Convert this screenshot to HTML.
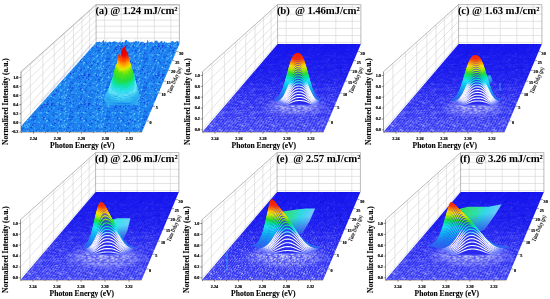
<!DOCTYPE html>
<html><head><meta charset="utf-8"><style>html,body{margin:0;padding:0;background:#fff;width:550px;height:299px;overflow:hidden}svg{display:block}</style></head>
<body><svg width="550" height="299" viewBox="0 0 550 299"><defs><pattern id="pa" patternUnits="userSpaceOnUse" width="37" height="29"><rect width="37" height="29" fill="#1c84f0"/><rect x="23.1" y="26" width="0.8" height="0.8" fill="#50b8ff"/><rect x="32.3" y="0.2" width="1.4" height="1.2" fill="#1038d8"/><rect x="17.3" y="8.8" width="0.9" height="1" fill="#1460e8"/><rect x="18.7" y="16.1" width="1.6" height="1.2" fill="#2a98f6"/><rect x="23" y="28.7" width="0.8" height="1.1" fill="#1460e8"/><rect x="1.6" y="1" width="1.1" height="1" fill="#2a98f6"/><rect x="33.9" y="18.2" width="1.1" height="0.8" fill="#1460e8"/><rect x="0.4" y="5.6" width="1.3" height="0.8" fill="#50b8ff"/><rect x="13.7" y="0.1" width="0.8" height="0.8" fill="#50b8ff"/><rect x="32.6" y="14.8" width="1.4" height="1.1" fill="#1038d8"/><rect x="27.4" y="2.7" width="1.1" height="1.3" fill="#2a98f6"/><rect x="13.4" y="17.3" width="0.7" height="0.9" fill="#50b8ff"/><rect x="12" y="4.4" width="1" height="1.4" fill="#1460e8"/><rect x="21.8" y="17.5" width="1.2" height="1.1" fill="#1038d8"/><rect x="5.6" y="12.8" width="1" height="0.7" fill="#1460e8"/><rect x="35.8" y="6.2" width="1.3" height="0.8" fill="#2a98f6"/><rect x="32.3" y="19.2" width="1.4" height="1.4" fill="#50b8ff"/><rect x="33.4" y="16.5" width="0.7" height="0.8" fill="#1248e0"/><rect x="34.3" y="16" width="1.5" height="1.1" fill="#1248e0"/><rect x="21.1" y="10.9" width="1" height="0.8" fill="#2a98f6"/><rect x="1.4" y="25.4" width="1.1" height="0.9" fill="#50b8ff"/><rect x="27.8" y="0.7" width="1" height="0.6" fill="#1460e8"/><rect x="4.5" y="28" width="1" height="1" fill="#1248e0"/><rect x="32.3" y="10" width="1.2" height="1.1" fill="#50b8ff"/><rect x="13.2" y="15.1" width="1.5" height="0.7" fill="#50b8ff"/><rect x="34.5" y="0.2" width="1.4" height="1.2" fill="#1038d8"/><rect x="5.1" y="12.1" width="0.6" height="1.1" fill="#70d0ff"/><rect x="29.3" y="14.9" width="1.3" height="0.8" fill="#1038d8"/><rect x="7.3" y="10.5" width="0.9" height="1.4" fill="#1248e0"/><rect x="21.2" y="9.9" width="0.9" height="1.4" fill="#2a98f6"/><rect x="16.4" y="28.4" width="1.1" height="1.3" fill="#1248e0"/><rect x="27.5" y="16.8" width="1" height="1.3" fill="#50b8ff"/><rect x="15.2" y="26.8" width="1" height="1" fill="#1248e0"/><rect x="35.2" y="7.3" width="1.4" height="1.1" fill="#1248e0"/><rect x="26.5" y="18.3" width="0.9" height="0.9" fill="#70d0ff"/><rect x="7.5" y="1.5" width="0.8" height="1.3" fill="#70d0ff"/><rect x="31.1" y="3.3" width="1.1" height="1.1" fill="#1038d8"/><rect x="24.4" y="8.9" width="1.6" height="1" fill="#50b8ff"/><rect x="23.2" y="18.4" width="0.7" height="0.9" fill="#1248e0"/><rect x="28.3" y="23.6" width="1.3" height="0.7" fill="#2a98f6"/><rect x="33.8" y="23.3" width="1.1" height="1.3" fill="#1038d8"/><rect x="1.7" y="0.9" width="0.6" height="0.8" fill="#70d0ff"/><rect x="9.2" y="5.4" width="0.6" height="1.1" fill="#70d0ff"/><rect x="6.1" y="19.7" width="0.6" height="0.8" fill="#50b8ff"/><rect x="34.7" y="15.6" width="1.3" height="1.1" fill="#50b8ff"/><rect x="7.1" y="16.7" width="0.6" height="1.2" fill="#1038d8"/><rect x="35.5" y="24.8" width="0.9" height="0.9" fill="#1248e0"/><rect x="4.2" y="18.2" width="1.4" height="0.9" fill="#1248e0"/><rect x="31.9" y="23.1" width="1.4" height="1.3" fill="#2a98f6"/><rect x="7.3" y="16.6" width="1.2" height="1.1" fill="#1248e0"/><rect x="3.6" y="19.2" width="1.4" height="1.2" fill="#1248e0"/><rect x="12.1" y="20.9" width="1.5" height="1.3" fill="#50b8ff"/><rect x="6" y="0.8" width="0.8" height="1.1" fill="#1460e8"/><rect x="35" y="11" width="0.9" height="1" fill="#50b8ff"/><rect x="24.3" y="2.9" width="0.7" height="1.1" fill="#50b8ff"/><rect x="30.7" y="10.9" width="1" height="1" fill="#1460e8"/><rect x="8" y="7.2" width="1.1" height="0.7" fill="#2a98f6"/><rect x="27.9" y="16.8" width="0.9" height="0.7" fill="#2a98f6"/><rect x="28.2" y="3.8" width="0.7" height="0.7" fill="#50b8ff"/><rect x="33.5" y="7.8" width="0.9" height="1.3" fill="#1248e0"/><rect x="22.9" y="5.4" width="1.5" height="0.9" fill="#1248e0"/><rect x="26.3" y="2.8" width="1.3" height="1.2" fill="#1460e8"/><rect x="30.6" y="19.6" width="0.7" height="1" fill="#1460e8"/><rect x="28" y="5.5" width="0.9" height="1" fill="#1460e8"/><rect x="27.7" y="26" width="0.8" height="1.2" fill="#50b8ff"/><rect x="23.8" y="20.9" width="1.6" height="1.4" fill="#1248e0"/><rect x="31.2" y="22.5" width="1.2" height="0.7" fill="#50b8ff"/><rect x="28.1" y="22" width="1.3" height="1" fill="#1460e8"/><rect x="14" y="12.2" width="1.4" height="1" fill="#1460e8"/><rect x="14.3" y="15.9" width="1.3" height="0.9" fill="#1248e0"/><rect x="30.7" y="26.7" width="0.7" height="1.2" fill="#1460e8"/><rect x="36.7" y="4.3" width="1.3" height="1.3" fill="#1460e8"/><rect x="34.1" y="3.6" width="1.6" height="0.7" fill="#1460e8"/><rect x="6.5" y="16.7" width="1" height="1.2" fill="#1248e0"/><rect x="7.1" y="26.5" width="1.4" height="0.7" fill="#1038d8"/><rect x="17.5" y="0.9" width="0.9" height="0.8" fill="#2a98f6"/><rect x="26.6" y="13.2" width="1.6" height="1.3" fill="#1038d8"/><rect x="33.9" y="7.2" width="1" height="0.8" fill="#1248e0"/><rect x="4.6" y="1" width="0.7" height="0.7" fill="#70d0ff"/><rect x="31.8" y="14" width="0.8" height="1.1" fill="#50b8ff"/><rect x="9.8" y="15.3" width="1.1" height="1.1" fill="#1038d8"/><rect x="19.8" y="11.5" width="1.4" height="1.3" fill="#2a98f6"/><rect x="6.6" y="4" width="1.6" height="1.4" fill="#1460e8"/><rect x="8.5" y="28.1" width="0.8" height="1" fill="#1248e0"/><rect x="18.4" y="26.5" width="0.9" height="1.1" fill="#1038d8"/><rect x="2.5" y="6.9" width="1.1" height="1.3" fill="#1248e0"/><rect x="28.2" y="24" width="1.3" height="1.3" fill="#70d0ff"/><rect x="25.2" y="21.3" width="0.9" height="0.7" fill="#1038d8"/><rect x="28" y="4.8" width="1.2" height="0.9" fill="#1460e8"/><rect x="34.7" y="4.5" width="1.1" height="0.7" fill="#70d0ff"/><rect x="35.7" y="16.7" width="0.9" height="1.2" fill="#1460e8"/><rect x="26" y="18.7" width="1.6" height="0.9" fill="#1038d8"/><rect x="15.4" y="20.1" width="0.9" height="1.1" fill="#2a98f6"/><rect x="7.7" y="16" width="1.4" height="0.7" fill="#70d0ff"/><rect x="26.9" y="0.4" width="1.1" height="0.9" fill="#50b8ff"/><rect x="26.7" y="15.2" width="1.3" height="0.7" fill="#70d0ff"/><rect x="20.8" y="16.2" width="0.6" height="1" fill="#1248e0"/><rect x="23.3" y="16" width="0.7" height="1.1" fill="#70d0ff"/><rect x="8.2" y="5.7" width="0.8" height="1" fill="#2a98f6"/><rect x="27.8" y="20.5" width="1.2" height="1.2" fill="#70d0ff"/><rect x="17.2" y="18" width="1.3" height="1.1" fill="#1248e0"/><rect x="15" y="16.2" width="1" height="1.2" fill="#1038d8"/><rect x="14.1" y="13.5" width="1.1" height="0.9" fill="#1248e0"/><rect x="30.6" y="11" width="1.4" height="1.2" fill="#1038d8"/><rect x="16.5" y="20.7" width="1" height="1.3" fill="#70d0ff"/><rect x="21.4" y="16.2" width="1.3" height="1.1" fill="#1248e0"/><rect x="21.6" y="12.2" width="0.9" height="0.8" fill="#1248e0"/><rect x="15.9" y="29" width="1" height="1" fill="#2a98f6"/><rect x="13.8" y="16.9" width="1.5" height="0.9" fill="#1038d8"/><rect x="9.9" y="25.6" width="1.1" height="1.1" fill="#70d0ff"/><rect x="2.7" y="25.1" width="1.1" height="0.8" fill="#2a98f6"/><rect x="15.5" y="24" width="1.4" height="1" fill="#2a98f6"/><rect x="28.4" y="13.3" width="1.1" height="0.8" fill="#1038d8"/><rect x="11.7" y="20.5" width="1.4" height="0.6" fill="#1460e8"/><rect x="27.1" y="23.7" width="0.7" height="1.1" fill="#1460e8"/><rect x="9.1" y="18.7" width="1" height="1.1" fill="#1460e8"/><rect x="9.6" y="13.8" width="1.2" height="0.8" fill="#2a98f6"/><rect x="35.6" y="8.4" width="0.9" height="0.8" fill="#50b8ff"/><rect x="2.5" y="12.3" width="1.3" height="0.8" fill="#70d0ff"/><rect x="5.1" y="9.3" width="1.4" height="1" fill="#1038d8"/><rect x="34.2" y="19" width="1.4" height="1.2" fill="#50b8ff"/><rect x="12.7" y="7.5" width="1" height="1" fill="#50b8ff"/><rect x="5.2" y="12.8" width="0.7" height="0.7" fill="#2a98f6"/><rect x="6.4" y="8.2" width="1.6" height="0.6" fill="#50b8ff"/><rect x="6.8" y="4.8" width="0.6" height="1" fill="#70d0ff"/><rect x="6" y="7.8" width="1.4" height="0.7" fill="#1460e8"/><rect x="22.8" y="11.8" width="1.4" height="0.7" fill="#1038d8"/><rect x="34.2" y="25.9" width="1.3" height="0.6" fill="#1460e8"/><rect x="24.5" y="17.4" width="0.8" height="1.4" fill="#1460e8"/><rect x="32.8" y="3.3" width="0.9" height="0.6" fill="#1038d8"/><rect x="30.7" y="26.5" width="1.2" height="1.1" fill="#70d0ff"/><rect x="25.1" y="16.5" width="1.6" height="1.1" fill="#70d0ff"/><rect x="12.4" y="14.9" width="1.3" height="1.2" fill="#2a98f6"/><rect x="15.6" y="24.7" width="1.4" height="0.9" fill="#1248e0"/><rect x="2.9" y="3.8" width="0.9" height="1" fill="#50b8ff"/><rect x="34.3" y="8.1" width="1.5" height="1.1" fill="#2a98f6"/><rect x="31.6" y="11.7" width="1.4" height="0.8" fill="#1460e8"/><rect x="5.3" y="23.2" width="1.3" height="0.8" fill="#1248e0"/><rect x="9.9" y="27.2" width="1.3" height="0.7" fill="#1038d8"/><rect x="30.2" y="3.4" width="1.1" height="0.6" fill="#2a98f6"/><rect x="20.4" y="24.6" width="0.9" height="1.2" fill="#50b8ff"/><rect x="22.5" y="9.1" width="1.2" height="1" fill="#1248e0"/><rect x="31.9" y="8.5" width="1.2" height="1.2" fill="#1038d8"/><rect x="14" y="21" width="1.3" height="0.9" fill="#1038d8"/><rect x="1" y="27.9" width="0.8" height="1.2" fill="#50b8ff"/><rect x="10.3" y="13.6" width="1.5" height="1" fill="#1038d8"/><rect x="10.7" y="8.9" width="0.8" height="0.8" fill="#50b8ff"/><rect x="6.4" y="1.8" width="1.1" height="0.8" fill="#1248e0"/><rect x="27.3" y="26.8" width="1.2" height="1" fill="#50b8ff"/><rect x="2.8" y="3.6" width="1.5" height="1" fill="#2a98f6"/><rect x="29.8" y="1.9" width="1.5" height="1.3" fill="#70d0ff"/><rect x="0.2" y="15.1" width="1" height="1.2" fill="#50b8ff"/><rect x="2.7" y="7.7" width="1.1" height="1" fill="#2a98f6"/><rect x="35.8" y="9.3" width="0.6" height="0.9" fill="#1038d8"/><rect x="5.7" y="2.4" width="1.6" height="1.1" fill="#1248e0"/><rect x="23.9" y="9.4" width="1.2" height="1.2" fill="#50b8ff"/><rect x="21.8" y="23.3" width="0.8" height="1.1" fill="#70d0ff"/><rect x="18.2" y="4.8" width="1.2" height="1.3" fill="#50b8ff"/><rect x="5" y="15.8" width="1" height="0.8" fill="#70d0ff"/><rect x="13.8" y="15.7" width="1.3" height="1" fill="#1038d8"/><rect x="4" y="23.7" width="0.7" height="0.8" fill="#1038d8"/><rect x="6.4" y="24.6" width="1.5" height="0.6" fill="#70d0ff"/><rect x="12.3" y="5.6" width="1.5" height="0.7" fill="#1460e8"/><rect x="6.3" y="14.1" width="1.1" height="1.2" fill="#1460e8"/><rect x="16.2" y="4.1" width="1.6" height="1.2" fill="#70d0ff"/><rect x="4.3" y="23.4" width="0.9" height="1.2" fill="#1460e8"/><rect x="0.5" y="25.3" width="1.1" height="1.1" fill="#50b8ff"/><rect x="18.8" y="4.8" width="0.7" height="0.8" fill="#1248e0"/><rect x="1.9" y="6.3" width="1.1" height="0.9" fill="#70d0ff"/><rect x="21.7" y="8.1" width="0.6" height="0.9" fill="#1248e0"/><rect x="27.9" y="7.4" width="1.4" height="0.9" fill="#2a98f6"/><rect x="32.8" y="26.6" width="0.9" height="1.2" fill="#1460e8"/><rect x="9.4" y="4" width="1.2" height="1.3" fill="#70d0ff"/><rect x="5.4" y="20.7" width="1.1" height="0.7" fill="#1460e8"/><rect x="36" y="20.2" width="1.5" height="0.7" fill="#2a98f6"/><rect x="3.4" y="9.6" width="1.5" height="0.6" fill="#1248e0"/><rect x="34" y="17.7" width="1.2" height="1" fill="#70d0ff"/><rect x="20.9" y="21.4" width="1.3" height="1.4" fill="#1248e0"/><rect x="5.8" y="23.6" width="1.4" height="1.3" fill="#1460e8"/><rect x="36.7" y="7.7" width="1.1" height="1.4" fill="#1460e8"/><rect x="35" y="10.8" width="1" height="0.9" fill="#1460e8"/><rect x="28" y="13.7" width="1" height="0.9" fill="#70d0ff"/><rect x="16" y="4.1" width="1.4" height="1.1" fill="#1248e0"/><rect x="24.9" y="23.3" width="0.8" height="0.8" fill="#1248e0"/><rect x="10.3" y="8.8" width="1" height="0.9" fill="#50b8ff"/><rect x="23.5" y="5.4" width="0.7" height="1.2" fill="#1038d8"/><rect x="28" y="8.6" width="0.6" height="0.9" fill="#1460e8"/><rect x="21.4" y="7.3" width="0.9" height="1.1" fill="#50b8ff"/><rect x="21.8" y="4.5" width="0.7" height="1.4" fill="#2a98f6"/><rect x="7.5" y="7.4" width="0.8" height="1.4" fill="#1038d8"/><rect x="10.6" y="17.6" width="1.6" height="0.6" fill="#1248e0"/><rect x="19.3" y="17.4" width="1.3" height="0.9" fill="#70d0ff"/><rect x="12.1" y="0.1" width="1.2" height="0.7" fill="#1460e8"/><rect x="7.5" y="9.7" width="0.7" height="0.6" fill="#1248e0"/><rect x="34.3" y="12.6" width="1.3" height="0.6" fill="#70d0ff"/><rect x="9.1" y="27.9" width="1.5" height="1.1" fill="#2a98f6"/><rect x="3.4" y="9.2" width="0.8" height="0.6" fill="#1460e8"/><rect x="4.7" y="18.4" width="0.7" height="0.7" fill="#1248e0"/><rect x="33.4" y="9.7" width="0.7" height="1.2" fill="#50b8ff"/><rect x="25" y="15.9" width="1.2" height="0.7" fill="#2a98f6"/><rect x="9.6" y="16.9" width="1.4" height="1.1" fill="#1038d8"/><rect x="19.2" y="0.4" width="1.5" height="0.7" fill="#70d0ff"/><rect x="4.8" y="20.1" width="1.4" height="1" fill="#1038d8"/><rect x="6.6" y="1" width="1.5" height="1.4" fill="#1038d8"/><rect x="9" y="25.1" width="0.9" height="1" fill="#70d0ff"/><rect x="0.3" y="12.8" width="0.8" height="1.2" fill="#1460e8"/><rect x="18.6" y="25.2" width="0.9" height="0.8" fill="#70d0ff"/><rect x="34.7" y="14.6" width="0.7" height="0.6" fill="#70d0ff"/><rect x="36.6" y="16.8" width="1.1" height="1" fill="#1038d8"/><rect x="16.1" y="27.6" width="1.5" height="0.7" fill="#1248e0"/><rect x="5.6" y="11.8" width="1.2" height="1.2" fill="#1038d8"/><rect x="21.3" y="6.1" width="1.4" height="0.6" fill="#70d0ff"/><rect x="25.8" y="5.6" width="1.6" height="1" fill="#2a98f6"/><rect x="2.1" y="12.4" width="1.3" height="0.6" fill="#1460e8"/><rect x="9.3" y="0.5" width="1" height="1" fill="#1038d8"/><rect x="10.9" y="19" width="0.8" height="1.3" fill="#50b8ff"/><rect x="35.5" y="14.3" width="1.5" height="0.8" fill="#1038d8"/><rect x="29.7" y="8.3" width="1.3" height="0.9" fill="#1460e8"/><rect x="22.3" y="26.9" width="1.4" height="1" fill="#50b8ff"/><rect x="14" y="10.2" width="0.7" height="0.8" fill="#1248e0"/><rect x="23.1" y="2.8" width="1.6" height="1.4" fill="#50b8ff"/><rect x="32.9" y="23.4" width="0.8" height="1.4" fill="#1038d8"/><rect x="7.5" y="25.2" width="1.2" height="1" fill="#2a98f6"/><rect x="7.4" y="15.1" width="0.9" height="0.7" fill="#70d0ff"/><rect x="4.7" y="23.2" width="0.7" height="0.6" fill="#70d0ff"/><rect x="9.8" y="3.9" width="0.8" height="1.1" fill="#70d0ff"/><rect x="15.6" y="12.4" width="1.3" height="0.8" fill="#1038d8"/><rect x="14.8" y="13.4" width="1.5" height="0.8" fill="#2a98f6"/><rect x="26.6" y="9" width="1" height="1" fill="#50b8ff"/><rect x="32.5" y="19.5" width="0.7" height="0.7" fill="#70d0ff"/><rect x="36.7" y="0.8" width="1.6" height="0.6" fill="#1038d8"/><rect x="6" y="6.2" width="0.7" height="1" fill="#2a98f6"/><rect x="21.9" y="9.2" width="1.4" height="1.2" fill="#50b8ff"/><rect x="20.8" y="4" width="1.1" height="1.1" fill="#1248e0"/><rect x="15.8" y="25.1" width="1.1" height="0.7" fill="#1460e8"/><rect x="20.9" y="22.2" width="1.3" height="0.8" fill="#1460e8"/><rect x="36.7" y="20.9" width="1" height="1.2" fill="#1038d8"/><rect x="6.5" y="18.5" width="1.3" height="1" fill="#1460e8"/><rect x="32.3" y="13.6" width="0.9" height="1.3" fill="#2a98f6"/><rect x="11.7" y="20.2" width="1" height="1.3" fill="#1460e8"/><rect x="35.1" y="0.9" width="1.2" height="0.7" fill="#1248e0"/><rect x="18.4" y="1.4" width="1.1" height="0.7" fill="#70d0ff"/><rect x="13.6" y="8.8" width="1.4" height="1.3" fill="#70d0ff"/><rect x="12.2" y="16.5" width="0.6" height="0.9" fill="#50b8ff"/><rect x="35.5" y="3.4" width="1.3" height="0.8" fill="#1460e8"/><rect x="28.8" y="8.4" width="1.5" height="0.7" fill="#70d0ff"/><rect x="4.4" y="21.8" width="0.7" height="1" fill="#50b8ff"/><rect x="11" y="15.9" width="1.3" height="1.3" fill="#1460e8"/><rect x="2.2" y="17.2" width="1.1" height="1.2" fill="#2a98f6"/><rect x="3.6" y="25.3" width="1.2" height="1.3" fill="#70d0ff"/><rect x="29.1" y="25.2" width="1.3" height="0.8" fill="#1460e8"/><rect x="9.8" y="9.4" width="1.2" height="1.1" fill="#1248e0"/><rect x="34.5" y="0.4" width="1" height="1.3" fill="#1460e8"/><rect x="20.3" y="14.8" width="1.4" height="1.1" fill="#2a98f6"/><rect x="10.7" y="2.5" width="1.5" height="1.1" fill="#1248e0"/><rect x="2" y="12.8" width="1" height="1.1" fill="#1460e8"/><rect x="21.7" y="27.6" width="1" height="1.1" fill="#50b8ff"/><rect x="32.8" y="20.5" width="1.1" height="1.3" fill="#1460e8"/><rect x="18" y="27.9" width="0.7" height="1.3" fill="#50b8ff"/><rect x="11" y="24.6" width="1.2" height="1" fill="#2a98f6"/><rect x="3.2" y="22.8" width="1.6" height="1.3" fill="#2a98f6"/><rect x="11.2" y="3.7" width="1.5" height="1" fill="#1248e0"/><rect x="4.6" y="14.5" width="1" height="1.1" fill="#1038d8"/><rect x="33.9" y="23.2" width="0.8" height="1" fill="#2a98f6"/><rect x="18.2" y="28.7" width="1.1" height="1.3" fill="#70d0ff"/><rect x="14.8" y="7.6" width="1.2" height="0.9" fill="#1248e0"/><rect x="34.3" y="2.5" width="0.7" height="1.2" fill="#1248e0"/><rect x="10.8" y="26.1" width="1.5" height="1.3" fill="#2a98f6"/><rect x="9.5" y="0" width="1.6" height="1.2" fill="#2a98f6"/><rect x="2.2" y="20.4" width="1.5" height="1.4" fill="#1460e8"/><rect x="26.5" y="25" width="1" height="0.7" fill="#70d0ff"/><rect x="26.9" y="4" width="1" height="1.4" fill="#70d0ff"/><rect x="20.7" y="15.1" width="0.9" height="1.4" fill="#70d0ff"/><rect x="33.7" y="10.6" width="0.9" height="0.7" fill="#70d0ff"/><rect x="33.9" y="5.4" width="1.5" height="1.1" fill="#2a98f6"/><rect x="24.9" y="21.3" width="0.6" height="0.7" fill="#1248e0"/><rect x="18.5" y="1.5" width="1.3" height="1.1" fill="#2a98f6"/><rect x="22.8" y="1.3" width="0.8" height="1.3" fill="#50b8ff"/><rect x="4.6" y="15.5" width="1.5" height="0.7" fill="#50b8ff"/><rect x="15.2" y="15.9" width="1.3" height="1.3" fill="#1248e0"/><rect x="27.2" y="10.1" width="1.3" height="1.4" fill="#70d0ff"/><rect x="0.6" y="22.5" width="0.8" height="1" fill="#1248e0"/><rect x="19.3" y="17.8" width="1.3" height="0.9" fill="#1460e8"/><rect x="26.5" y="13.5" width="1" height="0.9" fill="#70d0ff"/><rect x="18.3" y="8.2" width="0.7" height="1" fill="#2a98f6"/><rect x="10.9" y="24.3" width="1.4" height="0.9" fill="#2a98f6"/><rect x="22.9" y="26.2" width="1.2" height="1" fill="#70d0ff"/><rect x="24.1" y="27.8" width="0.7" height="1.4" fill="#1460e8"/><rect x="24.6" y="23.1" width="1.5" height="0.9" fill="#1248e0"/><rect x="26.2" y="7.7" width="1.1" height="1.1" fill="#50b8ff"/><rect x="7.4" y="1.8" width="1.4" height="1.1" fill="#70d0ff"/><rect x="11.9" y="19.1" width="0.7" height="1.1" fill="#1038d8"/><rect x="21.3" y="17.9" width="0.8" height="1.2" fill="#2a98f6"/><rect x="17.2" y="21.6" width="1" height="0.7" fill="#1460e8"/><rect x="20.1" y="18.1" width="1.5" height="0.6" fill="#2a98f6"/><rect x="28.6" y="7.6" width="1.3" height="0.9" fill="#70d0ff"/><rect x="11.9" y="14.2" width="1.3" height="1.1" fill="#2a98f6"/><rect x="25.1" y="11.1" width="1.3" height="0.9" fill="#50b8ff"/><rect x="22.5" y="13.3" width="0.6" height="1" fill="#1460e8"/><rect x="8.1" y="11.2" width="0.7" height="1.1" fill="#50b8ff"/><rect x="33.1" y="10.3" width="1.2" height="0.7" fill="#1248e0"/><rect x="33" y="3.6" width="1" height="1" fill="#1248e0"/><rect x="4.4" y="9.2" width="1.3" height="1.4" fill="#70d0ff"/><rect x="13.4" y="22.9" width="0.7" height="1.1" fill="#2a98f6"/><rect x="16" y="8.4" width="1.3" height="0.7" fill="#1460e8"/><rect x="10.8" y="23.8" width="1.6" height="1.1" fill="#1038d8"/><rect x="32.3" y="28.5" width="1.2" height="0.8" fill="#1038d8"/><rect x="13.7" y="18.1" width="1.5" height="0.8" fill="#1038d8"/><rect x="14.6" y="0.6" width="1" height="1.2" fill="#2a98f6"/><rect x="8.6" y="19.1" width="1.3" height="1" fill="#1038d8"/><rect x="7" y="11.7" width="0.8" height="0.7" fill="#1038d8"/><rect x="17.1" y="6.8" width="1.4" height="1.3" fill="#1038d8"/><rect x="35" y="24.4" width="0.8" height="1.3" fill="#1248e0"/><rect x="26.9" y="21.7" width="1.3" height="1.3" fill="#50b8ff"/><rect x="11" y="19.5" width="0.9" height="0.9" fill="#2a98f6"/><rect x="5.8" y="14.3" width="1" height="0.9" fill="#50b8ff"/><rect x="31.5" y="19.8" width="1.6" height="0.8" fill="#1460e8"/><rect x="18.8" y="2.7" width="1" height="1.4" fill="#1038d8"/><rect x="3.2" y="22" width="1.1" height="1.2" fill="#1038d8"/><rect x="16.3" y="10.2" width="1.1" height="0.8" fill="#70d0ff"/></pattern><pattern id="pb" patternUnits="userSpaceOnUse" width="37" height="29"><rect width="37" height="29" fill="#1414ee"/><rect x="11.4" y="8.9" width="0.9" height="0.8" fill="#0a0ae0"/><rect x="34.8" y="4" width="1.6" height="1.3" fill="#0808d8"/><rect x="23.9" y="12.4" width="0.7" height="0.7" fill="#0808d8"/><rect x="12.9" y="11.8" width="1.5" height="1" fill="#2424f4"/><rect x="36.7" y="20.9" width="1.2" height="0.7" fill="#0a0ae0"/><rect x="1.5" y="27.4" width="0.9" height="0.8" fill="#2424f4"/><rect x="3.8" y="18.9" width="0.6" height="1.2" fill="#0a0ae0"/><rect x="9.5" y="22.6" width="1.1" height="1" fill="#0a0ae0"/><rect x="16.9" y="19.6" width="1.4" height="0.7" fill="#2424f4"/><rect x="18.3" y="6.8" width="0.7" height="0.8" fill="#0808d8"/><rect x="9.2" y="27.8" width="1.5" height="1.2" fill="#2c2cf4"/><rect x="11.7" y="11.3" width="1" height="0.8" fill="#2c2cf4"/><rect x="15.6" y="22.4" width="0.9" height="1" fill="#2c2cf4"/><rect x="25" y="18.7" width="1.3" height="0.7" fill="#2424f4"/><rect x="6.7" y="9" width="1.4" height="1.4" fill="#0808d8"/><rect x="25.3" y="1" width="0.9" height="1.2" fill="#0a0ae0"/><rect x="34.2" y="17.3" width="1" height="1.1" fill="#0a0ae0"/><rect x="32" y="9.9" width="0.8" height="0.6" fill="#0a0ae0"/><rect x="5.1" y="24.7" width="1.6" height="0.7" fill="#0808d8"/><rect x="13.5" y="23.1" width="1.3" height="0.7" fill="#2c2cf4"/><rect x="14.9" y="18.5" width="1.1" height="0.8" fill="#0a0ae0"/><rect x="35.7" y="13.5" width="1.3" height="1" fill="#2c2cf4"/><rect x="3" y="6.9" width="0.8" height="0.8" fill="#2c2cf4"/><rect x="15.3" y="9.3" width="1" height="1.3" fill="#2424f4"/><rect x="0.8" y="3" width="1.1" height="1" fill="#2c2cf4"/><rect x="9.9" y="15.7" width="0.8" height="1.3" fill="#0808d8"/><rect x="30.5" y="9.3" width="1.5" height="0.8" fill="#0808d8"/><rect x="24.3" y="24.9" width="1.4" height="1.3" fill="#2424f4"/><rect x="18.1" y="24.4" width="0.9" height="1" fill="#2424f4"/><rect x="12.4" y="22.2" width="1.4" height="0.7" fill="#0a0ae0"/><rect x="6.1" y="11.1" width="1.6" height="1.4" fill="#2c2cf4"/><rect x="35.8" y="21.2" width="1.3" height="0.8" fill="#0a0ae0"/><rect x="13.8" y="0.1" width="0.9" height="0.7" fill="#0a0ae0"/><rect x="11.7" y="9.4" width="1.3" height="0.6" fill="#0808d8"/><rect x="8.5" y="26" width="1.2" height="1" fill="#2424f4"/><rect x="8.2" y="25.4" width="1.4" height="1" fill="#0808d8"/><rect x="6" y="6.3" width="0.9" height="0.6" fill="#2c2cf4"/><rect x="15" y="13" width="0.9" height="0.9" fill="#0a0ae0"/><rect x="12.3" y="10.9" width="1.1" height="0.8" fill="#2424f4"/><rect x="29.4" y="14.9" width="1.1" height="1.2" fill="#2c2cf4"/><rect x="27.8" y="24.6" width="1.3" height="1.2" fill="#0808d8"/><rect x="5.8" y="20.3" width="0.9" height="0.8" fill="#0808d8"/><rect x="4.4" y="11.5" width="1.3" height="1.2" fill="#2c2cf4"/><rect x="28.7" y="3.7" width="1.2" height="1.3" fill="#2424f4"/><rect x="1.3" y="5.6" width="1.1" height="0.7" fill="#0808d8"/><rect x="19.9" y="10" width="1.3" height="1" fill="#0a0ae0"/><rect x="25.4" y="7.1" width="1.3" height="1.2" fill="#2c2cf4"/><rect x="2.5" y="27.4" width="1.2" height="0.8" fill="#2c2cf4"/><rect x="16.1" y="15" width="0.8" height="0.8" fill="#0a0ae0"/><rect x="13.5" y="22.6" width="1" height="0.6" fill="#2c2cf4"/><rect x="16.7" y="5.8" width="1.6" height="0.8" fill="#2c2cf4"/><rect x="19.9" y="10.4" width="0.7" height="1.3" fill="#2424f4"/><rect x="34.6" y="5.4" width="1" height="0.7" fill="#2424f4"/><rect x="24.5" y="22.7" width="1.4" height="1.1" fill="#0a0ae0"/><rect x="0.6" y="6.7" width="1.3" height="0.9" fill="#2424f4"/><rect x="16.6" y="24.4" width="0.6" height="0.8" fill="#2c2cf4"/><rect x="10.7" y="28.8" width="0.6" height="0.9" fill="#0808d8"/><rect x="24" y="4.4" width="1.4" height="0.8" fill="#2424f4"/><rect x="26.1" y="4.7" width="0.8" height="1.2" fill="#0a0ae0"/><rect x="31" y="7.4" width="0.7" height="1.1" fill="#0808d8"/><rect x="18.5" y="13.9" width="1.1" height="1" fill="#2424f4"/><rect x="18" y="13.2" width="1" height="0.7" fill="#0808d8"/><rect x="10.9" y="7.7" width="1.4" height="0.7" fill="#0808d8"/><rect x="7.6" y="15.3" width="0.9" height="0.8" fill="#2424f4"/><rect x="13.8" y="14.6" width="1.6" height="1.3" fill="#0808d8"/><rect x="15.9" y="13.1" width="1" height="0.8" fill="#2c2cf4"/><rect x="35.2" y="2" width="1.3" height="1.1" fill="#2c2cf4"/><rect x="10.3" y="27.2" width="1" height="1.1" fill="#2424f4"/><rect x="3.4" y="25.8" width="1" height="1.3" fill="#2c2cf4"/><rect x="35" y="26.2" width="1.4" height="0.8" fill="#2424f4"/><rect x="1.2" y="13.1" width="1.6" height="0.6" fill="#0a0ae0"/><rect x="12" y="5.9" width="0.6" height="1" fill="#2424f4"/><rect x="2.8" y="26.1" width="1" height="1.3" fill="#0a0ae0"/><rect x="29.5" y="9.5" width="1.4" height="1.3" fill="#2c2cf4"/><rect x="22.9" y="10.2" width="1.5" height="0.9" fill="#0a0ae0"/><rect x="3.2" y="25.2" width="1.3" height="0.8" fill="#0808d8"/><rect x="21" y="8.9" width="0.9" height="0.8" fill="#2424f4"/><rect x="1.6" y="9.9" width="1.6" height="0.8" fill="#0808d8"/><rect x="16.9" y="28.2" width="0.9" height="1.3" fill="#2424f4"/><rect x="3.5" y="26.9" width="1.4" height="0.7" fill="#2424f4"/><rect x="21.9" y="16.1" width="0.9" height="0.9" fill="#2424f4"/><rect x="8.9" y="8.5" width="0.8" height="1.3" fill="#2c2cf4"/><rect x="32.8" y="10.4" width="1.1" height="0.8" fill="#0a0ae0"/><rect x="12.9" y="28" width="0.9" height="1.1" fill="#2c2cf4"/><rect x="35" y="8.6" width="0.7" height="1.2" fill="#2424f4"/><rect x="29.8" y="24.3" width="1.6" height="1.2" fill="#0808d8"/><rect x="36.2" y="8.1" width="0.8" height="0.7" fill="#0808d8"/><rect x="16.2" y="20.9" width="1.4" height="0.6" fill="#2c2cf4"/><rect x="34.9" y="7.2" width="1.4" height="1.3" fill="#2c2cf4"/><rect x="27.2" y="9.7" width="1.1" height="1.3" fill="#0a0ae0"/><rect x="13.2" y="23.4" width="1.1" height="1.3" fill="#0a0ae0"/><rect x="14.2" y="21.7" width="1.2" height="0.9" fill="#0808d8"/><rect x="19.7" y="17.6" width="0.7" height="1.4" fill="#2c2cf4"/><rect x="35.8" y="1.1" width="1.5" height="1" fill="#2c2cf4"/><rect x="4.7" y="23.8" width="1.3" height="1.3" fill="#2424f4"/><rect x="19.9" y="1.4" width="1.4" height="1.2" fill="#0a0ae0"/><rect x="33.7" y="7.8" width="1.5" height="0.9" fill="#0a0ae0"/><rect x="15.2" y="9.7" width="0.6" height="0.8" fill="#0808d8"/><rect x="12.3" y="3.1" width="1" height="1.1" fill="#0a0ae0"/><rect x="10.5" y="10.5" width="1.4" height="1" fill="#0808d8"/><rect x="22.1" y="12.3" width="1.5" height="0.8" fill="#0808d8"/><rect x="19.2" y="19.9" width="0.7" height="1.4" fill="#2c2cf4"/><rect x="18.5" y="7.1" width="1.4" height="1.1" fill="#0a0ae0"/><rect x="33.9" y="2.6" width="1.1" height="1.2" fill="#0808d8"/><rect x="33.9" y="18.6" width="1" height="1.1" fill="#2424f4"/><rect x="20.5" y="26.2" width="1.4" height="1.2" fill="#2c2cf4"/><rect x="34.2" y="1.9" width="1.1" height="1.2" fill="#2424f4"/><rect x="11" y="13.6" width="1.4" height="0.6" fill="#0808d8"/><rect x="10.8" y="14.2" width="0.9" height="1.3" fill="#0808d8"/><rect x="9" y="8.8" width="1.2" height="1.1" fill="#0808d8"/><rect x="32.6" y="25.5" width="1.3" height="1.1" fill="#2c2cf4"/><rect x="14.3" y="22.5" width="1.5" height="1" fill="#0a0ae0"/><rect x="33.9" y="3.7" width="1.4" height="0.8" fill="#2c2cf4"/><rect x="21.7" y="14.4" width="0.7" height="1.2" fill="#2424f4"/><rect x="27.4" y="4.2" width="1.4" height="1.3" fill="#0a0ae0"/><rect x="32.2" y="14.6" width="1" height="1" fill="#0a0ae0"/><rect x="6.5" y="14.4" width="0.8" height="0.9" fill="#0a0ae0"/><rect x="2.4" y="13.6" width="1.3" height="1.1" fill="#2424f4"/><rect x="36.1" y="25.7" width="1.5" height="1" fill="#2c2cf4"/><rect x="29.6" y="8.2" width="1.1" height="1.4" fill="#2c2cf4"/><rect x="22.2" y="14.7" width="0.9" height="1.3" fill="#0a0ae0"/><rect x="0.7" y="6.9" width="0.8" height="0.8" fill="#0808d8"/><rect x="35" y="0.7" width="1.2" height="1.2" fill="#2c2cf4"/><rect x="28.6" y="11.1" width="0.8" height="1.3" fill="#0a0ae0"/><rect x="4.5" y="1.9" width="1.1" height="1.4" fill="#2c2cf4"/><rect x="27" y="16.4" width="1.1" height="1.2" fill="#2424f4"/><rect x="23.2" y="9.8" width="0.8" height="1.2" fill="#2424f4"/><rect x="23.5" y="23.1" width="0.6" height="1.3" fill="#2424f4"/><rect x="14.1" y="26.9" width="1.1" height="1.3" fill="#2424f4"/><rect x="23.1" y="19.6" width="0.8" height="1.1" fill="#2c2cf4"/><rect x="13.2" y="2.2" width="1.1" height="0.8" fill="#2c2cf4"/><rect x="28.3" y="3.5" width="0.6" height="1.4" fill="#2424f4"/><rect x="11.6" y="14.8" width="0.8" height="0.9" fill="#0808d8"/><rect x="29.2" y="1.1" width="1.4" height="1.4" fill="#2424f4"/><rect x="20.7" y="10.4" width="0.8" height="0.9" fill="#0a0ae0"/><rect x="31.5" y="0.1" width="1.4" height="1.1" fill="#2424f4"/><rect x="0.7" y="2" width="1.3" height="0.9" fill="#0808d8"/><rect x="31.9" y="6.1" width="1" height="0.7" fill="#2c2cf4"/><rect x="23.9" y="2.5" width="1.4" height="1" fill="#2424f4"/><rect x="24.5" y="21.3" width="1.2" height="0.8" fill="#2424f4"/><rect x="25.8" y="3.4" width="1" height="0.7" fill="#0a0ae0"/><rect x="3.9" y="18.9" width="1.3" height="0.9" fill="#0a0ae0"/><rect x="14.4" y="6" width="1.2" height="1.3" fill="#2c2cf4"/><rect x="1.5" y="26.4" width="1.6" height="0.9" fill="#2c2cf4"/><rect x="26.9" y="23.9" width="0.9" height="1.1" fill="#2424f4"/><rect x="32.4" y="3.1" width="1.1" height="0.6" fill="#2c2cf4"/><rect x="31.3" y="22.6" width="1.3" height="1.2" fill="#0808d8"/><rect x="4.7" y="15.2" width="1.3" height="0.9" fill="#2424f4"/><rect x="18.6" y="28.3" width="1.1" height="0.7" fill="#2424f4"/><rect x="4.5" y="24.7" width="1.3" height="1.3" fill="#2c2cf4"/><rect x="21.4" y="16.7" width="1.3" height="0.9" fill="#0a0ae0"/><rect x="18.4" y="13.6" width="1.3" height="0.8" fill="#2c2cf4"/><rect x="0.9" y="2.6" width="1.5" height="1.2" fill="#0a0ae0"/><rect x="27.7" y="12.9" width="0.7" height="1" fill="#2424f4"/><rect x="31.9" y="14.8" width="1" height="0.7" fill="#0a0ae0"/><rect x="23.2" y="14.1" width="0.9" height="0.8" fill="#2c2cf4"/><rect x="25.8" y="9.2" width="0.9" height="1.2" fill="#0a0ae0"/><rect x="13.9" y="13.9" width="1.5" height="1.2" fill="#2c2cf4"/><rect x="27.2" y="9.8" width="1" height="1.4" fill="#2424f4"/><rect x="33.1" y="19.1" width="1.4" height="1" fill="#0808d8"/></pattern><pattern id="ps" patternUnits="userSpaceOnUse" width="31" height="23"><rect x="22.7" y="2.9" width="0.9" height="0.5" fill="#ffffff"/><rect x="7.5" y="13.2" width="0.9" height="0.5" fill="#7880ff"/><rect x="29.8" y="8" width="0.9" height="0.6" fill="#b0b8ff"/><rect x="11.2" y="2.2" width="0.5" height="0.7" fill="#7880ff"/><rect x="24" y="20.9" width="1" height="0.5" fill="#c8ccff"/><rect x="29.1" y="21.1" width="0.6" height="0.7" fill="#c8ccff"/><rect x="21.8" y="16.2" width="0.8" height="0.6" fill="#7880ff"/><rect x="11.4" y="19.9" width="1" height="0.5" fill="#7880ff"/><rect x="23.9" y="6.3" width="0.6" height="0.6" fill="#c8ccff"/><rect x="8.7" y="5.6" width="0.5" height="0.5" fill="#ffffff"/><rect x="24" y="0.5" width="0.8" height="0.4" fill="#7880ff"/><rect x="9.1" y="20.8" width="1" height="0.7" fill="#9aa0ff"/><rect x="5.3" y="17.6" width="0.6" height="0.6" fill="#9aa0ff"/><rect x="28.6" y="20.2" width="0.7" height="0.4" fill="#9aa0ff"/><rect x="27.9" y="22.7" width="0.6" height="0.6" fill="#b0b8ff"/><rect x="21.6" y="11.1" width="0.7" height="0.5" fill="#9aa0ff"/><rect x="9.2" y="1.1" width="1" height="0.4" fill="#9aa0ff"/><rect x="22.6" y="18.1" width="0.7" height="0.6" fill="#c8ccff"/><rect x="6.8" y="15.4" width="0.9" height="0.6" fill="#9aa0ff"/><rect x="30.1" y="19.9" width="0.8" height="0.7" fill="#b0b8ff"/><rect x="8.5" y="21.7" width="0.9" height="0.5" fill="#c8ccff"/><rect x="30.5" y="2.4" width="0.8" height="0.4" fill="#b0b8ff"/><rect x="5.9" y="17.6" width="0.7" height="0.5" fill="#9aa0ff"/><rect x="26.4" y="1.9" width="0.7" height="0.7" fill="#ffffff"/><rect x="21.3" y="16.2" width="0.5" height="0.7" fill="#7880ff"/><rect x="23.1" y="17.2" width="0.9" height="0.4" fill="#7880ff"/><rect x="2.6" y="17.8" width="0.6" height="0.4" fill="#7880ff"/><rect x="16.5" y="2.1" width="0.9" height="0.5" fill="#b0b8ff"/><rect x="25" y="2.2" width="0.5" height="0.7" fill="#ffffff"/><rect x="17.4" y="5.4" width="1" height="0.7" fill="#9aa0ff"/><rect x="10.4" y="19.7" width="1" height="0.5" fill="#9aa0ff"/><rect x="30.5" y="1.4" width="0.9" height="0.5" fill="#c8ccff"/><rect x="13.1" y="14.6" width="0.6" height="0.4" fill="#c8ccff"/><rect x="22.9" y="5.1" width="0.7" height="0.5" fill="#ffffff"/><rect x="7.3" y="21.5" width="0.8" height="0.7" fill="#9aa0ff"/><rect x="25.5" y="6.1" width="0.5" height="0.6" fill="#9aa0ff"/><rect x="5.3" y="0.5" width="0.8" height="0.6" fill="#b0b8ff"/><rect x="4.2" y="17.5" width="0.8" height="0.5" fill="#7880ff"/><rect x="30.5" y="21.9" width="0.9" height="0.6" fill="#9aa0ff"/><rect x="9.3" y="15" width="0.6" height="0.6" fill="#7880ff"/><rect x="2" y="0.3" width="0.7" height="0.7" fill="#b0b8ff"/><rect x="24.2" y="19.2" width="0.8" height="0.7" fill="#b0b8ff"/><rect x="20.4" y="21.3" width="0.5" height="0.5" fill="#9aa0ff"/><rect x="12.1" y="5.8" width="0.6" height="0.7" fill="#7880ff"/><rect x="0.8" y="4.2" width="0.6" height="0.5" fill="#7880ff"/><rect x="30" y="17.5" width="0.7" height="0.5" fill="#b0b8ff"/><rect x="8.3" y="22.6" width="0.5" height="0.7" fill="#9aa0ff"/><rect x="11.7" y="16.6" width="0.6" height="0.5" fill="#b0b8ff"/><rect x="0.6" y="6.8" width="0.9" height="0.7" fill="#c8ccff"/><rect x="23.2" y="4.5" width="0.7" height="0.8" fill="#7880ff"/><rect x="30.6" y="10.2" width="1" height="0.8" fill="#ffffff"/><rect x="9.2" y="15" width="0.7" height="0.6" fill="#b0b8ff"/><rect x="14.3" y="6.4" width="0.9" height="0.7" fill="#c8ccff"/><rect x="26.1" y="3.5" width="0.6" height="0.6" fill="#ffffff"/><rect x="29" y="10.9" width="0.8" height="0.8" fill="#b0b8ff"/><rect x="26.9" y="20.7" width="0.7" height="0.5" fill="#c8ccff"/><rect x="27" y="18.1" width="0.7" height="0.5" fill="#c8ccff"/><rect x="7.4" y="20" width="1" height="0.5" fill="#7880ff"/><rect x="27.1" y="8.8" width="0.8" height="0.5" fill="#ffffff"/><rect x="8.3" y="6.1" width="0.6" height="0.6" fill="#9aa0ff"/><rect x="3.1" y="17.9" width="0.7" height="0.7" fill="#c8ccff"/><rect x="4.3" y="9.4" width="0.8" height="0.6" fill="#ffffff"/><rect x="27.7" y="18.1" width="0.9" height="0.6" fill="#b0b8ff"/><rect x="21" y="3.7" width="0.7" height="0.7" fill="#ffffff"/><rect x="24.7" y="18.5" width="0.9" height="0.6" fill="#c8ccff"/><rect x="20.7" y="19.6" width="0.7" height="0.8" fill="#c8ccff"/><rect x="27.3" y="18.6" width="0.8" height="0.5" fill="#c8ccff"/><rect x="23.5" y="20.5" width="0.6" height="0.7" fill="#c8ccff"/><rect x="21.5" y="0.8" width="0.7" height="0.5" fill="#b0b8ff"/><rect x="0.9" y="18" width="0.7" height="0.6" fill="#7880ff"/><rect x="6" y="14" width="0.9" height="0.7" fill="#b0b8ff"/><rect x="22.4" y="5.8" width="0.5" height="0.8" fill="#c8ccff"/><rect x="29" y="14.8" width="0.9" height="0.6" fill="#ffffff"/><rect x="13" y="8.2" width="0.7" height="0.5" fill="#7880ff"/><rect x="13.3" y="11.7" width="0.7" height="0.5" fill="#ffffff"/><rect x="19.7" y="18.7" width="0.8" height="0.7" fill="#ffffff"/><rect x="19" y="5.9" width="0.9" height="0.8" fill="#b0b8ff"/><rect x="5.6" y="0.2" width="1" height="0.7" fill="#c8ccff"/><rect x="18.8" y="18.8" width="1" height="0.5" fill="#9aa0ff"/><rect x="13.8" y="15.4" width="0.6" height="0.7" fill="#9aa0ff"/><rect x="8.1" y="16.3" width="0.7" height="0.8" fill="#c8ccff"/><rect x="19.6" y="17.4" width="0.5" height="0.4" fill="#7880ff"/><rect x="22.1" y="21.7" width="1" height="0.4" fill="#c8ccff"/><rect x="27.6" y="20.2" width="0.8" height="0.6" fill="#b0b8ff"/><rect x="21.9" y="5.6" width="0.8" height="0.6" fill="#b0b8ff"/><rect x="8.1" y="0" width="0.6" height="0.7" fill="#b0b8ff"/><rect x="6.6" y="1.7" width="0.8" height="0.6" fill="#c8ccff"/><rect x="27.2" y="19.7" width="1" height="0.8" fill="#c8ccff"/><rect x="14" y="3.3" width="0.6" height="0.6" fill="#ffffff"/><rect x="8.2" y="18.8" width="0.6" height="0.6" fill="#7880ff"/><rect x="6.8" y="19.8" width="0.8" height="0.5" fill="#ffffff"/><rect x="5.5" y="19.7" width="0.9" height="0.7" fill="#b0b8ff"/><rect x="30.9" y="12.9" width="0.8" height="0.5" fill="#7880ff"/><rect x="15.9" y="10.6" width="0.8" height="0.8" fill="#ffffff"/><rect x="25.1" y="9.5" width="0.9" height="0.7" fill="#ffffff"/><rect x="17.1" y="20.7" width="0.7" height="0.4" fill="#7880ff"/><rect x="8.4" y="15.1" width="0.7" height="0.6" fill="#ffffff"/><rect x="6" y="2.2" width="0.5" height="0.7" fill="#c8ccff"/><rect x="10" y="10.5" width="0.8" height="0.7" fill="#b0b8ff"/><rect x="23.6" y="21.9" width="0.5" height="0.6" fill="#7880ff"/><rect x="29.4" y="10.7" width="0.6" height="0.4" fill="#b0b8ff"/><rect x="27.8" y="9.5" width="0.8" height="0.8" fill="#7880ff"/><rect x="6.8" y="22.3" width="0.6" height="0.5" fill="#c8ccff"/><rect x="16.1" y="10.7" width="0.9" height="0.4" fill="#c8ccff"/><rect x="1.4" y="3.5" width="0.9" height="0.6" fill="#7880ff"/><rect x="19" y="14.8" width="0.5" height="0.5" fill="#b0b8ff"/><rect x="30.9" y="7.6" width="0.7" height="0.5" fill="#7880ff"/><rect x="0.1" y="5" width="0.7" height="0.6" fill="#7880ff"/><rect x="13.9" y="12.6" width="0.5" height="0.5" fill="#b0b8ff"/><rect x="29.8" y="0.6" width="0.9" height="0.6" fill="#9aa0ff"/><rect x="21.9" y="7.6" width="0.8" height="0.8" fill="#b0b8ff"/><rect x="10.2" y="2" width="0.5" height="0.8" fill="#c8ccff"/><rect x="9.7" y="2.7" width="0.9" height="0.6" fill="#b0b8ff"/><rect x="4.7" y="9.3" width="0.6" height="0.4" fill="#9aa0ff"/><rect x="29.9" y="10.6" width="0.9" height="0.8" fill="#9aa0ff"/><rect x="25.3" y="5.8" width="0.6" height="0.6" fill="#ffffff"/><rect x="18.1" y="20.2" width="1" height="0.5" fill="#ffffff"/><rect x="18.2" y="2.8" width="0.8" height="0.4" fill="#7880ff"/><rect x="3.5" y="2.8" width="0.7" height="0.7" fill="#7880ff"/><rect x="2.4" y="2.6" width="0.8" height="0.7" fill="#c8ccff"/><rect x="22" y="16.6" width="0.8" height="0.7" fill="#9aa0ff"/><rect x="2.5" y="4.9" width="0.9" height="0.5" fill="#b0b8ff"/><rect x="16.5" y="6" width="0.9" height="0.7" fill="#b0b8ff"/><rect x="13.8" y="6.3" width="0.9" height="0.7" fill="#9aa0ff"/><rect x="13.6" y="20" width="1" height="0.7" fill="#c8ccff"/><rect x="27.9" y="12.7" width="0.9" height="0.7" fill="#b0b8ff"/><rect x="2.8" y="10.9" width="0.5" height="0.7" fill="#7880ff"/><rect x="22.2" y="21.5" width="0.7" height="0.6" fill="#b0b8ff"/><rect x="28.3" y="9.5" width="0.7" height="0.5" fill="#ffffff"/><rect x="8.6" y="4.9" width="0.7" height="0.5" fill="#7880ff"/><rect x="25.7" y="22.4" width="0.5" height="0.4" fill="#b0b8ff"/><rect x="28.9" y="1.7" width="0.8" height="0.5" fill="#ffffff"/><rect x="6.1" y="5.7" width="0.5" height="0.7" fill="#ffffff"/><rect x="17.6" y="5.4" width="0.6" height="0.7" fill="#b0b8ff"/><rect x="19.5" y="7.3" width="0.7" height="0.8" fill="#ffffff"/><rect x="16.7" y="19.3" width="0.8" height="0.6" fill="#c8ccff"/><rect x="15.2" y="15.7" width="0.9" height="0.5" fill="#b0b8ff"/><rect x="10" y="20.1" width="0.7" height="0.7" fill="#9aa0ff"/><rect x="29.1" y="13.3" width="0.9" height="0.7" fill="#b0b8ff"/><rect x="9" y="19.8" width="0.7" height="0.4" fill="#ffffff"/><rect x="2.1" y="5.3" width="0.9" height="0.4" fill="#c8ccff"/><rect x="0.7" y="14.3" width="0.7" height="0.6" fill="#b0b8ff"/><rect x="25.4" y="21.1" width="0.9" height="0.4" fill="#c8ccff"/><rect x="4.7" y="13.5" width="1" height="0.4" fill="#7880ff"/><rect x="16" y="9.1" width="0.6" height="0.5" fill="#b0b8ff"/><rect x="7.4" y="2.4" width="0.8" height="0.6" fill="#9aa0ff"/><rect x="22.1" y="14.7" width="0.7" height="0.8" fill="#9aa0ff"/><rect x="11.9" y="15.2" width="0.9" height="0.6" fill="#7880ff"/><rect x="13.8" y="14.5" width="0.8" height="0.4" fill="#c8ccff"/><rect x="7" y="14.3" width="1" height="0.8" fill="#ffffff"/><rect x="8.1" y="3.4" width="0.7" height="0.6" fill="#b0b8ff"/><rect x="23.8" y="16.3" width="0.8" height="0.6" fill="#9aa0ff"/><rect x="18" y="15.6" width="1" height="0.8" fill="#9aa0ff"/><rect x="26.7" y="2.4" width="0.7" height="0.7" fill="#7880ff"/><rect x="9.1" y="14" width="0.6" height="0.6" fill="#7880ff"/><rect x="2.2" y="9.8" width="0.6" height="0.7" fill="#ffffff"/><rect x="9.9" y="8.8" width="0.8" height="0.4" fill="#7880ff"/><rect x="6.7" y="14.1" width="0.6" height="0.5" fill="#7880ff"/><rect x="19.3" y="11.4" width="0.8" height="0.7" fill="#ffffff"/><rect x="1.2" y="6.3" width="0.7" height="0.8" fill="#c8ccff"/><rect x="1.6" y="8" width="0.8" height="0.7" fill="#ffffff"/><rect x="1.8" y="19.9" width="0.8" height="0.5" fill="#ffffff"/><rect x="28.4" y="6.7" width="0.5" height="0.6" fill="#ffffff"/><rect x="15.7" y="20.6" width="0.9" height="0.6" fill="#b0b8ff"/><rect x="1.6" y="9.9" width="1" height="0.7" fill="#9aa0ff"/><rect x="12.6" y="8.4" width="0.9" height="0.4" fill="#c8ccff"/><rect x="25.3" y="15.4" width="0.9" height="0.6" fill="#ffffff"/><rect x="4.4" y="9.6" width="0.5" height="0.4" fill="#9aa0ff"/><rect x="13.6" y="19" width="0.8" height="0.8" fill="#ffffff"/><rect x="25.7" y="20.7" width="0.8" height="0.6" fill="#c8ccff"/><rect x="18" y="13.8" width="0.7" height="0.5" fill="#b0b8ff"/><rect x="2" y="8.5" width="0.9" height="0.6" fill="#9aa0ff"/><rect x="5.1" y="18.7" width="1" height="0.7" fill="#7880ff"/><rect x="17.2" y="9.5" width="0.9" height="0.4" fill="#ffffff"/><rect x="0.5" y="12" width="0.7" height="0.6" fill="#b0b8ff"/><rect x="1.4" y="22.6" width="0.8" height="0.4" fill="#c8ccff"/><rect x="22.9" y="12.3" width="0.9" height="0.8" fill="#c8ccff"/><rect x="3.7" y="22.9" width="0.7" height="0.5" fill="#b0b8ff"/><rect x="11.6" y="8.4" width="0.8" height="0.4" fill="#ffffff"/><rect x="22.2" y="11.4" width="0.9" height="0.4" fill="#7880ff"/><rect x="26.8" y="20.5" width="0.7" height="0.4" fill="#9aa0ff"/><rect x="16.4" y="2.1" width="0.9" height="0.5" fill="#ffffff"/><rect x="20.7" y="15" width="0.6" height="0.8" fill="#9aa0ff"/><rect x="1.2" y="5.8" width="0.7" height="0.6" fill="#c8ccff"/><rect x="11.4" y="2.6" width="0.9" height="0.7" fill="#c8ccff"/><rect x="15.2" y="7.1" width="0.5" height="0.6" fill="#9aa0ff"/><rect x="19.5" y="10.1" width="0.6" height="0.7" fill="#9aa0ff"/><rect x="22.3" y="20.7" width="1" height="0.5" fill="#7880ff"/><rect x="28.6" y="9.3" width="1" height="0.6" fill="#7880ff"/><rect x="18.1" y="1.6" width="0.8" height="0.5" fill="#b0b8ff"/><rect x="12" y="8.7" width="0.8" height="0.7" fill="#ffffff"/><rect x="5.4" y="7" width="0.9" height="0.4" fill="#7880ff"/><rect x="29.5" y="9.8" width="0.8" height="0.6" fill="#ffffff"/><rect x="14.6" y="9.8" width="0.9" height="0.5" fill="#c8ccff"/><rect x="5.2" y="10" width="0.7" height="0.6" fill="#7880ff"/><rect x="24.3" y="2.5" width="0.7" height="0.7" fill="#ffffff"/><rect x="10.5" y="19.2" width="0.5" height="0.6" fill="#ffffff"/><rect x="23.8" y="12.1" width="0.8" height="0.8" fill="#b0b8ff"/><rect x="20.9" y="12.6" width="0.7" height="0.4" fill="#7880ff"/><rect x="8.4" y="13.7" width="1" height="0.6" fill="#7880ff"/><rect x="8.8" y="22.8" width="0.6" height="0.6" fill="#b0b8ff"/><rect x="10.7" y="2.6" width="0.9" height="0.7" fill="#9aa0ff"/><rect x="30.1" y="3.1" width="0.9" height="0.5" fill="#9aa0ff"/><rect x="14.9" y="14.5" width="0.7" height="0.4" fill="#7880ff"/><rect x="25.9" y="3.8" width="0.7" height="0.8" fill="#b0b8ff"/><rect x="17.3" y="9.8" width="1" height="0.5" fill="#9aa0ff"/><rect x="22.5" y="5.4" width="0.9" height="0.7" fill="#7880ff"/><rect x="15" y="5.1" width="0.8" height="0.8" fill="#b0b8ff"/><rect x="9.6" y="0.5" width="1" height="0.4" fill="#c8ccff"/><rect x="1.7" y="2.3" width="0.9" height="0.6" fill="#ffffff"/><rect x="21.4" y="16.2" width="0.9" height="0.6" fill="#7880ff"/><rect x="16.8" y="7.1" width="0.5" height="0.6" fill="#9aa0ff"/><rect x="8.2" y="6.3" width="0.7" height="0.4" fill="#c8ccff"/><rect x="19.5" y="12.4" width="0.5" height="0.5" fill="#7880ff"/><rect x="18.9" y="6.4" width="0.9" height="0.6" fill="#9aa0ff"/><rect x="28.4" y="0.8" width="0.6" height="0.8" fill="#7880ff"/><rect x="15.8" y="3.9" width="0.9" height="0.6" fill="#b0b8ff"/><rect x="1.4" y="0.8" width="0.7" height="0.4" fill="#9aa0ff"/><rect x="2.6" y="14.8" width="0.5" height="0.8" fill="#c8ccff"/><rect x="11.4" y="20.3" width="0.8" height="0.6" fill="#9aa0ff"/><rect x="13.1" y="15.5" width="0.6" height="0.7" fill="#c8ccff"/><rect x="6.3" y="8.9" width="0.9" height="0.5" fill="#c8ccff"/><rect x="11.3" y="20.9" width="0.6" height="0.8" fill="#ffffff"/><rect x="8.5" y="7.6" width="0.9" height="0.5" fill="#c8ccff"/><rect x="30.9" y="18.9" width="0.6" height="0.5" fill="#9aa0ff"/><rect x="23.3" y="19" width="0.6" height="0.5" fill="#7880ff"/><rect x="7.6" y="3.2" width="0.8" height="0.7" fill="#c8ccff"/><rect x="1.7" y="4.4" width="0.6" height="0.5" fill="#9aa0ff"/><rect x="5.8" y="21.5" width="0.6" height="0.7" fill="#9aa0ff"/><rect x="30.2" y="18.3" width="0.8" height="0.6" fill="#c8ccff"/><rect x="12.5" y="6.9" width="0.9" height="0.6" fill="#c8ccff"/><rect x="26.7" y="15" width="0.8" height="0.5" fill="#7880ff"/><rect x="7.5" y="5.2" width="0.9" height="0.8" fill="#7880ff"/><rect x="25.5" y="18.5" width="0.7" height="0.7" fill="#7880ff"/><rect x="5.2" y="15.1" width="1" height="0.8" fill="#9aa0ff"/><rect x="5.1" y="17.7" width="0.9" height="0.4" fill="#ffffff"/><rect x="17.5" y="9.7" width="0.9" height="0.7" fill="#c8ccff"/><rect x="6.5" y="12.8" width="0.8" height="0.4" fill="#b0b8ff"/><rect x="4.1" y="8.3" width="0.6" height="0.7" fill="#c8ccff"/><rect x="29.8" y="10.5" width="0.8" height="0.7" fill="#ffffff"/><rect x="20.9" y="15.1" width="0.9" height="0.5" fill="#9aa0ff"/><rect x="5.6" y="11.7" width="0.8" height="0.7" fill="#ffffff"/><rect x="9.1" y="21.7" width="0.9" height="0.6" fill="#ffffff"/><rect x="2.2" y="0.3" width="0.8" height="0.6" fill="#b0b8ff"/><rect x="13.7" y="7.5" width="0.7" height="0.5" fill="#9aa0ff"/><rect x="27.7" y="4.1" width="1" height="0.7" fill="#ffffff"/><rect x="11.9" y="17.8" width="0.7" height="0.7" fill="#9aa0ff"/><rect x="25.8" y="4.6" width="1" height="0.4" fill="#9aa0ff"/><rect x="0.2" y="11.1" width="0.7" height="0.6" fill="#c8ccff"/><rect x="14.5" y="20.9" width="1" height="0.5" fill="#c8ccff"/><rect x="8.9" y="15" width="0.7" height="0.7" fill="#c8ccff"/><rect x="0.2" y="17.8" width="0.9" height="0.6" fill="#ffffff"/><rect x="7.7" y="12.4" width="0.9" height="0.6" fill="#c8ccff"/><rect x="9.5" y="18.6" width="0.8" height="0.5" fill="#c8ccff"/><rect x="12.8" y="11.3" width="0.7" height="0.6" fill="#c8ccff"/><rect x="30.3" y="9.8" width="0.9" height="0.4" fill="#7880ff"/><rect x="12.2" y="4.2" width="0.8" height="0.5" fill="#c8ccff"/><rect x="2.9" y="9.7" width="0.5" height="0.6" fill="#7880ff"/><rect x="22.6" y="7.1" width="0.7" height="0.5" fill="#c8ccff"/><rect x="26.2" y="2.2" width="0.9" height="0.5" fill="#ffffff"/><rect x="22.6" y="17.7" width="0.9" height="0.8" fill="#c8ccff"/><rect x="17.6" y="14.8" width="0.7" height="0.5" fill="#ffffff"/><rect x="23.1" y="18.9" width="0.6" height="0.5" fill="#c8ccff"/><rect x="19.4" y="8.4" width="1" height="0.7" fill="#c8ccff"/><rect x="28.4" y="13.8" width="1" height="0.4" fill="#7880ff"/><rect x="17.8" y="4.3" width="0.9" height="0.5" fill="#b0b8ff"/><rect x="23" y="7.7" width="0.8" height="0.8" fill="#b0b8ff"/><rect x="27" y="10.1" width="0.8" height="0.5" fill="#b0b8ff"/><rect x="3" y="16.4" width="0.9" height="0.6" fill="#c8ccff"/><rect x="19.5" y="16.8" width="0.8" height="0.5" fill="#7880ff"/><rect x="26.4" y="8.5" width="0.9" height="0.7" fill="#9aa0ff"/><rect x="25.8" y="22.7" width="1" height="0.6" fill="#7880ff"/><rect x="11.7" y="16.9" width="0.8" height="0.4" fill="#9aa0ff"/><rect x="1.2" y="10.7" width="0.9" height="0.8" fill="#7880ff"/><rect x="11.6" y="11.9" width="0.5" height="0.4" fill="#7880ff"/><rect x="16.2" y="11.6" width="0.9" height="0.5" fill="#9aa0ff"/><rect x="26.4" y="6.2" width="0.9" height="0.5" fill="#b0b8ff"/><rect x="29.3" y="22" width="1" height="0.4" fill="#9aa0ff"/><rect x="19.9" y="15.4" width="0.6" height="0.4" fill="#b0b8ff"/><rect x="25.1" y="6" width="0.5" height="0.4" fill="#7880ff"/></pattern><linearGradient id="fmg" gradientUnits="userSpaceOnUse" x1="0" y1="132" x2="0" y2="44"><stop offset="0" stop-color="#ffffff"/><stop offset="0.3" stop-color="#ffffff" stop-opacity="0.75"/><stop offset="0.65" stop-color="#ffffff" stop-opacity="0.2"/><stop offset="1" stop-color="#ffffff" stop-opacity="0"/></linearGradient><mask id="fmk" maskUnits="userSpaceOnUse" x="0" y="0" width="200" height="150"><rect width="200" height="150" fill="url(#fmg)"/></mask><pattern id="pw" patternUnits="userSpaceOnUse" width="23" height="19"><rect width="23" height="19" fill="#5a5cf0"/><rect x="14.8" y="10.2" width="1.4" height="0.6" fill="#e8ecff"/><rect x="21.5" y="16.7" width="1.5" height="1.2" fill="#c8d0ff"/><rect x="8.8" y="4.7" width="1" height="1" fill="#a0a8ff"/><rect x="16.1" y="13.1" width="1.3" height="1.1" fill="#a0a8ff"/><rect x="11.7" y="14.6" width="0.9" height="1.3" fill="#ffffff"/><rect x="19.5" y="13.6" width="0.8" height="0.6" fill="#e8ecff"/><rect x="21.2" y="17.9" width="1.2" height="0.6" fill="#c8d0ff"/><rect x="9.1" y="13.4" width="1" height="1.2" fill="#e8ecff"/><rect x="21" y="2.6" width="1" height="0.7" fill="#e8ecff"/><rect x="8" y="9.2" width="1.5" height="1.2" fill="#c8d0ff"/><rect x="0.1" y="1.1" width="1.2" height="1.1" fill="#ffffff"/><rect x="8.1" y="15.8" width="1.2" height="1.1" fill="#a0a8ff"/><rect x="5.7" y="14.8" width="0.7" height="1.1" fill="#ffffff"/><rect x="19.1" y="5.6" width="0.9" height="0.7" fill="#ffffff"/><rect x="13.9" y="14.6" width="1.1" height="1" fill="#c8d0ff"/><rect x="2.5" y="10.1" width="0.9" height="0.8" fill="#ffffff"/><rect x="22.7" y="1.7" width="1.2" height="0.9" fill="#c8d0ff"/><rect x="0.4" y="16.5" width="0.8" height="0.9" fill="#e8ecff"/><rect x="20.9" y="18.4" width="1" height="1.2" fill="#c8d0ff"/><rect x="19.5" y="3.7" width="1.6" height="0.7" fill="#a0a8ff"/><rect x="15.1" y="4.5" width="0.7" height="1.4" fill="#e8ecff"/><rect x="3" y="17.3" width="0.8" height="0.9" fill="#ffffff"/><rect x="4.9" y="18.8" width="1.5" height="0.8" fill="#a0a8ff"/><rect x="21.9" y="14.3" width="0.9" height="1" fill="#ffffff"/><rect x="3.7" y="7.7" width="1.3" height="1.1" fill="#c8d0ff"/><rect x="6.3" y="0.3" width="1.5" height="0.7" fill="#ffffff"/><rect x="7.5" y="0.5" width="1" height="1" fill="#e8ecff"/><rect x="7.4" y="4.7" width="1.4" height="0.8" fill="#e8ecff"/><rect x="7.6" y="9.3" width="1.3" height="0.7" fill="#ffffff"/><rect x="7.4" y="8" width="0.9" height="1.3" fill="#e8ecff"/><rect x="8.1" y="8" width="1.4" height="0.8" fill="#e8ecff"/><rect x="19.1" y="18" width="0.9" height="0.7" fill="#e8ecff"/><rect x="18.1" y="5.9" width="0.7" height="1.1" fill="#e8ecff"/><rect x="21.5" y="16.7" width="1.2" height="1" fill="#ffffff"/><rect x="22.5" y="12.5" width="1.3" height="1.2" fill="#a0a8ff"/><rect x="16.1" y="2.4" width="0.9" height="0.7" fill="#a0a8ff"/><rect x="21.4" y="18.9" width="0.8" height="0.7" fill="#ffffff"/><rect x="10.3" y="7.4" width="0.8" height="0.7" fill="#c8d0ff"/><rect x="14.9" y="15.1" width="0.9" height="0.8" fill="#c8d0ff"/><rect x="12.5" y="11.5" width="1" height="1.3" fill="#ffffff"/><rect x="9" y="5.8" width="1.4" height="1.3" fill="#e8ecff"/><rect x="3.9" y="3.7" width="1.1" height="1.4" fill="#a0a8ff"/><rect x="14.3" y="11.8" width="1.6" height="0.7" fill="#a0a8ff"/><rect x="12.9" y="12.8" width="1.4" height="1.3" fill="#e8ecff"/><rect x="8.9" y="5.1" width="1.2" height="0.8" fill="#c8d0ff"/><rect x="3.2" y="15.3" width="1.4" height="1.1" fill="#a0a8ff"/><rect x="8.8" y="12.5" width="1.2" height="1.2" fill="#c8d0ff"/><rect x="20.3" y="14.4" width="1.1" height="0.7" fill="#a0a8ff"/><rect x="16" y="15.8" width="0.8" height="0.7" fill="#c8d0ff"/><rect x="14.6" y="15.7" width="0.7" height="1.1" fill="#a0a8ff"/><rect x="6.1" y="19" width="0.7" height="1.2" fill="#e8ecff"/><rect x="6.9" y="8" width="0.7" height="0.9" fill="#e8ecff"/><rect x="3.1" y="4.9" width="0.9" height="1.1" fill="#c8d0ff"/><rect x="20.7" y="11" width="0.6" height="1.4" fill="#c8d0ff"/><rect x="4.5" y="6.6" width="1.2" height="0.9" fill="#e8ecff"/><rect x="10.1" y="11.9" width="1.1" height="0.8" fill="#c8d0ff"/><rect x="9.4" y="7.3" width="1.2" height="1" fill="#c8d0ff"/><rect x="9.5" y="13.5" width="1.4" height="1.1" fill="#e8ecff"/><rect x="7.8" y="17.8" width="1.4" height="0.9" fill="#a0a8ff"/><rect x="9.1" y="16" width="1.3" height="1.4" fill="#ffffff"/><rect x="20.2" y="2.2" width="1.4" height="0.7" fill="#e8ecff"/><rect x="12.5" y="18.9" width="0.8" height="0.7" fill="#c8d0ff"/><rect x="6.7" y="6.5" width="1" height="1.3" fill="#a0a8ff"/><rect x="11.9" y="11.2" width="0.7" height="0.7" fill="#e8ecff"/><rect x="21.9" y="6.6" width="0.9" height="1.1" fill="#c8d0ff"/><rect x="15.2" y="1.7" width="0.7" height="1" fill="#a0a8ff"/><rect x="2.9" y="5.6" width="0.9" height="1" fill="#a0a8ff"/><rect x="7.2" y="6.4" width="1.1" height="1.1" fill="#ffffff"/><rect x="1" y="19" width="1.5" height="0.6" fill="#a0a8ff"/><rect x="1.3" y="1.9" width="1.5" height="0.9" fill="#e8ecff"/><rect x="19.5" y="13.2" width="1" height="0.9" fill="#ffffff"/><rect x="10.4" y="14.3" width="0.7" height="1.3" fill="#ffffff"/><rect x="11" y="6.9" width="0.9" height="1.2" fill="#c8d0ff"/><rect x="9.6" y="9.1" width="0.8" height="0.8" fill="#c8d0ff"/><rect x="19.8" y="11" width="1.4" height="1.3" fill="#a0a8ff"/><rect x="3.7" y="19" width="0.6" height="1.1" fill="#e8ecff"/><rect x="6.1" y="4.8" width="1.2" height="0.9" fill="#ffffff"/><rect x="16.4" y="18.1" width="0.8" height="0.8" fill="#e8ecff"/><rect x="14" y="7.8" width="1.1" height="1.2" fill="#ffffff"/><rect x="20.9" y="17.9" width="1.4" height="0.9" fill="#e8ecff"/><rect x="20.3" y="13.5" width="1.6" height="0.8" fill="#e8ecff"/><rect x="15.7" y="13.2" width="1.5" height="1.1" fill="#ffffff"/><rect x="22.6" y="1.1" width="0.8" height="1.1" fill="#a0a8ff"/><rect x="9.8" y="1.6" width="0.8" height="1.1" fill="#ffffff"/><rect x="9.3" y="14.5" width="1.5" height="1.2" fill="#a0a8ff"/><rect x="11.4" y="6.8" width="0.8" height="0.8" fill="#e8ecff"/><rect x="8.2" y="6.9" width="1.1" height="0.7" fill="#ffffff"/><rect x="20" y="10.5" width="0.7" height="0.9" fill="#ffffff"/><rect x="5.9" y="3" width="0.8" height="0.7" fill="#c8d0ff"/><rect x="16.2" y="8.2" width="1.3" height="1" fill="#e8ecff"/><rect x="11.6" y="5.9" width="1.1" height="0.9" fill="#c8d0ff"/><rect x="19" y="4.7" width="0.8" height="0.9" fill="#e8ecff"/><rect x="18.1" y="16.1" width="1" height="1.1" fill="#a0a8ff"/><rect x="19" y="4.6" width="1.3" height="1.2" fill="#c8d0ff"/><rect x="9" y="2.8" width="0.8" height="0.9" fill="#e8ecff"/><rect x="12.5" y="18.3" width="0.7" height="0.7" fill="#c8d0ff"/><rect x="12.4" y="17.9" width="1.2" height="0.6" fill="#a0a8ff"/><rect x="12.7" y="2.3" width="1.3" height="0.9" fill="#ffffff"/><rect x="15.1" y="4.9" width="0.8" height="0.8" fill="#a0a8ff"/><rect x="3.8" y="3.8" width="1.1" height="1" fill="#ffffff"/><rect x="19" y="9.5" width="1.3" height="1.3" fill="#e8ecff"/><rect x="13.4" y="0.7" width="1.1" height="0.6" fill="#c8d0ff"/><rect x="13.9" y="1.2" width="0.7" height="1.3" fill="#e8ecff"/><rect x="2.2" y="12.5" width="1.3" height="0.8" fill="#c8d0ff"/><rect x="13.6" y="6.3" width="0.9" height="0.6" fill="#ffffff"/><rect x="15.5" y="1.4" width="0.8" height="0.7" fill="#e8ecff"/><rect x="18.5" y="10.1" width="1.2" height="1.2" fill="#c8d0ff"/><rect x="14.4" y="9.8" width="0.9" height="1" fill="#e8ecff"/><rect x="22.7" y="10.8" width="1.5" height="0.6" fill="#a0a8ff"/><rect x="1.5" y="15" width="1.5" height="0.6" fill="#e8ecff"/><rect x="0.6" y="0.2" width="0.7" height="1" fill="#c8d0ff"/><rect x="15.3" y="0.3" width="1.5" height="0.8" fill="#c8d0ff"/><rect x="12.7" y="6.7" width="1" height="0.6" fill="#e8ecff"/><rect x="9.9" y="5" width="1" height="0.7" fill="#e8ecff"/><rect x="7.7" y="13.3" width="0.8" height="1.3" fill="#c8d0ff"/><rect x="14.1" y="1.9" width="0.6" height="1.3" fill="#a0a8ff"/><rect x="5.4" y="2" width="1.3" height="1.3" fill="#a0a8ff"/><rect x="11.5" y="5.9" width="0.9" height="0.8" fill="#c8d0ff"/><rect x="14.6" y="17.9" width="1" height="0.9" fill="#ffffff"/><rect x="1.8" y="11.3" width="1.6" height="0.8" fill="#ffffff"/><rect x="16.7" y="17.1" width="1.5" height="1.2" fill="#a0a8ff"/><rect x="14.8" y="3.7" width="0.9" height="0.7" fill="#e8ecff"/><rect x="20.6" y="15.4" width="1.1" height="0.8" fill="#ffffff"/><rect x="17.6" y="10.9" width="1.5" height="1.2" fill="#ffffff"/><rect x="2.3" y="7.1" width="1.5" height="0.9" fill="#a0a8ff"/><rect x="4.3" y="5.4" width="0.8" height="0.7" fill="#c8d0ff"/><rect x="7.9" y="4.7" width="1.5" height="1.4" fill="#c8d0ff"/><rect x="3.7" y="10.8" width="1.3" height="0.7" fill="#c8d0ff"/><rect x="12.2" y="3.8" width="0.9" height="1.3" fill="#a0a8ff"/><rect x="5.4" y="10.3" width="1.2" height="0.9" fill="#e8ecff"/><rect x="21.4" y="6.3" width="1.3" height="1" fill="#c8d0ff"/><rect x="16.7" y="2.9" width="0.7" height="1.2" fill="#e8ecff"/><rect x="8.9" y="16.3" width="0.8" height="1.3" fill="#ffffff"/><rect x="8.3" y="2.1" width="0.8" height="1.2" fill="#ffffff"/><rect x="6.1" y="10.6" width="1.2" height="1.2" fill="#ffffff"/><rect x="22.5" y="5.7" width="1.5" height="1" fill="#a0a8ff"/><rect x="4.6" y="2.5" width="0.7" height="1.2" fill="#c8d0ff"/><rect x="12.8" y="0.8" width="1.5" height="1.1" fill="#e8ecff"/><rect x="10.2" y="2.7" width="1.5" height="1.1" fill="#ffffff"/><rect x="10.6" y="11.6" width="1.2" height="1.1" fill="#e8ecff"/><rect x="4.6" y="2.8" width="1.4" height="0.6" fill="#ffffff"/><rect x="5.9" y="11.1" width="1.1" height="1.3" fill="#ffffff"/><rect x="4.9" y="2.2" width="1.1" height="0.8" fill="#a0a8ff"/><rect x="10.5" y="13.1" width="0.9" height="1.1" fill="#ffffff"/><rect x="0.5" y="10.4" width="1.5" height="1.1" fill="#ffffff"/><rect x="22.6" y="4.5" width="0.9" height="1" fill="#a0a8ff"/><rect x="11.7" y="15.6" width="0.6" height="1.2" fill="#e8ecff"/><rect x="5.1" y="16.8" width="0.8" height="0.8" fill="#e8ecff"/><rect x="3.2" y="5.7" width="0.9" height="0.6" fill="#c8d0ff"/><rect x="13.5" y="14" width="0.7" height="0.9" fill="#c8d0ff"/><rect x="1.6" y="0.3" width="0.9" height="1.3" fill="#e8ecff"/><rect x="0.3" y="12.3" width="1.3" height="0.9" fill="#e8ecff"/><rect x="11.5" y="4.7" width="0.7" height="1.3" fill="#ffffff"/><rect x="0.7" y="2.6" width="1.3" height="1" fill="#e8ecff"/><rect x="11.8" y="5.6" width="1.4" height="0.7" fill="#ffffff"/><rect x="6.8" y="14.3" width="0.9" height="1.4" fill="#ffffff"/><rect x="4" y="10" width="1.1" height="1.2" fill="#ffffff"/><rect x="1.1" y="10.4" width="1.4" height="0.6" fill="#c8d0ff"/><rect x="12.6" y="8.4" width="1.1" height="1.1" fill="#e8ecff"/><rect x="16.2" y="17.1" width="1.3" height="1.4" fill="#e8ecff"/><rect x="15.3" y="5.1" width="0.7" height="0.8" fill="#c8d0ff"/><rect x="2.7" y="13" width="1.3" height="1.1" fill="#ffffff"/><rect x="8.8" y="8.8" width="1.5" height="0.6" fill="#a0a8ff"/><rect x="7.4" y="10.9" width="0.8" height="1.3" fill="#e8ecff"/><rect x="11" y="7" width="0.9" height="1.1" fill="#c8d0ff"/><rect x="6.5" y="0.9" width="1.2" height="0.8" fill="#ffffff"/><rect x="19.5" y="13.1" width="1.5" height="1.2" fill="#c8d0ff"/><rect x="7.6" y="10.8" width="0.9" height="0.8" fill="#c8d0ff"/><rect x="4.7" y="2.1" width="0.8" height="1.1" fill="#a0a8ff"/><rect x="5.8" y="0.9" width="1" height="0.8" fill="#ffffff"/><rect x="15.9" y="4.2" width="0.8" height="1" fill="#e8ecff"/><rect x="19.9" y="5.8" width="1.1" height="1" fill="#c8d0ff"/><rect x="1.6" y="0.4" width="0.9" height="1.1" fill="#a0a8ff"/><rect x="9.5" y="15.9" width="0.8" height="1" fill="#a0a8ff"/><rect x="12.6" y="15.1" width="1" height="1" fill="#e8ecff"/><rect x="13.5" y="2.7" width="1.1" height="1.2" fill="#ffffff"/><rect x="16.9" y="4.3" width="0.9" height="0.9" fill="#e8ecff"/><rect x="8.3" y="18" width="0.6" height="1.4" fill="#e8ecff"/><rect x="0.8" y="1.5" width="0.9" height="1.3" fill="#ffffff"/><rect x="19.3" y="17.8" width="1" height="0.6" fill="#ffffff"/><rect x="14.4" y="17.1" width="1.4" height="0.6" fill="#ffffff"/><rect x="16.8" y="9.4" width="1.5" height="1.3" fill="#ffffff"/><rect x="1.1" y="9.5" width="1" height="0.7" fill="#ffffff"/><rect x="8.3" y="7.8" width="0.6" height="1" fill="#ffffff"/><rect x="20.6" y="1.2" width="1.1" height="0.8" fill="#ffffff"/><rect x="22.3" y="9" width="1" height="0.9" fill="#a0a8ff"/><rect x="20.3" y="2.5" width="0.9" height="0.6" fill="#a0a8ff"/><rect x="19.4" y="9.3" width="1.2" height="1.3" fill="#ffffff"/><rect x="11.4" y="5.2" width="1.1" height="0.8" fill="#a0a8ff"/><rect x="5.3" y="6.8" width="1.3" height="0.7" fill="#c8d0ff"/><rect x="22.9" y="4.5" width="0.7" height="0.9" fill="#a0a8ff"/><rect x="8.6" y="13" width="1.5" height="0.8" fill="#e8ecff"/><rect x="18.6" y="5.9" width="0.7" height="1.3" fill="#ffffff"/><rect x="8.6" y="13.3" width="0.6" height="1.2" fill="#e8ecff"/><rect x="5.2" y="8.6" width="0.8" height="1" fill="#c8d0ff"/><rect x="19.2" y="3.1" width="1.1" height="0.7" fill="#c8d0ff"/><rect x="3.3" y="9.3" width="1.2" height="1.3" fill="#a0a8ff"/><rect x="16.3" y="6.4" width="1.1" height="1.1" fill="#e8ecff"/><rect x="19.3" y="13" width="0.7" height="1.3" fill="#e8ecff"/><rect x="6.5" y="7.7" width="1.5" height="0.8" fill="#c8d0ff"/><rect x="21" y="4.4" width="1.1" height="1.2" fill="#a0a8ff"/><rect x="9.3" y="16" width="1" height="1.3" fill="#ffffff"/><rect x="2.6" y="5.4" width="1.3" height="1" fill="#e8ecff"/><rect x="15.1" y="4.5" width="1.3" height="1.4" fill="#ffffff"/><rect x="1.8" y="6.1" width="1.5" height="1.3" fill="#ffffff"/><rect x="5.2" y="10.7" width="0.7" height="0.9" fill="#a0a8ff"/><rect x="13.3" y="4.9" width="1" height="0.7" fill="#e8ecff"/><rect x="1.6" y="14.8" width="0.6" height="1.4" fill="#e8ecff"/><rect x="20.6" y="18.8" width="0.6" height="0.7" fill="#e8ecff"/><rect x="7.3" y="3.4" width="0.7" height="1.3" fill="#a0a8ff"/><rect x="20.9" y="14.6" width="1.5" height="1.3" fill="#ffffff"/><rect x="7.4" y="2.4" width="0.7" height="0.9" fill="#e8ecff"/><rect x="19.1" y="1.5" width="1" height="1.3" fill="#ffffff"/><rect x="3.5" y="12.5" width="0.9" height="1.1" fill="#e8ecff"/><rect x="18.9" y="15.7" width="0.9" height="0.8" fill="#c8d0ff"/><rect x="2.8" y="4.9" width="0.7" height="1.2" fill="#a0a8ff"/><rect x="1.1" y="3.6" width="1.4" height="1.4" fill="#a0a8ff"/><rect x="8.8" y="0.9" width="1.4" height="0.8" fill="#a0a8ff"/><rect x="17.8" y="0.4" width="1.2" height="1.1" fill="#e8ecff"/><rect x="12.9" y="10.1" width="1.2" height="0.7" fill="#ffffff"/><rect x="1.5" y="6.6" width="0.8" height="0.7" fill="#ffffff"/><rect x="10.3" y="7.8" width="0.9" height="1.3" fill="#c8d0ff"/><rect x="21.7" y="0.9" width="0.8" height="0.9" fill="#e8ecff"/><rect x="0.7" y="1.5" width="0.6" height="0.7" fill="#e8ecff"/><rect x="14.9" y="1.5" width="1.4" height="0.8" fill="#e8ecff"/><rect x="15.9" y="18.1" width="0.7" height="1" fill="#a0a8ff"/><rect x="10.7" y="5.9" width="0.7" height="1.1" fill="#ffffff"/><rect x="4.5" y="8" width="1.5" height="0.9" fill="#e8ecff"/><rect x="7.3" y="17.7" width="1.2" height="0.8" fill="#a0a8ff"/><rect x="14.7" y="7.2" width="1.1" height="0.9" fill="#c8d0ff"/><rect x="1.9" y="16.7" width="1.6" height="0.8" fill="#c8d0ff"/><rect x="6.5" y="2.6" width="0.9" height="0.9" fill="#c8d0ff"/><rect x="4.2" y="5" width="1.5" height="1" fill="#e8ecff"/><rect x="18.9" y="0.9" width="0.8" height="1.4" fill="#e8ecff"/><rect x="1.2" y="1.3" width="0.9" height="0.8" fill="#c8d0ff"/><rect x="14" y="11.6" width="0.8" height="1" fill="#c8d0ff"/><rect x="10.5" y="16.1" width="0.8" height="1.1" fill="#a0a8ff"/><rect x="0.8" y="16.1" width="1.6" height="0.9" fill="#ffffff"/><rect x="17.8" y="4.7" width="0.8" height="0.6" fill="#e8ecff"/><rect x="1.6" y="8.7" width="0.6" height="1.4" fill="#a0a8ff"/><rect x="14.5" y="10.8" width="1" height="1.3" fill="#a0a8ff"/><rect x="16.4" y="8.2" width="0.9" height="0.7" fill="#c8d0ff"/><rect x="7.2" y="6.7" width="1.5" height="0.8" fill="#e8ecff"/><rect x="12.4" y="1.3" width="1.2" height="1.1" fill="#ffffff"/><rect x="1.8" y="18.5" width="0.9" height="1.2" fill="#ffffff"/><rect x="7.7" y="16.7" width="0.8" height="0.9" fill="#ffffff"/><rect x="15.9" y="16.3" width="0.9" height="1" fill="#ffffff"/><rect x="9.5" y="12.8" width="0.8" height="1.3" fill="#a0a8ff"/><rect x="16.4" y="3.3" width="0.9" height="1.3" fill="#e8ecff"/><rect x="10.5" y="11.7" width="1.5" height="0.9" fill="#e8ecff"/><rect x="21.8" y="5.6" width="0.7" height="1.2" fill="#e8ecff"/><rect x="8.8" y="15.8" width="1.1" height="1.1" fill="#ffffff"/><rect x="8.1" y="11.2" width="1" height="1" fill="#ffffff"/><rect x="19.4" y="17.7" width="1" height="0.7" fill="#c8d0ff"/><rect x="19.4" y="8.5" width="1.4" height="0.9" fill="#ffffff"/><rect x="19.6" y="10.4" width="1.3" height="1.3" fill="#a0a8ff"/><rect x="13.3" y="18" width="1" height="1.1" fill="#a0a8ff"/><rect x="9.3" y="13.4" width="1.1" height="1.2" fill="#e8ecff"/><rect x="19" y="10.8" width="1.4" height="1.3" fill="#e8ecff"/><rect x="0.4" y="0.3" width="1.2" height="0.9" fill="#a0a8ff"/><rect x="20.1" y="7.4" width="0.8" height="1.1" fill="#a0a8ff"/><rect x="20.7" y="16.4" width="1" height="1" fill="#c8d0ff"/><rect x="12.3" y="6.5" width="1.6" height="1.3" fill="#c8d0ff"/><rect x="7.2" y="13" width="1.5" height="0.9" fill="#e8ecff"/><rect x="19.5" y="15.1" width="0.7" height="1.3" fill="#a0a8ff"/><rect x="22.6" y="4.6" width="1.2" height="0.7" fill="#a0a8ff"/><rect x="13.9" y="13.5" width="1.5" height="0.8" fill="#ffffff"/><rect x="2.7" y="15.5" width="0.6" height="0.8" fill="#c8d0ff"/><rect x="5.4" y="14.7" width="1.4" height="1.1" fill="#c8d0ff"/><rect x="19.4" y="14.9" width="1.5" height="0.8" fill="#e8ecff"/><rect x="8.2" y="11.9" width="1.4" height="1.2" fill="#e8ecff"/><rect x="7" y="2.3" width="1.3" height="1.1" fill="#c8d0ff"/><rect x="6.4" y="1.1" width="0.8" height="0.8" fill="#e8ecff"/><rect x="4.8" y="1" width="0.8" height="0.9" fill="#ffffff"/><rect x="2.1" y="3.9" width="1.4" height="1.3" fill="#ffffff"/><rect x="9.3" y="2.4" width="0.9" height="1.1" fill="#e8ecff"/><rect x="9.4" y="10.8" width="1.3" height="1.3" fill="#a0a8ff"/><rect x="2" y="5.6" width="0.6" height="1" fill="#c8d0ff"/><rect x="14.1" y="4.8" width="1.1" height="0.7" fill="#ffffff"/><rect x="4.5" y="7.2" width="1.5" height="0.9" fill="#ffffff"/><rect x="16.3" y="7.1" width="0.7" height="0.7" fill="#ffffff"/><rect x="17.7" y="8.2" width="0.9" height="1.4" fill="#e8ecff"/><rect x="20.2" y="5" width="1.2" height="0.7" fill="#e8ecff"/><rect x="9.8" y="5.4" width="1.4" height="0.7" fill="#e8ecff"/><rect x="22.8" y="4.5" width="0.7" height="1.3" fill="#a0a8ff"/><rect x="19" y="1.3" width="1.1" height="0.9" fill="#e8ecff"/><rect x="13.9" y="6.4" width="0.8" height="1.3" fill="#e8ecff"/><rect x="6.2" y="12.3" width="1" height="1" fill="#a0a8ff"/><rect x="12" y="11.9" width="0.7" height="1.4" fill="#a0a8ff"/><rect x="5.8" y="6.8" width="0.8" height="1.1" fill="#ffffff"/><rect x="22.6" y="7.7" width="0.9" height="0.6" fill="#a0a8ff"/><rect x="2.1" y="0.9" width="0.9" height="1.4" fill="#e8ecff"/><rect x="3.2" y="10.4" width="0.6" height="1.3" fill="#ffffff"/><rect x="2.9" y="2.6" width="1.4" height="0.8" fill="#ffffff"/><rect x="4.6" y="17.9" width="1.4" height="0.8" fill="#ffffff"/><rect x="13" y="5.9" width="0.9" height="1.3" fill="#ffffff"/><rect x="20.9" y="3.3" width="0.7" height="0.8" fill="#a0a8ff"/><rect x="1.6" y="12.3" width="1.3" height="1.2" fill="#c8d0ff"/><rect x="17.8" y="7.5" width="0.6" height="1" fill="#c8d0ff"/><rect x="21.5" y="8.5" width="1.2" height="1.3" fill="#ffffff"/></pattern><radialGradient id="rg"><stop offset="0" stop-color="#fff"/><stop offset="0.55" stop-color="#fff" stop-opacity="0.7"/><stop offset="1" stop-color="#fff" stop-opacity="0"/></radialGradient><mask id="soft" maskContentUnits="objectBoundingBox"><rect width="1" height="1" fill="url(#rg)"/></mask><linearGradient id="flg" gradientUnits="userSpaceOnUse" x1="0" y1="132" x2="0" y2="44"><stop offset="0" stop-color="#c8d0ff" stop-opacity="0.55"/><stop offset="0.35" stop-color="#c8d0ff" stop-opacity="0.32"/><stop offset="0.7" stop-color="#c0c8ff" stop-opacity="0.08"/><stop offset="1" stop-color="#c0c8ff" stop-opacity="0.03"/></linearGradient><linearGradient id="flo" gradientUnits="userSpaceOnUse" x1="0" y1="132" x2="0" y2="44"><stop offset="0" stop-color="#8088ff" stop-opacity="0.3"/><stop offset="0.3" stop-color="#8088ff" stop-opacity="0.18"/><stop offset="0.6" stop-color="#8088ff" stop-opacity="0.05"/><stop offset="1" stop-color="#8088ff" stop-opacity="0"/></linearGradient><linearGradient id="finshade" x1="0" y1="0" x2="0.15" y2="1"><stop offset="0" stop-color="#2030e0" stop-opacity="0"/><stop offset="0.4" stop-color="#2030e0" stop-opacity="0"/><stop offset="1" stop-color="#2030e0" stop-opacity="0.75"/></linearGradient><linearGradient id="fin1" x1="0" y1="0" x2="1" y2="0.3"><stop offset="0" stop-color="#20e060"/><stop offset="0.45" stop-color="#10e8e0"/><stop offset="0.8" stop-color="#40c8ff"/><stop offset="1" stop-color="#3090f8"/></linearGradient><linearGradient id="fin2" x1="0" y1="0" x2="1" y2="0.3"><stop offset="0" stop-color="#30d848"/><stop offset="0.45" stop-color="#30e0a0"/><stop offset="0.65" stop-color="#30d8e8"/><stop offset="0.9" stop-color="#70c8ff"/><stop offset="1" stop-color="#50a8f8"/></linearGradient><linearGradient id="fin3" x1="0" y1="0" x2="1" y2="0.3"><stop offset="0" stop-color="#30e0d0"/><stop offset="0.5" stop-color="#40e0f0"/><stop offset="1" stop-color="#70d0ff"/></linearGradient><linearGradient id="sa"><stop offset="0.0" stop-color="#3a9cf4" stop-opacity="0"/><stop offset="0.015" stop-color="#3a9cf4"/><stop offset="0.17" stop-color="#30c0f0"/><stop offset="0.21" stop-color="#40d8f0"/><stop offset="0.25" stop-color="#90f0ff"/><stop offset="0.29" stop-color="#40e4f0"/><stop offset="0.35" stop-color="#10e8b0"/><stop offset="0.42" stop-color="#20e040"/><stop offset="0.52" stop-color="#60e810"/><stop offset="0.59" stop-color="#e0f000"/><stop offset="0.65" stop-color="#ffb000"/><stop offset="0.72" stop-color="#ff5000"/><stop offset="0.8" stop-color="#f00000"/><stop offset="1.0" stop-color="#e00000"/></linearGradient><linearGradient id="fa"><stop offset="0.0" stop-color="#1a7cf0"/><stop offset="0.17" stop-color="#1a7cf0"/><stop offset="0.21" stop-color="#20a8f0"/><stop offset="0.25" stop-color="#30d0f0"/><stop offset="0.3" stop-color="#20d8e8"/><stop offset="0.36" stop-color="#10e0a0"/><stop offset="0.42" stop-color="#20d840"/><stop offset="0.52" stop-color="#50e010"/><stop offset="0.59" stop-color="#e0e800"/><stop offset="0.65" stop-color="#ffa800"/><stop offset="0.72" stop-color="#ff4800"/><stop offset="0.8" stop-color="#e80000"/><stop offset="1.0" stop-color="#e00000"/></linearGradient><linearGradient id="sg1" href="#sa" gradientUnits="userSpaceOnUse" x1="0" y1="94.4" x2="0" y2="43"/><linearGradient id="fg1" href="#fa" gradientUnits="userSpaceOnUse" x1="0" y1="94.4" x2="0" y2="43"/><linearGradient id="sg2" href="#sa" gradientUnits="userSpaceOnUse" x1="0" y1="94.8" x2="0" y2="43.4"/><linearGradient id="fg2" href="#fa" gradientUnits="userSpaceOnUse" x1="0" y1="94.8" x2="0" y2="43.4"/><linearGradient id="sg3" href="#sa" gradientUnits="userSpaceOnUse" x1="0" y1="95.3" x2="0" y2="43.7"/><linearGradient id="fg3" href="#fa" gradientUnits="userSpaceOnUse" x1="0" y1="95.3" x2="0" y2="43.7"/><linearGradient id="sg4" href="#sa" gradientUnits="userSpaceOnUse" x1="0" y1="95.7" x2="0" y2="44.1"/><linearGradient id="fg4" href="#fa" gradientUnits="userSpaceOnUse" x1="0" y1="95.7" x2="0" y2="44.1"/><linearGradient id="sg5" href="#sa" gradientUnits="userSpaceOnUse" x1="0" y1="96.2" x2="0" y2="44.4"/><linearGradient id="fg5" href="#fa" gradientUnits="userSpaceOnUse" x1="0" y1="96.2" x2="0" y2="44.4"/><linearGradient id="sg6" href="#sa" gradientUnits="userSpaceOnUse" x1="0" y1="96.7" x2="0" y2="44.8"/><linearGradient id="fg6" href="#fa" gradientUnits="userSpaceOnUse" x1="0" y1="96.7" x2="0" y2="44.8"/><linearGradient id="sg7" href="#sa" gradientUnits="userSpaceOnUse" x1="0" y1="97.1" x2="0" y2="45.1"/><linearGradient id="fg7" href="#fa" gradientUnits="userSpaceOnUse" x1="0" y1="97.1" x2="0" y2="45.1"/><linearGradient id="sg8" href="#sa" gradientUnits="userSpaceOnUse" x1="0" y1="97.6" x2="0" y2="45.5"/><linearGradient id="fg8" href="#fa" gradientUnits="userSpaceOnUse" x1="0" y1="97.6" x2="0" y2="45.5"/><linearGradient id="sg9" href="#sa" gradientUnits="userSpaceOnUse" x1="0" y1="98.1" x2="0" y2="45.8"/><linearGradient id="fg9" href="#fa" gradientUnits="userSpaceOnUse" x1="0" y1="98.1" x2="0" y2="45.8"/><linearGradient id="sg10" href="#sa" gradientUnits="userSpaceOnUse" x1="0" y1="98.5" x2="0" y2="46.2"/><linearGradient id="fg10" href="#fa" gradientUnits="userSpaceOnUse" x1="0" y1="98.5" x2="0" y2="46.2"/><linearGradient id="sg11" href="#sa" gradientUnits="userSpaceOnUse" x1="0" y1="99" x2="0" y2="46.5"/><linearGradient id="fg11" href="#fa" gradientUnits="userSpaceOnUse" x1="0" y1="99" x2="0" y2="46.5"/><linearGradient id="sg12" href="#sa" gradientUnits="userSpaceOnUse" x1="0" y1="99.5" x2="0" y2="46.9"/><linearGradient id="fg12" href="#fa" gradientUnits="userSpaceOnUse" x1="0" y1="99.5" x2="0" y2="46.9"/><linearGradient id="sg13" href="#sa" gradientUnits="userSpaceOnUse" x1="0" y1="99.9" x2="0" y2="47.2"/><linearGradient id="fg13" href="#fa" gradientUnits="userSpaceOnUse" x1="0" y1="99.9" x2="0" y2="47.2"/><linearGradient id="sg14" href="#sa" gradientUnits="userSpaceOnUse" x1="0" y1="100.4" x2="0" y2="47.6"/><linearGradient id="fg14" href="#fa" gradientUnits="userSpaceOnUse" x1="0" y1="100.4" x2="0" y2="47.6"/><linearGradient id="sg15" href="#sa" gradientUnits="userSpaceOnUse" x1="0" y1="100.9" x2="0" y2="48"/><linearGradient id="fg15" href="#fa" gradientUnits="userSpaceOnUse" x1="0" y1="100.9" x2="0" y2="48"/><linearGradient id="sg16" href="#sa" gradientUnits="userSpaceOnUse" x1="0" y1="101.3" x2="0" y2="48.3"/><linearGradient id="fg16" href="#fa" gradientUnits="userSpaceOnUse" x1="0" y1="101.3" x2="0" y2="48.3"/><linearGradient id="sg17" href="#sa" gradientUnits="userSpaceOnUse" x1="0" y1="101.8" x2="0" y2="48.7"/><linearGradient id="fg17" href="#fa" gradientUnits="userSpaceOnUse" x1="0" y1="101.8" x2="0" y2="48.7"/><linearGradient id="sg18" href="#sa" gradientUnits="userSpaceOnUse" x1="0" y1="102.3" x2="0" y2="49.1"/><linearGradient id="fg18" href="#fa" gradientUnits="userSpaceOnUse" x1="0" y1="102.3" x2="0" y2="49.1"/><linearGradient id="sg19" href="#sa" gradientUnits="userSpaceOnUse" x1="0" y1="102.8" x2="0" y2="49.4"/><linearGradient id="fg19" href="#fa" gradientUnits="userSpaceOnUse" x1="0" y1="102.8" x2="0" y2="49.4"/><linearGradient id="sg20" href="#sa" gradientUnits="userSpaceOnUse" x1="0" y1="103.3" x2="0" y2="49.8"/><linearGradient id="fg20" href="#fa" gradientUnits="userSpaceOnUse" x1="0" y1="103.3" x2="0" y2="49.8"/><linearGradient id="sg21" href="#sa" gradientUnits="userSpaceOnUse" x1="0" y1="103.8" x2="0" y2="50.2"/><linearGradient id="fg21" href="#fa" gradientUnits="userSpaceOnUse" x1="0" y1="103.8" x2="0" y2="50.2"/><linearGradient id="sg22" href="#sa" gradientUnits="userSpaceOnUse" x1="0" y1="104.2" x2="0" y2="50.5"/><linearGradient id="fg22" href="#fa" gradientUnits="userSpaceOnUse" x1="0" y1="104.2" x2="0" y2="50.5"/><linearGradient id="sg23" href="#sa" gradientUnits="userSpaceOnUse" x1="0" y1="104.7" x2="0" y2="50.9"/><linearGradient id="fg23" href="#fa" gradientUnits="userSpaceOnUse" x1="0" y1="104.7" x2="0" y2="50.9"/><linearGradient id="sg24" href="#sa" gradientUnits="userSpaceOnUse" x1="0" y1="105.2" x2="0" y2="51.3"/><linearGradient id="fg24" href="#fa" gradientUnits="userSpaceOnUse" x1="0" y1="105.2" x2="0" y2="51.3"/><linearGradient id="sg25" href="#sa" gradientUnits="userSpaceOnUse" x1="0" y1="105.7" x2="0" y2="51.7"/><linearGradient id="fg25" href="#fa" gradientUnits="userSpaceOnUse" x1="0" y1="105.7" x2="0" y2="51.7"/><linearGradient id="sg26" href="#sa" gradientUnits="userSpaceOnUse" x1="0" y1="106.2" x2="0" y2="52"/><linearGradient id="fg26" href="#fa" gradientUnits="userSpaceOnUse" x1="0" y1="106.2" x2="0" y2="52"/><linearGradient id="sg27" href="#sa" gradientUnits="userSpaceOnUse" x1="0" y1="106.7" x2="0" y2="52.4"/><linearGradient id="fg27" href="#fa" gradientUnits="userSpaceOnUse" x1="0" y1="106.7" x2="0" y2="52.4"/><linearGradient id="sg28" href="#sa" gradientUnits="userSpaceOnUse" x1="0" y1="107.2" x2="0" y2="52.8"/><linearGradient id="fg28" href="#fa" gradientUnits="userSpaceOnUse" x1="0" y1="107.2" x2="0" y2="52.8"/><linearGradient id="sg29" href="#sa" gradientUnits="userSpaceOnUse" x1="0" y1="107.7" x2="0" y2="53.2"/><linearGradient id="fg29" href="#fa" gradientUnits="userSpaceOnUse" x1="0" y1="107.7" x2="0" y2="53.2"/><linearGradient id="sg30" href="#sa" gradientUnits="userSpaceOnUse" x1="0" y1="108.5" x2="0" y2="53.8"/><linearGradient id="fg30" href="#fa" gradientUnits="userSpaceOnUse" x1="0" y1="108.5" x2="0" y2="53.8"/><linearGradient id="sg31" href="#sa" gradientUnits="userSpaceOnUse" x1="0" y1="109.3" x2="0" y2="54.4"/><linearGradient id="fg31" href="#fa" gradientUnits="userSpaceOnUse" x1="0" y1="109.3" x2="0" y2="54.4"/><linearGradient id="sg32" href="#sa" gradientUnits="userSpaceOnUse" x1="0" y1="110.1" x2="0" y2="55"/><linearGradient id="fg32" href="#fa" gradientUnits="userSpaceOnUse" x1="0" y1="110.1" x2="0" y2="55"/><linearGradient id="sg33" href="#sa" gradientUnits="userSpaceOnUse" x1="0" y1="111" x2="0" y2="55.7"/><linearGradient id="fg33" href="#fa" gradientUnits="userSpaceOnUse" x1="0" y1="111" x2="0" y2="55.7"/><linearGradient id="sg34" href="#sa" gradientUnits="userSpaceOnUse" x1="0" y1="111.8" x2="0" y2="56.3"/><linearGradient id="fg34" href="#fa" gradientUnits="userSpaceOnUse" x1="0" y1="111.8" x2="0" y2="56.3"/><linearGradient id="sg35" href="#sa" gradientUnits="userSpaceOnUse" x1="0" y1="112.6" x2="0" y2="56.9"/><linearGradient id="fg35" href="#fa" gradientUnits="userSpaceOnUse" x1="0" y1="112.6" x2="0" y2="56.9"/><linearGradient id="sg36" href="#sa" gradientUnits="userSpaceOnUse" x1="0" y1="113.5" x2="0" y2="57.6"/><linearGradient id="fg36" href="#fa" gradientUnits="userSpaceOnUse" x1="0" y1="113.5" x2="0" y2="57.6"/><linearGradient id="sb"><stop offset="0.0" stop-color="#6070ff" stop-opacity="0"/><stop offset="0.02" stop-color="#7080ff"/><stop offset="0.05" stop-color="#d0d8ff"/><stop offset="0.09" stop-color="#ffffff"/><stop offset="0.26" stop-color="#f8fdff"/><stop offset="0.32" stop-color="#c0f4ff"/><stop offset="0.38" stop-color="#20e4f4"/><stop offset="0.45" stop-color="#00eaa8"/><stop offset="0.52" stop-color="#28e428"/><stop offset="0.59" stop-color="#b4f000"/><stop offset="0.65" stop-color="#ffe400"/><stop offset="0.71" stop-color="#ff9400"/><stop offset="0.78" stop-color="#ff3000"/><stop offset="1.0" stop-color="#ec0000"/></linearGradient><linearGradient id="fb"><stop offset="0.0" stop-color="#2a2aee"/><stop offset="0.02" stop-color="#2a2aee"/><stop offset="0.05" stop-color="#2a2aee"/><stop offset="0.09" stop-color="#2a2aee"/><stop offset="0.26" stop-color="#2a2aee"/><stop offset="0.32" stop-color="#3234ef"/><stop offset="0.38" stop-color="#2846ef"/><stop offset="0.45" stop-color="#2250e0"/><stop offset="0.52" stop-color="#2a53c2"/><stop offset="0.59" stop-color="#4c5cb2"/><stop offset="0.65" stop-color="#756b9b"/><stop offset="0.71" stop-color="#945f77"/><stop offset="0.78" stop-color="#bf2e47"/><stop offset="1.0" stop-color="#d90418"/></linearGradient><linearGradient id="cb"><stop offset="0.0" stop-color="#2040f0" stop-opacity="0"/><stop offset="0.015" stop-color="#3060f0"/><stop offset="0.12" stop-color="#2080f0"/><stop offset="0.24" stop-color="#10b0f0"/><stop offset="0.32" stop-color="#10d0f0"/><stop offset="0.38" stop-color="#20e4f4"/><stop offset="0.45" stop-color="#00eaa8"/><stop offset="0.52" stop-color="#28e428"/><stop offset="0.59" stop-color="#b4f000"/><stop offset="0.65" stop-color="#ffe400"/><stop offset="0.71" stop-color="#ff9400"/><stop offset="0.78" stop-color="#ff3000"/><stop offset="1.0" stop-color="#ec0000"/></linearGradient><linearGradient id="sg37" href="#cb" gradientUnits="userSpaceOnUse" x1="0" y1="99.5" x2="0" y2="47"/><linearGradient id="fg37" href="#fb" gradientUnits="userSpaceOnUse" x1="0" y1="99.5" x2="0" y2="47"/><linearGradient id="sg38" href="#cb" gradientUnits="userSpaceOnUse" x1="0" y1="99.7" x2="0" y2="47"/><linearGradient id="fg38" href="#fb" gradientUnits="userSpaceOnUse" x1="0" y1="99.7" x2="0" y2="47"/><linearGradient id="sg39" href="#cb" gradientUnits="userSpaceOnUse" x1="0" y1="99.8" x2="0" y2="47.2"/><linearGradient id="fg39" href="#fb" gradientUnits="userSpaceOnUse" x1="0" y1="99.8" x2="0" y2="47.2"/><linearGradient id="sg40" href="#cb" gradientUnits="userSpaceOnUse" x1="0" y1="100" x2="0" y2="47.3"/><linearGradient id="fg40" href="#fb" gradientUnits="userSpaceOnUse" x1="0" y1="100" x2="0" y2="47.3"/><linearGradient id="sg41" href="#cb" gradientUnits="userSpaceOnUse" x1="0" y1="100.2" x2="0" y2="47.4"/><linearGradient id="fg41" href="#fb" gradientUnits="userSpaceOnUse" x1="0" y1="100.2" x2="0" y2="47.4"/><linearGradient id="sg42" href="#cb" gradientUnits="userSpaceOnUse" x1="0" y1="100.4" x2="0" y2="47.6"/><linearGradient id="fg42" href="#fb" gradientUnits="userSpaceOnUse" x1="0" y1="100.4" x2="0" y2="47.6"/><linearGradient id="sg43" href="#cb" gradientUnits="userSpaceOnUse" x1="0" y1="100.6" x2="0" y2="47.8"/><linearGradient id="fg43" href="#fb" gradientUnits="userSpaceOnUse" x1="0" y1="100.6" x2="0" y2="47.8"/><linearGradient id="sg44" href="#cb" gradientUnits="userSpaceOnUse" x1="0" y1="100.9" x2="0" y2="48"/><linearGradient id="fg44" href="#fb" gradientUnits="userSpaceOnUse" x1="0" y1="100.9" x2="0" y2="48"/><linearGradient id="sg45" href="#cb" gradientUnits="userSpaceOnUse" x1="0" y1="101.1" x2="0" y2="48.2"/><linearGradient id="fg45" href="#fb" gradientUnits="userSpaceOnUse" x1="0" y1="101.1" x2="0" y2="48.2"/><linearGradient id="sg46" href="#cb" gradientUnits="userSpaceOnUse" x1="0" y1="101.4" x2="0" y2="48.4"/><linearGradient id="fg46" href="#fb" gradientUnits="userSpaceOnUse" x1="0" y1="101.4" x2="0" y2="48.4"/><linearGradient id="sg47" href="#cb" gradientUnits="userSpaceOnUse" x1="0" y1="101.7" x2="0" y2="48.6"/><linearGradient id="fg47" href="#fb" gradientUnits="userSpaceOnUse" x1="0" y1="101.7" x2="0" y2="48.6"/><linearGradient id="sg48" href="#sb" gradientUnits="userSpaceOnUse" x1="0" y1="102" x2="0" y2="48.8"/><linearGradient id="fg48" href="#fb" gradientUnits="userSpaceOnUse" x1="0" y1="102" x2="0" y2="48.8"/><linearGradient id="sg49" href="#sb" gradientUnits="userSpaceOnUse" x1="0" y1="102.2" x2="0" y2="49"/><linearGradient id="fg49" href="#fb" gradientUnits="userSpaceOnUse" x1="0" y1="102.2" x2="0" y2="49"/><linearGradient id="sg50" href="#sb" gradientUnits="userSpaceOnUse" x1="0" y1="102.5" x2="0" y2="49.2"/><linearGradient id="fg50" href="#fb" gradientUnits="userSpaceOnUse" x1="0" y1="102.5" x2="0" y2="49.2"/><linearGradient id="sg51" href="#sb" gradientUnits="userSpaceOnUse" x1="0" y1="102.9" x2="0" y2="49.5"/><linearGradient id="fg51" href="#fb" gradientUnits="userSpaceOnUse" x1="0" y1="102.9" x2="0" y2="49.5"/><linearGradient id="sg52" href="#sb" gradientUnits="userSpaceOnUse" x1="0" y1="103.2" x2="0" y2="49.7"/><linearGradient id="fg52" href="#fb" gradientUnits="userSpaceOnUse" x1="0" y1="103.2" x2="0" y2="49.7"/><linearGradient id="sg53" href="#sb" gradientUnits="userSpaceOnUse" x1="0" y1="103.6" x2="0" y2="50.1"/><linearGradient id="fg53" href="#fb" gradientUnits="userSpaceOnUse" x1="0" y1="103.6" x2="0" y2="50.1"/><linearGradient id="sg54" href="#sb" gradientUnits="userSpaceOnUse" x1="0" y1="104" x2="0" y2="50.4"/><linearGradient id="fg54" href="#fb" gradientUnits="userSpaceOnUse" x1="0" y1="104" x2="0" y2="50.4"/><linearGradient id="sg55" href="#sb" gradientUnits="userSpaceOnUse" x1="0" y1="104.4" x2="0" y2="50.7"/><linearGradient id="fg55" href="#fb" gradientUnits="userSpaceOnUse" x1="0" y1="104.4" x2="0" y2="50.7"/><linearGradient id="sg56" href="#sb" gradientUnits="userSpaceOnUse" x1="0" y1="104.9" x2="0" y2="51"/><linearGradient id="fg56" href="#fb" gradientUnits="userSpaceOnUse" x1="0" y1="104.9" x2="0" y2="51"/><linearGradient id="sg57" href="#sb" gradientUnits="userSpaceOnUse" x1="0" y1="105.3" x2="0" y2="51.4"/><linearGradient id="fg57" href="#fb" gradientUnits="userSpaceOnUse" x1="0" y1="105.3" x2="0" y2="51.4"/><linearGradient id="sg58" href="#sb" gradientUnits="userSpaceOnUse" x1="0" y1="105.8" x2="0" y2="51.7"/><linearGradient id="fg58" href="#fb" gradientUnits="userSpaceOnUse" x1="0" y1="105.8" x2="0" y2="51.7"/><linearGradient id="sc"><stop offset="0.0" stop-color="#6070ff" stop-opacity="0"/><stop offset="0.02" stop-color="#7080ff"/><stop offset="0.05" stop-color="#d0d8ff"/><stop offset="0.09" stop-color="#ffffff"/><stop offset="0.26" stop-color="#f8fdff"/><stop offset="0.32" stop-color="#c0f4ff"/><stop offset="0.38" stop-color="#20e4f4"/><stop offset="0.45" stop-color="#00eaa8"/><stop offset="0.52" stop-color="#28e428"/><stop offset="0.59" stop-color="#b4f000"/><stop offset="0.65" stop-color="#ffe400"/><stop offset="0.71" stop-color="#ff9400"/><stop offset="0.78" stop-color="#ff3000"/><stop offset="1.0" stop-color="#ec0000"/></linearGradient><linearGradient id="fc"><stop offset="0.0" stop-color="#2a2aee"/><stop offset="0.02" stop-color="#2a2aee"/><stop offset="0.05" stop-color="#2a2aee"/><stop offset="0.09" stop-color="#2a2aee"/><stop offset="0.26" stop-color="#2a2aee"/><stop offset="0.32" stop-color="#3234ef"/><stop offset="0.38" stop-color="#2846ef"/><stop offset="0.45" stop-color="#2250e0"/><stop offset="0.52" stop-color="#2a53c2"/><stop offset="0.59" stop-color="#4c5cb2"/><stop offset="0.65" stop-color="#756b9b"/><stop offset="0.71" stop-color="#945f77"/><stop offset="0.78" stop-color="#bf2e47"/><stop offset="1.0" stop-color="#d90418"/></linearGradient><linearGradient id="cc"><stop offset="0.0" stop-color="#2040f0" stop-opacity="0"/><stop offset="0.015" stop-color="#3060f0"/><stop offset="0.12" stop-color="#2080f0"/><stop offset="0.24" stop-color="#10b0f0"/><stop offset="0.32" stop-color="#10d0f0"/><stop offset="0.38" stop-color="#20e4f4"/><stop offset="0.45" stop-color="#00eaa8"/><stop offset="0.52" stop-color="#28e428"/><stop offset="0.59" stop-color="#b4f000"/><stop offset="0.65" stop-color="#ffe400"/><stop offset="0.71" stop-color="#ff9400"/><stop offset="0.78" stop-color="#ff3000"/><stop offset="1.0" stop-color="#ec0000"/></linearGradient><linearGradient id="sg59" href="#cc" gradientUnits="userSpaceOnUse" x1="0" y1="99.5" x2="0" y2="47"/><linearGradient id="fg59" href="#fc" gradientUnits="userSpaceOnUse" x1="0" y1="99.5" x2="0" y2="47"/><linearGradient id="sg60" href="#cc" gradientUnits="userSpaceOnUse" x1="0" y1="99.7" x2="0" y2="47"/><linearGradient id="fg60" href="#fc" gradientUnits="userSpaceOnUse" x1="0" y1="99.7" x2="0" y2="47"/><linearGradient id="sg61" href="#cc" gradientUnits="userSpaceOnUse" x1="0" y1="99.8" x2="0" y2="47.2"/><linearGradient id="fg61" href="#fc" gradientUnits="userSpaceOnUse" x1="0" y1="99.8" x2="0" y2="47.2"/><linearGradient id="sg62" href="#cc" gradientUnits="userSpaceOnUse" x1="0" y1="100" x2="0" y2="47.3"/><linearGradient id="fg62" href="#fc" gradientUnits="userSpaceOnUse" x1="0" y1="100" x2="0" y2="47.3"/><linearGradient id="sg63" href="#cc" gradientUnits="userSpaceOnUse" x1="0" y1="100.2" x2="0" y2="47.4"/><linearGradient id="fg63" href="#fc" gradientUnits="userSpaceOnUse" x1="0" y1="100.2" x2="0" y2="47.4"/><linearGradient id="sg64" href="#cc" gradientUnits="userSpaceOnUse" x1="0" y1="100.4" x2="0" y2="47.6"/><linearGradient id="fg64" href="#fc" gradientUnits="userSpaceOnUse" x1="0" y1="100.4" x2="0" y2="47.6"/><linearGradient id="sg65" href="#cc" gradientUnits="userSpaceOnUse" x1="0" y1="100.6" x2="0" y2="47.8"/><linearGradient id="fg65" href="#fc" gradientUnits="userSpaceOnUse" x1="0" y1="100.6" x2="0" y2="47.8"/><linearGradient id="sg66" href="#cc" gradientUnits="userSpaceOnUse" x1="0" y1="100.9" x2="0" y2="48"/><linearGradient id="fg66" href="#fc" gradientUnits="userSpaceOnUse" x1="0" y1="100.9" x2="0" y2="48"/><linearGradient id="sg67" href="#cc" gradientUnits="userSpaceOnUse" x1="0" y1="101.1" x2="0" y2="48.2"/><linearGradient id="fg67" href="#fc" gradientUnits="userSpaceOnUse" x1="0" y1="101.1" x2="0" y2="48.2"/><linearGradient id="sg68" href="#cc" gradientUnits="userSpaceOnUse" x1="0" y1="101.4" x2="0" y2="48.4"/><linearGradient id="fg68" href="#fc" gradientUnits="userSpaceOnUse" x1="0" y1="101.4" x2="0" y2="48.4"/><linearGradient id="sg69" href="#cc" gradientUnits="userSpaceOnUse" x1="0" y1="101.7" x2="0" y2="48.6"/><linearGradient id="fg69" href="#fc" gradientUnits="userSpaceOnUse" x1="0" y1="101.7" x2="0" y2="48.6"/><linearGradient id="sg70" href="#sc" gradientUnits="userSpaceOnUse" x1="0" y1="102" x2="0" y2="48.8"/><linearGradient id="fg70" href="#fc" gradientUnits="userSpaceOnUse" x1="0" y1="102" x2="0" y2="48.8"/><linearGradient id="sg71" href="#sc" gradientUnits="userSpaceOnUse" x1="0" y1="102.2" x2="0" y2="49"/><linearGradient id="fg71" href="#fc" gradientUnits="userSpaceOnUse" x1="0" y1="102.2" x2="0" y2="49"/><linearGradient id="sg72" href="#sc" gradientUnits="userSpaceOnUse" x1="0" y1="102.5" x2="0" y2="49.2"/><linearGradient id="fg72" href="#fc" gradientUnits="userSpaceOnUse" x1="0" y1="102.5" x2="0" y2="49.2"/><linearGradient id="sg73" href="#sc" gradientUnits="userSpaceOnUse" x1="0" y1="102.9" x2="0" y2="49.5"/><linearGradient id="fg73" href="#fc" gradientUnits="userSpaceOnUse" x1="0" y1="102.9" x2="0" y2="49.5"/><linearGradient id="sg74" href="#sc" gradientUnits="userSpaceOnUse" x1="0" y1="103.2" x2="0" y2="49.7"/><linearGradient id="fg74" href="#fc" gradientUnits="userSpaceOnUse" x1="0" y1="103.2" x2="0" y2="49.7"/><linearGradient id="sg75" href="#sc" gradientUnits="userSpaceOnUse" x1="0" y1="103.6" x2="0" y2="50.1"/><linearGradient id="fg75" href="#fc" gradientUnits="userSpaceOnUse" x1="0" y1="103.6" x2="0" y2="50.1"/><linearGradient id="sg76" href="#sc" gradientUnits="userSpaceOnUse" x1="0" y1="104" x2="0" y2="50.4"/><linearGradient id="fg76" href="#fc" gradientUnits="userSpaceOnUse" x1="0" y1="104" x2="0" y2="50.4"/><linearGradient id="sg77" href="#sc" gradientUnits="userSpaceOnUse" x1="0" y1="104.4" x2="0" y2="50.7"/><linearGradient id="fg77" href="#fc" gradientUnits="userSpaceOnUse" x1="0" y1="104.4" x2="0" y2="50.7"/><linearGradient id="sg78" href="#sc" gradientUnits="userSpaceOnUse" x1="0" y1="104.9" x2="0" y2="51"/><linearGradient id="fg78" href="#fc" gradientUnits="userSpaceOnUse" x1="0" y1="104.9" x2="0" y2="51"/><linearGradient id="sg79" href="#sc" gradientUnits="userSpaceOnUse" x1="0" y1="105.3" x2="0" y2="51.4"/><linearGradient id="fg79" href="#fc" gradientUnits="userSpaceOnUse" x1="0" y1="105.3" x2="0" y2="51.4"/><linearGradient id="sg80" href="#sc" gradientUnits="userSpaceOnUse" x1="0" y1="105.8" x2="0" y2="51.7"/><linearGradient id="fg80" href="#fc" gradientUnits="userSpaceOnUse" x1="0" y1="105.8" x2="0" y2="51.7"/><linearGradient id="sd"><stop offset="0.0" stop-color="#6070ff" stop-opacity="0"/><stop offset="0.02" stop-color="#7080ff"/><stop offset="0.05" stop-color="#d0d8ff"/><stop offset="0.09" stop-color="#ffffff"/><stop offset="0.26" stop-color="#f8fdff"/><stop offset="0.32" stop-color="#c0f4ff"/><stop offset="0.38" stop-color="#20e4f4"/><stop offset="0.45" stop-color="#00eaa8"/><stop offset="0.52" stop-color="#28e428"/><stop offset="0.59" stop-color="#b4f000"/><stop offset="0.65" stop-color="#ffe400"/><stop offset="0.71" stop-color="#ff9400"/><stop offset="0.78" stop-color="#ff3000"/><stop offset="1.0" stop-color="#ec0000"/></linearGradient><linearGradient id="fd"><stop offset="0.0" stop-color="#2a2aee"/><stop offset="0.02" stop-color="#2a2aee"/><stop offset="0.05" stop-color="#2a2aee"/><stop offset="0.09" stop-color="#2a2aee"/><stop offset="0.26" stop-color="#2a2aee"/><stop offset="0.32" stop-color="#3234ef"/><stop offset="0.38" stop-color="#2846ef"/><stop offset="0.45" stop-color="#2250e0"/><stop offset="0.52" stop-color="#2a53c2"/><stop offset="0.59" stop-color="#4c5cb2"/><stop offset="0.65" stop-color="#756b9b"/><stop offset="0.71" stop-color="#945f77"/><stop offset="0.78" stop-color="#bf2e47"/><stop offset="1.0" stop-color="#d90418"/></linearGradient><linearGradient id="cd"><stop offset="0.0" stop-color="#2040f0" stop-opacity="0"/><stop offset="0.015" stop-color="#3060f0"/><stop offset="0.12" stop-color="#2080f0"/><stop offset="0.24" stop-color="#10b0f0"/><stop offset="0.32" stop-color="#10d0f0"/><stop offset="0.38" stop-color="#20e4f4"/><stop offset="0.45" stop-color="#00eaa8"/><stop offset="0.52" stop-color="#28e428"/><stop offset="0.59" stop-color="#b4f000"/><stop offset="0.65" stop-color="#ffe400"/><stop offset="0.71" stop-color="#ff9400"/><stop offset="0.78" stop-color="#ff3000"/><stop offset="1.0" stop-color="#ec0000"/></linearGradient><linearGradient id="sg81" href="#cd" gradientUnits="userSpaceOnUse" x1="0" y1="98.2" x2="0" y2="46"/><linearGradient id="fg81" href="#fd" gradientUnits="userSpaceOnUse" x1="0" y1="98.2" x2="0" y2="46"/><linearGradient id="sg82" href="#cd" gradientUnits="userSpaceOnUse" x1="0" y1="98.3" x2="0" y2="46"/><linearGradient id="fg82" href="#fd" gradientUnits="userSpaceOnUse" x1="0" y1="98.3" x2="0" y2="46"/><linearGradient id="sg83" href="#cd" gradientUnits="userSpaceOnUse" x1="0" y1="98.5" x2="0" y2="46.2"/><linearGradient id="fg83" href="#fd" gradientUnits="userSpaceOnUse" x1="0" y1="98.5" x2="0" y2="46.2"/><linearGradient id="sg84" href="#cd" gradientUnits="userSpaceOnUse" x1="0" y1="98.7" x2="0" y2="46.3"/><linearGradient id="fg84" href="#fd" gradientUnits="userSpaceOnUse" x1="0" y1="98.7" x2="0" y2="46.3"/><linearGradient id="sg85" href="#cd" gradientUnits="userSpaceOnUse" x1="0" y1="98.9" x2="0" y2="46.5"/><linearGradient id="fg85" href="#fd" gradientUnits="userSpaceOnUse" x1="0" y1="98.9" x2="0" y2="46.5"/><linearGradient id="sg86" href="#cd" gradientUnits="userSpaceOnUse" x1="0" y1="99.2" x2="0" y2="46.7"/><linearGradient id="fg86" href="#fd" gradientUnits="userSpaceOnUse" x1="0" y1="99.2" x2="0" y2="46.7"/><linearGradient id="sg87" href="#cd" gradientUnits="userSpaceOnUse" x1="0" y1="99.4" x2="0" y2="46.9"/><linearGradient id="fg87" href="#fd" gradientUnits="userSpaceOnUse" x1="0" y1="99.4" x2="0" y2="46.9"/><linearGradient id="sg88" href="#cd" gradientUnits="userSpaceOnUse" x1="0" y1="99.7" x2="0" y2="47.1"/><linearGradient id="fg88" href="#fd" gradientUnits="userSpaceOnUse" x1="0" y1="99.7" x2="0" y2="47.1"/><linearGradient id="sg89" href="#cd" gradientUnits="userSpaceOnUse" x1="0" y1="100" x2="0" y2="47.3"/><linearGradient id="fg89" href="#fd" gradientUnits="userSpaceOnUse" x1="0" y1="100" x2="0" y2="47.3"/><linearGradient id="sg90" href="#cd" gradientUnits="userSpaceOnUse" x1="0" y1="100.4" x2="0" y2="47.6"/><linearGradient id="fg90" href="#fd" gradientUnits="userSpaceOnUse" x1="0" y1="100.4" x2="0" y2="47.6"/><linearGradient id="sg91" href="#cd" gradientUnits="userSpaceOnUse" x1="0" y1="100.8" x2="0" y2="47.9"/><linearGradient id="fg91" href="#fd" gradientUnits="userSpaceOnUse" x1="0" y1="100.8" x2="0" y2="47.9"/><linearGradient id="sg92" href="#cd" gradientUnits="userSpaceOnUse" x1="0" y1="101.3" x2="0" y2="48.3"/><linearGradient id="fg92" href="#fd" gradientUnits="userSpaceOnUse" x1="0" y1="101.3" x2="0" y2="48.3"/><linearGradient id="sg93" href="#sd" gradientUnits="userSpaceOnUse" x1="0" y1="101.8" x2="0" y2="48.7"/><linearGradient id="fg93" href="#fd" gradientUnits="userSpaceOnUse" x1="0" y1="101.8" x2="0" y2="48.7"/><linearGradient id="sg94" href="#sd" gradientUnits="userSpaceOnUse" x1="0" y1="102.3" x2="0" y2="49.1"/><linearGradient id="fg94" href="#fd" gradientUnits="userSpaceOnUse" x1="0" y1="102.3" x2="0" y2="49.1"/><linearGradient id="sg95" href="#sd" gradientUnits="userSpaceOnUse" x1="0" y1="102.9" x2="0" y2="49.5"/><linearGradient id="fg95" href="#fd" gradientUnits="userSpaceOnUse" x1="0" y1="102.9" x2="0" y2="49.5"/><linearGradient id="sg96" href="#sd" gradientUnits="userSpaceOnUse" x1="0" y1="103.5" x2="0" y2="50"/><linearGradient id="fg96" href="#fd" gradientUnits="userSpaceOnUse" x1="0" y1="103.5" x2="0" y2="50"/><linearGradient id="sg97" href="#sd" gradientUnits="userSpaceOnUse" x1="0" y1="104.1" x2="0" y2="50.4"/><linearGradient id="fg97" href="#fd" gradientUnits="userSpaceOnUse" x1="0" y1="104.1" x2="0" y2="50.4"/><linearGradient id="sg98" href="#sd" gradientUnits="userSpaceOnUse" x1="0" y1="104.7" x2="0" y2="50.9"/><linearGradient id="fg98" href="#fd" gradientUnits="userSpaceOnUse" x1="0" y1="104.7" x2="0" y2="50.9"/><linearGradient id="sg99" href="#sd" gradientUnits="userSpaceOnUse" x1="0" y1="105.4" x2="0" y2="51.4"/><linearGradient id="fg99" href="#fd" gradientUnits="userSpaceOnUse" x1="0" y1="105.4" x2="0" y2="51.4"/><linearGradient id="sg100" href="#sd" gradientUnits="userSpaceOnUse" x1="0" y1="106" x2="0" y2="51.9"/><linearGradient id="fg100" href="#fd" gradientUnits="userSpaceOnUse" x1="0" y1="106" x2="0" y2="51.9"/><linearGradient id="sg101" href="#sd" gradientUnits="userSpaceOnUse" x1="0" y1="106.7" x2="0" y2="52.4"/><linearGradient id="fg101" href="#fd" gradientUnits="userSpaceOnUse" x1="0" y1="106.7" x2="0" y2="52.4"/><linearGradient id="sg102" href="#sd" gradientUnits="userSpaceOnUse" x1="0" y1="107.4" x2="0" y2="53"/><linearGradient id="fg102" href="#fd" gradientUnits="userSpaceOnUse" x1="0" y1="107.4" x2="0" y2="53"/><linearGradient id="se"><stop offset="0.0" stop-color="#6070ff" stop-opacity="0"/><stop offset="0.02" stop-color="#7080ff"/><stop offset="0.05" stop-color="#d0d8ff"/><stop offset="0.09" stop-color="#ffffff"/><stop offset="0.26" stop-color="#f8fdff"/><stop offset="0.32" stop-color="#c0f4ff"/><stop offset="0.38" stop-color="#20e4f4"/><stop offset="0.45" stop-color="#00eaa8"/><stop offset="0.52" stop-color="#28e428"/><stop offset="0.59" stop-color="#b4f000"/><stop offset="0.65" stop-color="#ffe400"/><stop offset="0.71" stop-color="#ff9400"/><stop offset="0.78" stop-color="#ff3000"/><stop offset="1.0" stop-color="#ec0000"/></linearGradient><linearGradient id="fe"><stop offset="0.0" stop-color="#2a2aee"/><stop offset="0.02" stop-color="#2a2aee"/><stop offset="0.05" stop-color="#2a2aee"/><stop offset="0.09" stop-color="#2a2aee"/><stop offset="0.26" stop-color="#2a2aee"/><stop offset="0.32" stop-color="#3234ef"/><stop offset="0.38" stop-color="#2846ef"/><stop offset="0.45" stop-color="#2250e0"/><stop offset="0.52" stop-color="#2a53c2"/><stop offset="0.59" stop-color="#4c5cb2"/><stop offset="0.65" stop-color="#756b9b"/><stop offset="0.71" stop-color="#945f77"/><stop offset="0.78" stop-color="#bf2e47"/><stop offset="1.0" stop-color="#d90418"/></linearGradient><linearGradient id="ce"><stop offset="0.0" stop-color="#2040f0" stop-opacity="0"/><stop offset="0.015" stop-color="#3060f0"/><stop offset="0.12" stop-color="#2080f0"/><stop offset="0.24" stop-color="#10b0f0"/><stop offset="0.32" stop-color="#10d0f0"/><stop offset="0.38" stop-color="#20e4f4"/><stop offset="0.45" stop-color="#00eaa8"/><stop offset="0.52" stop-color="#28e428"/><stop offset="0.59" stop-color="#b4f000"/><stop offset="0.65" stop-color="#ffe400"/><stop offset="0.71" stop-color="#ff9400"/><stop offset="0.78" stop-color="#ff3000"/><stop offset="1.0" stop-color="#ec0000"/></linearGradient><linearGradient id="sg103" href="#ce" gradientUnits="userSpaceOnUse" x1="0" y1="98.2" x2="0" y2="46"/><linearGradient id="fg103" href="#fe" gradientUnits="userSpaceOnUse" x1="0" y1="98.2" x2="0" y2="46"/><linearGradient id="sg104" href="#ce" gradientUnits="userSpaceOnUse" x1="0" y1="98.3" x2="0" y2="46"/><linearGradient id="fg104" href="#fe" gradientUnits="userSpaceOnUse" x1="0" y1="98.3" x2="0" y2="46"/><linearGradient id="sg105" href="#ce" gradientUnits="userSpaceOnUse" x1="0" y1="98.4" x2="0" y2="46.1"/><linearGradient id="fg105" href="#fe" gradientUnits="userSpaceOnUse" x1="0" y1="98.4" x2="0" y2="46.1"/><linearGradient id="sg106" href="#ce" gradientUnits="userSpaceOnUse" x1="0" y1="98.5" x2="0" y2="46.2"/><linearGradient id="fg106" href="#fe" gradientUnits="userSpaceOnUse" x1="0" y1="98.5" x2="0" y2="46.2"/><linearGradient id="sg107" href="#ce" gradientUnits="userSpaceOnUse" x1="0" y1="98.7" x2="0" y2="46.3"/><linearGradient id="fg107" href="#fe" gradientUnits="userSpaceOnUse" x1="0" y1="98.7" x2="0" y2="46.3"/><linearGradient id="sg108" href="#ce" gradientUnits="userSpaceOnUse" x1="0" y1="98.9" x2="0" y2="46.4"/><linearGradient id="fg108" href="#fe" gradientUnits="userSpaceOnUse" x1="0" y1="98.9" x2="0" y2="46.4"/><linearGradient id="sg109" href="#ce" gradientUnits="userSpaceOnUse" x1="0" y1="99" x2="0" y2="46.6"/><linearGradient id="fg109" href="#fe" gradientUnits="userSpaceOnUse" x1="0" y1="99" x2="0" y2="46.6"/><linearGradient id="sg110" href="#ce" gradientUnits="userSpaceOnUse" x1="0" y1="99.3" x2="0" y2="46.7"/><linearGradient id="fg110" href="#fe" gradientUnits="userSpaceOnUse" x1="0" y1="99.3" x2="0" y2="46.7"/><linearGradient id="sg111" href="#ce" gradientUnits="userSpaceOnUse" x1="0" y1="99.5" x2="0" y2="46.9"/><linearGradient id="fg111" href="#fe" gradientUnits="userSpaceOnUse" x1="0" y1="99.5" x2="0" y2="46.9"/><linearGradient id="sg112" href="#ce" gradientUnits="userSpaceOnUse" x1="0" y1="99.7" x2="0" y2="47.1"/><linearGradient id="fg112" href="#fe" gradientUnits="userSpaceOnUse" x1="0" y1="99.7" x2="0" y2="47.1"/><linearGradient id="sg113" href="#ce" gradientUnits="userSpaceOnUse" x1="0" y1="100" x2="0" y2="47.3"/><linearGradient id="fg113" href="#fe" gradientUnits="userSpaceOnUse" x1="0" y1="100" x2="0" y2="47.3"/><linearGradient id="sg114" href="#ce" gradientUnits="userSpaceOnUse" x1="0" y1="100.3" x2="0" y2="47.5"/><linearGradient id="fg114" href="#fe" gradientUnits="userSpaceOnUse" x1="0" y1="100.3" x2="0" y2="47.5"/><linearGradient id="sg115" href="#ce" gradientUnits="userSpaceOnUse" x1="0" y1="100.7" x2="0" y2="47.8"/><linearGradient id="fg115" href="#fe" gradientUnits="userSpaceOnUse" x1="0" y1="100.7" x2="0" y2="47.8"/><linearGradient id="sg116" href="#ce" gradientUnits="userSpaceOnUse" x1="0" y1="101" x2="0" y2="48.1"/><linearGradient id="fg116" href="#fe" gradientUnits="userSpaceOnUse" x1="0" y1="101" x2="0" y2="48.1"/><linearGradient id="sg117" href="#ce" gradientUnits="userSpaceOnUse" x1="0" y1="101.4" x2="0" y2="48.4"/><linearGradient id="fg117" href="#fe" gradientUnits="userSpaceOnUse" x1="0" y1="101.4" x2="0" y2="48.4"/><linearGradient id="sg118" href="#se" gradientUnits="userSpaceOnUse" x1="0" y1="101.8" x2="0" y2="48.7"/><linearGradient id="fg118" href="#fe" gradientUnits="userSpaceOnUse" x1="0" y1="101.8" x2="0" y2="48.7"/><linearGradient id="sg119" href="#se" gradientUnits="userSpaceOnUse" x1="0" y1="102.2" x2="0" y2="49"/><linearGradient id="fg119" href="#fe" gradientUnits="userSpaceOnUse" x1="0" y1="102.2" x2="0" y2="49"/><linearGradient id="sg120" href="#se" gradientUnits="userSpaceOnUse" x1="0" y1="102.7" x2="0" y2="49.4"/><linearGradient id="fg120" href="#fe" gradientUnits="userSpaceOnUse" x1="0" y1="102.7" x2="0" y2="49.4"/><linearGradient id="sg121" href="#se" gradientUnits="userSpaceOnUse" x1="0" y1="103.3" x2="0" y2="49.8"/><linearGradient id="fg121" href="#fe" gradientUnits="userSpaceOnUse" x1="0" y1="103.3" x2="0" y2="49.8"/><linearGradient id="sg122" href="#se" gradientUnits="userSpaceOnUse" x1="0" y1="103.9" x2="0" y2="50.2"/><linearGradient id="fg122" href="#fe" gradientUnits="userSpaceOnUse" x1="0" y1="103.9" x2="0" y2="50.2"/><linearGradient id="sg123" href="#se" gradientUnits="userSpaceOnUse" x1="0" y1="104.4" x2="0" y2="50.7"/><linearGradient id="fg123" href="#fe" gradientUnits="userSpaceOnUse" x1="0" y1="104.4" x2="0" y2="50.7"/><linearGradient id="sg124" href="#se" gradientUnits="userSpaceOnUse" x1="0" y1="105.1" x2="0" y2="51.2"/><linearGradient id="fg124" href="#fe" gradientUnits="userSpaceOnUse" x1="0" y1="105.1" x2="0" y2="51.2"/><linearGradient id="sg125" href="#se" gradientUnits="userSpaceOnUse" x1="0" y1="105.7" x2="0" y2="51.6"/><linearGradient id="fg125" href="#fe" gradientUnits="userSpaceOnUse" x1="0" y1="105.7" x2="0" y2="51.6"/><linearGradient id="sg126" href="#se" gradientUnits="userSpaceOnUse" x1="0" y1="106.3" x2="0" y2="52.1"/><linearGradient id="fg126" href="#fe" gradientUnits="userSpaceOnUse" x1="0" y1="106.3" x2="0" y2="52.1"/><linearGradient id="sf"><stop offset="0.0" stop-color="#6070ff" stop-opacity="0"/><stop offset="0.02" stop-color="#7080ff"/><stop offset="0.05" stop-color="#d0d8ff"/><stop offset="0.09" stop-color="#ffffff"/><stop offset="0.26" stop-color="#f8fdff"/><stop offset="0.32" stop-color="#c0f4ff"/><stop offset="0.38" stop-color="#20e4f4"/><stop offset="0.45" stop-color="#00eaa8"/><stop offset="0.52" stop-color="#28e428"/><stop offset="0.59" stop-color="#b4f000"/><stop offset="0.65" stop-color="#ffe400"/><stop offset="0.71" stop-color="#ff9400"/><stop offset="0.78" stop-color="#ff3000"/><stop offset="1.0" stop-color="#ec0000"/></linearGradient><linearGradient id="ff"><stop offset="0.0" stop-color="#2a2aee"/><stop offset="0.02" stop-color="#2a2aee"/><stop offset="0.05" stop-color="#2a2aee"/><stop offset="0.09" stop-color="#2a2aee"/><stop offset="0.26" stop-color="#2a2aee"/><stop offset="0.32" stop-color="#3234ef"/><stop offset="0.38" stop-color="#2846ef"/><stop offset="0.45" stop-color="#2250e0"/><stop offset="0.52" stop-color="#2a53c2"/><stop offset="0.59" stop-color="#4c5cb2"/><stop offset="0.65" stop-color="#756b9b"/><stop offset="0.71" stop-color="#945f77"/><stop offset="0.78" stop-color="#bf2e47"/><stop offset="1.0" stop-color="#d90418"/></linearGradient><linearGradient id="cf"><stop offset="0.0" stop-color="#2040f0" stop-opacity="0"/><stop offset="0.015" stop-color="#3060f0"/><stop offset="0.12" stop-color="#2080f0"/><stop offset="0.24" stop-color="#10b0f0"/><stop offset="0.32" stop-color="#10d0f0"/><stop offset="0.38" stop-color="#20e4f4"/><stop offset="0.45" stop-color="#00eaa8"/><stop offset="0.52" stop-color="#28e428"/><stop offset="0.59" stop-color="#b4f000"/><stop offset="0.65" stop-color="#ffe400"/><stop offset="0.71" stop-color="#ff9400"/><stop offset="0.78" stop-color="#ff3000"/><stop offset="1.0" stop-color="#ec0000"/></linearGradient><linearGradient id="sg127" href="#cf" gradientUnits="userSpaceOnUse" x1="0" y1="98.2" x2="0" y2="46"/><linearGradient id="fg127" href="#ff" gradientUnits="userSpaceOnUse" x1="0" y1="98.2" x2="0" y2="46"/><linearGradient id="sg128" href="#cf" gradientUnits="userSpaceOnUse" x1="0" y1="98.3" x2="0" y2="46"/><linearGradient id="fg128" href="#ff" gradientUnits="userSpaceOnUse" x1="0" y1="98.3" x2="0" y2="46"/><linearGradient id="sg129" href="#cf" gradientUnits="userSpaceOnUse" x1="0" y1="98.4" x2="0" y2="46.1"/><linearGradient id="fg129" href="#ff" gradientUnits="userSpaceOnUse" x1="0" y1="98.4" x2="0" y2="46.1"/><linearGradient id="sg130" href="#cf" gradientUnits="userSpaceOnUse" x1="0" y1="98.5" x2="0" y2="46.2"/><linearGradient id="fg130" href="#ff" gradientUnits="userSpaceOnUse" x1="0" y1="98.5" x2="0" y2="46.2"/><linearGradient id="sg131" href="#cf" gradientUnits="userSpaceOnUse" x1="0" y1="98.7" x2="0" y2="46.3"/><linearGradient id="fg131" href="#ff" gradientUnits="userSpaceOnUse" x1="0" y1="98.7" x2="0" y2="46.3"/><linearGradient id="sg132" href="#cf" gradientUnits="userSpaceOnUse" x1="0" y1="98.9" x2="0" y2="46.4"/><linearGradient id="fg132" href="#ff" gradientUnits="userSpaceOnUse" x1="0" y1="98.9" x2="0" y2="46.4"/><linearGradient id="sg133" href="#cf" gradientUnits="userSpaceOnUse" x1="0" y1="99" x2="0" y2="46.6"/><linearGradient id="fg133" href="#ff" gradientUnits="userSpaceOnUse" x1="0" y1="99" x2="0" y2="46.6"/><linearGradient id="sg134" href="#cf" gradientUnits="userSpaceOnUse" x1="0" y1="99.3" x2="0" y2="46.7"/><linearGradient id="fg134" href="#ff" gradientUnits="userSpaceOnUse" x1="0" y1="99.3" x2="0" y2="46.7"/><linearGradient id="sg135" href="#cf" gradientUnits="userSpaceOnUse" x1="0" y1="99.5" x2="0" y2="46.9"/><linearGradient id="fg135" href="#ff" gradientUnits="userSpaceOnUse" x1="0" y1="99.5" x2="0" y2="46.9"/><linearGradient id="sg136" href="#cf" gradientUnits="userSpaceOnUse" x1="0" y1="99.7" x2="0" y2="47.1"/><linearGradient id="fg136" href="#ff" gradientUnits="userSpaceOnUse" x1="0" y1="99.7" x2="0" y2="47.1"/><linearGradient id="sg137" href="#cf" gradientUnits="userSpaceOnUse" x1="0" y1="100" x2="0" y2="47.3"/><linearGradient id="fg137" href="#ff" gradientUnits="userSpaceOnUse" x1="0" y1="100" x2="0" y2="47.3"/><linearGradient id="sg138" href="#cf" gradientUnits="userSpaceOnUse" x1="0" y1="100.3" x2="0" y2="47.5"/><linearGradient id="fg138" href="#ff" gradientUnits="userSpaceOnUse" x1="0" y1="100.3" x2="0" y2="47.5"/><linearGradient id="sg139" href="#cf" gradientUnits="userSpaceOnUse" x1="0" y1="100.7" x2="0" y2="47.8"/><linearGradient id="fg139" href="#ff" gradientUnits="userSpaceOnUse" x1="0" y1="100.7" x2="0" y2="47.8"/><linearGradient id="sg140" href="#cf" gradientUnits="userSpaceOnUse" x1="0" y1="101" x2="0" y2="48.1"/><linearGradient id="fg140" href="#ff" gradientUnits="userSpaceOnUse" x1="0" y1="101" x2="0" y2="48.1"/><linearGradient id="sg141" href="#cf" gradientUnits="userSpaceOnUse" x1="0" y1="101.4" x2="0" y2="48.4"/><linearGradient id="fg141" href="#ff" gradientUnits="userSpaceOnUse" x1="0" y1="101.4" x2="0" y2="48.4"/><linearGradient id="sg142" href="#sf" gradientUnits="userSpaceOnUse" x1="0" y1="101.8" x2="0" y2="48.7"/><linearGradient id="fg142" href="#ff" gradientUnits="userSpaceOnUse" x1="0" y1="101.8" x2="0" y2="48.7"/><linearGradient id="sg143" href="#sf" gradientUnits="userSpaceOnUse" x1="0" y1="102.2" x2="0" y2="49"/><linearGradient id="fg143" href="#ff" gradientUnits="userSpaceOnUse" x1="0" y1="102.2" x2="0" y2="49"/><linearGradient id="sg144" href="#sf" gradientUnits="userSpaceOnUse" x1="0" y1="102.9" x2="0" y2="49.5"/><linearGradient id="fg144" href="#ff" gradientUnits="userSpaceOnUse" x1="0" y1="102.9" x2="0" y2="49.5"/><linearGradient id="sg145" href="#sf" gradientUnits="userSpaceOnUse" x1="0" y1="103.7" x2="0" y2="50.1"/><linearGradient id="fg145" href="#ff" gradientUnits="userSpaceOnUse" x1="0" y1="103.7" x2="0" y2="50.1"/><linearGradient id="sg146" href="#sf" gradientUnits="userSpaceOnUse" x1="0" y1="104.4" x2="0" y2="50.7"/><linearGradient id="fg146" href="#ff" gradientUnits="userSpaceOnUse" x1="0" y1="104.4" x2="0" y2="50.7"/><linearGradient id="sg147" href="#sf" gradientUnits="userSpaceOnUse" x1="0" y1="105.2" x2="0" y2="51.3"/><linearGradient id="fg147" href="#ff" gradientUnits="userSpaceOnUse" x1="0" y1="105.2" x2="0" y2="51.3"/><linearGradient id="sg148" href="#sf" gradientUnits="userSpaceOnUse" x1="0" y1="106" x2="0" y2="51.9"/><linearGradient id="fg148" href="#ff" gradientUnits="userSpaceOnUse" x1="0" y1="106" x2="0" y2="51.9"/><linearGradient id="sg149" href="#sf" gradientUnits="userSpaceOnUse" x1="0" y1="106.9" x2="0" y2="52.5"/><linearGradient id="fg149" href="#ff" gradientUnits="userSpaceOnUse" x1="0" y1="106.9" x2="0" y2="52.5"/><linearGradient id="sg150" href="#sf" gradientUnits="userSpaceOnUse" x1="0" y1="107.7" x2="0" y2="53.2"/><linearGradient id="fg150" href="#ff" gradientUnits="userSpaceOnUse" x1="0" y1="107.7" x2="0" y2="53.2"/></defs><rect width="550" height="299" fill="#fff"/><g stroke-width="0.75" stroke-linejoin="round"><g transform="translate(0,0)"><path d="M104.7 44V4.6M121.2 44V4.6M137.7 44V4.6M154.3 44V4.6M170.8 44V4.6M96.1 38.1H179.4M21 122.9L96.1 38.1M96.1 32.1H179.4M21 113.8L96.1 32.1M96.1 26.2H179.4M21 104.7L96.1 26.2M96.1 20.2H179.4M21 95.6L96.1 20.2M96.1 14.3H179.4M21 86.6L96.1 14.3M96.1 8.4H179.4M21 77.5L96.1 8.4M96.1 5.4H179.4M21 72.9L96.1 5.4M30.4 121V63.3M42.9 106.3V52.1M54.2 93.1V42.1M64.3 81.2V33M73.5 70.4V24.8M81.9 60.6V17.3M89.6 51.6V10.4" stroke="#d0d0d0" stroke-width="0.55" fill="none"/><path d="M21 71.7L96.1 4.6H179.4V44M96.1 4.6V44" stroke="#8c8c8c" stroke-width="0.6" fill="none"/><polygon points="21,132 142,132 179.4,44 178.4,41.3 177.3,40.9 176.2,41.6 175.1,42.3 174,42.3 172.9,41.1 171.8,41 170.7,42.7 169.6,42.4 168.5,42.8 167.4,42.9 166.3,42.3 165.2,42.8 164.1,40.9 163,43.2 161.9,41 160.8,41.3 159.7,42.5 158.6,42.7 157.5,41.2 156.4,40.5 155.3,40.8 154.2,42.5 153.1,43 152,41.4 150.9,41.9 149.8,42.3 148.7,42.7 147.6,39.6 146.5,42.7 145.4,43 144.3,42.7 143.2,41.7 142.1,42.3 141,41.5 139.9,43 138.8,41.1 137.7,42 136.6,41.1 135.5,41.1 134.4,42.1 133.3,41.7 132.2,42.5 131.1,42.1 130,42.8 128.9,41.4 127.8,42.1 126.7,40 125.6,40.1 124.5,42.2 123.4,42.3 122.3,41.8 121.2,42.9 120.1,41.2 119,42.4 117.9,42.5 116.8,42 115.7,42.1 114.6,41 113.5,41.4 112.4,42 111.3,42.6 110.2,41.4 109.1,41.5 108,42.3 106.9,42.5 105.8,41.4 104.7,43 103.6,39.8 102.5,41.2 101.4,42.7 100.3,41.9 99.2,41.4 98.1,42 97,42.1 96.1,42.6 21,126.2" fill="url(#pa)"/><path d="M40.9 102.1L92.1 43.9M34.7 117.3L94.3 47.3M48.5 111.1L107.2 39.5M64.6 100.2L106.1 47.7M71.6 98.6L116.3 40.4M69.4 111L122.7 38.9M74.8 114.2L122.6 46.9M88.7 103.3L127.4 46.9M107.8 84.2L135.3 42.5M106.5 98.7L142.6 41.1M117 89.6L145.5 42.6M118.5 98.4L148.4 46.8M112.2 122.3L157.1 40.9M126.6 109.5L162.6 40.6M134.1 109.5L165.8 45.3M150.2 89.4L170.9 45.3" stroke="#0e3ad8" stroke-opacity="0.35" stroke-width="0.6" fill="none"/><path d="M31.7 116.5L91.8 47.1M48 107.3L101.6 43M64.8 95.7L107.1 43M66.8 100L111.6 42.7M83.4 88.6L120.4 39.4M78.4 104.8L125.6 39.5M72.1 121.6L129.3 40M89.5 108.5L136.4 38.3M88.7 120.6L141.4 38.5M96.1 119.1L145.1 39.8M118.4 93.2L149.9 40M126.1 90.8L154.9 39.9M128 102.4L157.8 46.4M143.6 86.1L166.1 41.4M131.7 120L169.4 42M151.1 96L174.3 44.8" stroke="#60c0ff" stroke-opacity="0.35" stroke-width="0.6" fill="none"/><polygon points="109.7,86.8 110.8,85.7 111.8,81.6 112.9,78.1 113.9,76.1 115,73.2 116,64.7 117.1,63.6 118.1,57.3 119.2,53.9 120.2,60 121.3,53.1 122.3,50.5 123.4,48 124.4,46.6 125.5,49.6 126.5,52 127.6,61.1 128.6,59 129.7,63.9 130.7,64.7 131.8,69.7 132.8,71.4 133.9,75.3 134.9,80.2 136,84.5 137,86.8" fill="url(#fg1)" stroke="url(#sg1)" stroke-width="0.6"/><polygon points="109.5,87.2 110.5,86.3 111.6,82.3 112.6,79.8 113.7,75.2 114.7,69.9 115.8,68.2 116.8,68.4 117.9,62.3 118.9,57.3 120,57.4 121,58.4 122.1,48 123.1,57.5 124.2,48.6 125.2,51.7 126.3,58.5 127.3,51.6 128.4,57.8 129.4,65.5 130.5,63.7 131.5,69.6 132.6,75.5 133.6,76.9 134.7,79.5 135.7,83.5 136.8,87.2" fill="url(#fg2)" stroke="url(#sg2)" stroke-width="0.6"/><polygon points="109.2,87.7 110.2,86.9 111.3,84.5 112.3,80.5 113.4,76.5 114.4,71.4 115.5,67.5 116.5,64.8 117.6,68.5 118.6,68.2 119.7,58.4 120.8,57.9 121.8,52.2 122.9,54.5 123.9,51.6 125,59.1 126,52.9 127.1,58.7 128.1,58.5 129.2,61.1 130.2,65.8 131.3,68 132.3,72.1 133.4,74.5 134.4,78.8 135.5,83.3 136.5,87 137.6,87.7" fill="url(#fg3)" stroke="url(#sg3)" stroke-width="0.6"/><polygon points="108.9,88.1 109.9,87.4 111,83.5 112.1,80.9 113.1,78.3 114.2,74.2 115.2,75.7 116.3,69.5 117.3,69.5 118.4,59.1 119.4,59.6 120.5,59.1 121.5,58.3 122.6,62.7 123.7,51.4 124.7,47.5 125.8,58.6 126.8,55.4 127.9,57.9 128.9,67.7 130,63.4 131,65.8 132.1,71.7 133.1,75.5 134.2,78 135.3,83.5 136.3,86.1 137.4,88.1" fill="url(#fg4)" stroke="url(#sg4)" stroke-width="0.6"/><polygon points="109.7,88.1 110.7,85.2 111.8,82 112.8,78.3 113.9,75.4 114.9,73.1 116,69.5 117.1,72.1 118.1,68.1 119.2,62.9 120.2,64.3 121.3,64 122.3,62 123.4,59.6 124.5,56.2 125.5,60.8 126.6,58.1 127.6,55.6 128.7,64.1 129.7,62.9 130.8,68.5 131.9,74.4 132.9,75.7 134,79.8 135,81.3 136.1,85.9 137.1,88.5" fill="url(#fg5)" stroke="url(#sg5)" stroke-width="0.6"/><polygon points="109.4,88.7 110.4,86.4 111.5,82 112.6,79.7 113.6,79 114.7,72.6 115.7,75.1 116.8,66.9 117.8,63.4 118.9,67.2 120,66.3 121,58.1 122.1,63.1 123.1,54.5 124.2,61.5 125.3,55.1 126.3,59.6 127.4,63.4 128.4,67 129.5,66.2 130.6,73.7 131.6,72.9 132.7,76 133.7,77.5 134.8,82.7 135.8,84 136.9,88.3 138,89" fill="url(#fg6)" stroke="url(#sg6)" stroke-width="0.6"/><polygon points="109.1,89.2 110.2,87 111.2,82.4 112.3,81.7 113.3,79 114.4,73.5 115.5,72.8 116.5,70.8 117.6,70.1 118.6,70.8 119.7,63.9 120.8,58.8 121.8,64 122.9,54.6 123.9,62.7 125,62 126.1,59.3 127.1,62.9 128.2,63.1 129.2,69.4 130.3,72.4 131.4,76.3 132.4,77.4 133.5,79.7 134.6,82.7 135.6,84.3 136.7,87.8 137.7,89.4" fill="url(#fg7)" stroke="url(#sg7)" stroke-width="0.6"/><polygon points="108.8,89.7 109.9,87.5 110.9,84.2 112,81.2 113.1,77.4 114.1,75.3 115.2,74 116.2,72 117.3,70.1 118.4,65 119.4,67.9 120.5,62.6 121.6,62.9 122.6,60.4 123.7,61.1 124.7,54.3 125.8,64.3 126.9,63.1 127.9,65.1 129,66.5 130.1,69.4 131.1,72.1 132.2,73.9 133.2,80.4 134.3,81.1 135.4,84.9 136.4,87 137.5,89.9" fill="url(#fg8)" stroke="url(#sg8)" stroke-width="0.6"/><polygon points="108.5,90.3 109.6,87.5 110.7,85.6 111.7,81.5 112.8,80.5 113.8,77 114.9,78.3 116,73.5 117,73.5 118.1,71.9 119.2,72.5 120.2,60.6 121.3,64.7 122.4,62.1 123.4,58.1 124.5,62.4 125.6,61.6 126.6,69 127.7,66.2 128.8,69.9 129.8,69.9 130.9,73 131.9,78.2 133,81 134.1,82.2 135.1,83.3 136.2,86.5 137.3,89.6 138.3,90.3" fill="url(#fg9)" stroke="url(#sg9)" stroke-width="0.6"/><polygon points="108.2,90.8 109.3,88.4 110.4,86.9 111.4,82 112.5,83 113.6,79.5 114.6,75.8 115.7,74 116.8,71.6 117.8,69.1 118.9,65.9 120,66.7 121,60.6 122.1,67.8 123.2,62.8 124.2,64.6 125.3,66.2 126.4,65.2 127.4,63.7 128.5,71.4 129.6,73.3 130.6,72.4 131.7,75.2 132.8,76 133.8,79.9 134.9,83.5 136,86.6 137,89.2 138.1,90.8" fill="url(#fg10)" stroke="url(#sg10)" stroke-width="0.6"/><polygon points="107.9,91.2 109,89.1 110.1,86.6 111.2,85.1 112.2,82 113.3,79.1 114.4,79.9 115.4,76.2 116.5,74.9 117.6,76.4 118.6,71.1 119.7,71.2 120.8,63.8 121.8,68.9 122.9,60 124,66.5 125,60.3 126.1,65.6 127.2,67.5 128.2,68.5 129.3,70.4 130.4,71.6 131.5,73.6 132.5,79.4 133.6,82.7 134.7,85.3 135.7,86.5 136.8,88.6 137.9,91.2" fill="url(#fg11)" stroke="url(#sg11)" stroke-width="0.6"/><polygon points="107.7,91.7 108.7,89.8 109.8,87.1 110.9,85.9 111.9,83.3 113,81.3 114.1,79.9 115.2,80.4 116.2,77.1 117.3,73.1 118.4,72.3 119.4,71.7 120.5,68.1 121.6,66.1 122.6,64.5 123.7,68.8 124.8,67.1 125.9,69.3 126.9,72.1 128,75.1 129.1,73.4 130.1,76.9 131.2,74 132.3,79.4 133.4,81.7 134.4,84.1 135.5,84.9 136.6,88.9 137.6,91.1" fill="url(#fg12)" stroke="url(#sg12)" stroke-width="0.6"/><polygon points="107.4,92.1 108.4,90.5 109.5,87.9 110.6,84.9 111.7,84.6 112.7,83.7 113.8,78.9 114.9,78.4 115.9,79.1 117,77.4 118.1,74.5 119.2,69.9 120.2,71.6 121.3,67.9 122.4,64 123.5,64.2 124.5,64.3 125.6,66.2 126.7,75 127.7,69.5 128.8,73.3 129.9,76 131,79.6 132,82 133.1,83.1 134.2,83.9 135.3,87 136.3,88.8 137.4,90.9 138.5,92.1" fill="url(#fg13)" stroke="url(#sg13)" stroke-width="0.6"/><polygon points="107.1,92.6 108.1,90.7 109.2,88.4 110.3,86.7 111.4,86.2 112.4,81.9 113.5,82.4 114.6,78.9 115.7,80.8 116.7,75.1 117.8,76.7 118.9,71.2 120,68.1 121,68.3 122.1,73.4 123.2,72.1 124.3,72.1 125.3,69 126.4,71.1 127.5,73 128.6,74.2 129.6,75.4 130.7,77.2 131.8,77.6 132.9,82.1 133.9,83.9 135,87.6 136.1,89 137.2,90.7 138.2,92.6" fill="url(#fg14)" stroke="url(#sg14)" stroke-width="0.6"/><polygon points="106.8,93 107.9,91.7 108.9,89.5 110,88.9 111.1,86.1 112.2,85.9 113.2,83.1 114.3,80 115.4,79.9 116.5,78.9 117.5,75.6 118.6,75.9 119.7,75.1 120.8,74 121.9,68.3 122.9,69.6 124,70.1 125.1,75.2 126.2,71.8 127.2,77.5 128.3,75 129.4,79.6 130.5,76 131.5,83.3 132.6,81 133.7,83.6 134.8,87.8 135.9,88.5 136.9,90 138,92.5" fill="url(#fg15)" stroke="url(#sg15)" stroke-width="0.6"/><polygon points="106.5,93.5 107.6,92.2 108.6,90.3 109.7,88.9 110.8,88.4 111.9,86.6 113,82.2 114,83.3 115.1,81.4 116.2,81.9 117.3,79.1 118.4,77.6 119.4,76.2 120.5,74.9 121.6,75.3 122.7,74.5 123.7,72.9 124.8,72.8 125.9,74.9 127,72 128.1,76.6 129.1,78.1 130.2,81 131.3,80 132.4,84.4 133.5,86.5 134.5,87.4 135.6,88.1 136.7,90.8 137.8,92.2 138.8,93.5" fill="url(#fg16)" stroke="url(#sg16)" stroke-width="0.6"/><polygon points="106.2,94 107.3,92.9 108.4,90.7 109.4,88.5 110.5,88.6 111.6,86.1 112.7,83.8 113.8,81.1 114.8,84.6 115.9,80.6 117,78.5 118.1,81.2 119.2,76.5 120.2,75.9 121.3,73.9 122.4,76.1 123.5,73.4 124.6,76.4 125.6,74.5 126.7,76.6 127.8,78.8 128.9,81.9 130,78.1 131,80.6 132.1,82.6 133.2,86 134.3,87.3 135.4,87.6 136.5,90.1 137.5,92.5 138.6,94" fill="url(#fg17)" stroke="url(#sg17)" stroke-width="0.6"/><polygon points="105.9,94.4 107,93.2 108.1,91.8 109.1,89.9 110.2,89 111.3,86.4 112.4,86 113.5,85.2 114.6,83.3 115.6,82.2 116.7,80.2 117.8,78.9 118.9,80.9 120,79.1 121.1,76.2 122.1,75.2 123.2,75.6 124.3,72.2 125.4,74.7 126.5,78.1 127.6,77.7 128.6,77.9 129.7,80.9 130.8,85.3 131.9,84.1 133,85.7 134,85.7 135.1,90.1 136.2,89.8 137.3,92.3 138.4,94" fill="url(#fg18)" stroke="url(#sg18)" stroke-width="0.6"/><polygon points="105.6,94.9 106.7,93.9 107.8,92.5 108.9,91.8 109.9,88.5 111,88.1 112.1,88.5 113.2,84.4 114.3,84.4 115.4,82.9 116.4,80.9 117.5,82.4 118.6,83.4 119.7,79.3 120.8,77.8 121.9,75.5 123,78.7 124,77.9 125.1,77.2 126.2,79.5 127.3,80.3 128.4,80.6 129.5,83.7 130.5,81.3 131.6,85.9 132.7,86.1 133.8,87.9 134.9,89.6 136,90.4 137.1,92 138.1,93.8 139.2,94.9" fill="url(#fg19)" stroke="url(#sg19)" stroke-width="0.6"/><polygon points="105.3,95.4 106.4,94.4 107.5,93.2 108.6,92.4 109.6,89.8 110.7,89.9 111.8,88.2 112.9,85.9 114,86.5 115.1,85.2 116.2,82.9 117.3,82.9 118.3,81.2 119.4,82.5 120.5,80.3 121.6,81.5 122.7,82 123.8,75.6 124.9,78.8 125.9,78.8 127,82.9 128.1,82.3 129.2,83.6 130.3,86.3 131.4,85 132.5,87.7 133.6,88.4 134.6,90.7 135.7,90.5 136.8,92.2 137.9,93.9 139,95.4" fill="url(#fg20)" stroke="url(#sg20)" stroke-width="0.6"/><polygon points="105,95.8 106.1,95.1 107.2,93.6 108.3,92.5 109.4,91 110.4,90.4 111.5,89.2 112.6,86.9 113.7,88.8 114.8,85.3 115.9,82.6 117,86.5 118.1,80.7 119.2,85.1 120.2,80.9 121.3,78 122.4,77.7 123.5,82 124.6,83.2 125.7,84 126.8,81.3 127.9,83.9 129,84.3 130,85 131.1,86 132.2,87 133.3,88.7 134.4,91.2 135.5,90.6 136.6,93.4 137.7,93.8 138.8,95.5" fill="url(#fg21)" stroke="url(#sg21)" stroke-width="0.6"/><polygon points="105.8,95.7 106.9,94.4 108,93.4 109.1,91.9 110.2,91.2 111.2,89.6 112.3,90.2 113.4,88.2 114.5,85.6 115.6,87.5 116.7,86.3 117.8,82.7 118.9,83.3 120,81.5 121.1,85.6 122.2,81.9 123.2,84.2 124.3,84.7 125.4,82.3 126.5,81.9 127.6,86.6 128.7,86.8 129.8,87 130.9,87.4 132,89.6 133.1,88 134.2,90.2 135.2,92 136.3,93.2 137.4,93.8 138.5,95.4 139.6,96.3" fill="url(#fg22)" stroke="url(#sg22)" stroke-width="0.6"/><polygon points="105.5,96.3 106.6,95.1 107.7,93.6 108.8,93.2 109.9,91.9 111,91.7 112,89.9 113.1,88.9 114.2,89.1 115.3,88.1 116.4,86.9 117.5,85.4 118.6,87 119.7,83.5 120.8,84.8 121.9,81 123,81.2 124.1,84.5 125.2,85.4 126.3,82.5 127.4,84.9 128.4,85.8 129.5,87.9 130.6,88.4 131.7,88.5 132.8,89.7 133.9,91.8 135,91.6 136.1,93.3 137.2,94.8 138.3,95.6 139.4,96.8" fill="url(#fg23)" stroke="url(#sg23)" stroke-width="0.6"/><polygon points="105.2,96.8 106.3,95.9 107.4,95.2 108.5,93.7 109.6,93 110.7,91.6 111.8,92.6 112.9,89 113.9,90.8 115,88.9 116.1,87.1 117.2,89.2 118.3,87.6 119.4,88.7 120.5,87.8 121.6,88 122.7,85 123.8,85 124.9,86.3 126,84.7 127.1,85.3 128.2,87.7 129.3,88.7 130.4,89.5 131.5,90.5 132.6,90 133.7,91.7 134.8,93 135.9,93.9 136.9,94.7 138,96 139.1,97" fill="url(#fg24)" stroke="url(#sg24)" stroke-width="0.6"/><polygon points="104.9,97.3 106,96.6 107.1,95.8 108.2,94.9 109.3,93.8 110.4,92.2 111.5,92.7 112.6,92.9 113.7,91.4 114.8,91.6 115.9,90.1 117,88.9 118.1,89.4 119.1,88.7 120.2,89.7 121.3,86.8 122.4,87.7 123.5,85.4 124.6,85.9 125.7,88.7 126.8,88.6 127.9,88.8 129,88.7 130.1,91.7 131.2,91 132.3,90.5 133.4,92.6 134.5,93.3 135.6,94.3 136.7,95.6 137.8,96 138.9,97.2" fill="url(#fg25)" stroke="url(#sg25)" stroke-width="0.6"/><polygon points="104.6,98 105.7,97 106.8,96.4 107.9,95.8 109,94.2 110.1,93.3 111.2,93.6 112.3,93.3 113.4,91.2 114.5,92.1 115.6,89.4 116.7,90.4 117.8,88.8 118.9,90.6 120,88.9 121.1,87.2 122.2,87.7 123.3,88.8 124.4,86.6 125.5,88.1 126.6,89.6 127.7,90.5 128.8,90.8 129.9,90 131,92.4 132.1,92.5 133.2,93.8 134.3,93.4 135.4,94.9 136.5,95.4 137.6,96.4 138.7,97.5 139.8,98.2" fill="url(#fg26)" stroke="url(#sg26)" stroke-width="0.6"/><polygon points="104.3,98.5 105.4,97.9 106.5,96.8 107.6,96.5 108.7,95.6 109.8,95.5 110.9,94.5 112,94 113.1,93.8 114.2,92.1 115.3,93.5 116.4,91.1 117.5,89.7 118.6,91.6 119.7,90.4 120.8,91.7 121.9,89.9 123,91.6 124.1,89.4 125.2,90.9 126.3,92.5 127.4,92.4 128.5,93.1 129.6,92.5 130.7,92.3 131.8,93.7 132.9,94.8 134,95.2 135.1,95.5 136.2,96.8 137.3,96.8 138.4,97.7 139.5,98.6" fill="url(#fg27)" stroke="url(#sg27)" stroke-width="0.6"/><polygon points="104,99 105.1,98.5 106.2,98 107.3,96.9 108.4,96.7 109.5,96.4 110.6,95.5 111.7,95.5 112.8,94.1 113.9,93.5 115,92.8 116.1,93.9 117.2,92.8 118.3,90.9 119.4,92.2 120.5,90.6 121.6,90.1 122.7,92.7 123.8,90.4 124.9,91.2 126,91.4 127.1,91.2 128.3,92.7 129.4,93.4 130.5,93.6 131.6,94.7 132.7,94.8 133.8,96.4 134.9,95.6 136,97 137.1,97.3 138.2,98.1 139.3,98.8" fill="url(#fg28)" stroke="url(#sg28)" stroke-width="0.6"/><polygon points="104.8,99 105.9,98.3 107,98 108.1,97.5 109.2,97.1 110.3,96.3 111.4,96.2 112.5,95.4 113.6,95.2 114.7,94.3 115.8,95 116.9,94.1 118,93.6 119.1,93.3 120.3,92.5 121.4,92.8 122.5,92.3 123.6,91.7 124.7,92.7 125.8,94.4 126.9,94.9 128,93.9 129.1,94.9 130.2,94.9 131.3,95.6 132.4,95.4 133.5,96 134.6,97.3 135.7,97.4 136.8,98.1 137.9,98.7 139.1,99.1" fill="url(#fg29)" stroke="url(#sg29)" stroke-width="0.6"/><polygon points="104.3,100.2 105.4,99.6 106.5,99.2 107.6,98.9 108.7,98.2 109.8,97.8 110.9,97.3 112,96.6 113.2,96.6 114.3,96.3 115.4,94.9 116.5,94.8 117.6,95.2 118.7,95.5 119.8,95 120.9,94.2 122,93.7 123.1,93 124.2,94.7 125.4,94.6 126.5,95.2 127.6,95.3 128.7,95.9 129.8,96.6 130.9,96 132,96.8 133.1,96.8 134.2,97.9 135.3,98.2 136.4,98.6 137.6,99.5 138.7,99.9" fill="url(#fg30)" stroke="url(#sg30)" stroke-width="0.6"/><polygon points="104.9,100.9 106,100.3 107.1,99.9 108.2,99.4 109.3,98.8 110.5,98.4 111.6,98.1 112.7,97.7 113.8,98 114.9,97.1 116,97.7 117.1,97.5 118.3,96.4 119.4,96.1 120.5,94.8 121.6,95.2 122.7,94.9 123.8,95.9 124.9,95.6 126,95.4 127.2,96.1 128.3,96.5 129.4,97 130.5,97.8 131.6,98.1 132.7,98.7 133.8,98.5 134.9,99.1 136.1,99.7 137.2,100 138.3,100.6" fill="url(#fg31)" stroke="url(#sg31)" stroke-width="0.6"/><polygon points="105.5,101.6 106.6,101 107.8,100.6 108.9,100.4 110,100.2 111.1,98.8 112.2,98.7 113.3,98.8 114.4,97.6 115.6,97.5 116.7,97.5 117.8,97.3 118.9,96.8 120,96.2 121.1,96.9 122.3,97 123.4,96.6 124.5,98.1 125.6,97.2 126.7,97.7 127.8,97.7 129,98.1 130.1,98.2 131.2,98.6 132.3,99 133.4,99.5 134.5,99.8 135.7,100.4 136.8,100.7 137.9,101.4" fill="url(#fg32)" stroke="url(#sg32)" stroke-width="0.6"/><polygon points="106.1,102.2 107.3,101.8 108.4,101.6 109.5,100.7 110.6,100.6 111.7,99.9 112.9,99.5 114,99.7 115.1,99.3 116.2,99.1 117.3,98.3 118.5,98.5 119.6,98.3 120.7,97.9 121.8,98.2 122.9,97.2 124.1,98.7 125.2,97.7 126.3,97.9 127.4,99.3 128.5,98.6 129.7,99.2 130.8,99.3 131.9,100.4 133,100.3 134.1,101 135.3,101.2 136.4,101.4 137.5,102.1 138.6,102.6" fill="url(#fg33)" stroke="url(#sg33)" stroke-width="0.6"/><polygon points="106.8,103 107.9,102.5 109,102.3 110.1,102.1 111.3,101.1 112.4,101.2 113.5,100.9 114.6,100.9 115.8,100 116.9,99.3 118,99.6 119.1,99.3 120.3,100.2 121.4,99.4 122.5,99.3 123.6,98.7 124.8,99.6 125.9,100.2 127,99.9 128.1,100.3 129.2,99.8 130.4,100.4 131.5,100.8 132.6,101.2 133.7,101.4 134.9,102.1 136,102.5 137.1,103" fill="url(#fg34)" stroke="url(#sg34)" stroke-width="0.6"/><polygon points="106.3,104 107.4,103.7 108.5,103.1 109.7,103 110.8,102.2 111.9,101.9 113,102 114.2,101.5 115.3,101.5 116.4,101.6 117.6,100.7 118.7,100.8 119.8,100.5 120.9,100.3 122.1,100.1 123.2,100.3 124.3,100.8 125.4,100.9 126.6,100.9 127.7,101.3 128.8,101.5 130,101.1 131.1,101.8 132.2,101.7 133.3,102.7 134.5,102.9 135.6,103.3 136.7,103.7 137.8,104.1" fill="url(#fg35)" stroke="url(#sg35)" stroke-width="0.6"/><polygon points="106.9,104.7 108.1,104.5 109.2,103.9 110.3,104 111.4,103.7 112.6,103.2 113.7,103 114.8,102.8 116,103.1 117.1,102.8 118.2,102.1 119.4,101.9 120.5,102.4 121.6,101.9 122.7,101.9 123.9,101.6 125,102.4 126.1,101.7 127.3,102.5 128.4,102.1 129.5,102.4 130.7,103.2 131.8,103.3 132.9,103.4 134.1,103.6 135.2,104.3 136.3,104.5 137.4,104.8" fill="url(#fg36)" stroke="url(#sg36)" stroke-width="0.6"/><path d="M21 132.3H142" stroke="#a89888" stroke-width="0.7"/><path d="M21 132V71.7M19.2 132H21M19.2 122.9H21M19.2 113.8H21M19.2 104.7H21M19.2 95.6H21M19.2 86.6H21M19.2 77.5H21M21.5 132v1.1M45.5 132v1.1M69.5 132v1.1M93.5 132v1.1M117.5 132v1.1M33.5 132v1.8M57.5 132v1.8M81.5 132v1.8M105.5 132v1.8M129.5 132v1.8M146.7 121h2.2M152.9 106.3h2.2M158.5 93.1h2.2M163.6 81.2h2.2M168.2 70.4h2.2M172.3 60.6h2.2M176.2 51.6h2.2" stroke="#333" stroke-width="0.5" fill="none"/><g font-family="Liberation Serif, serif" font-weight="bold" font-size="4.2" fill="#000" stroke="#000" stroke-width="0.18"><text x="18.4" y="133.3" text-anchor="end">-0.2</text><text x="18.4" y="124.2" text-anchor="end">0.0</text><text x="18.4" y="115.1" text-anchor="end">0.2</text><text x="18.4" y="106" text-anchor="end">0.4</text><text x="18.4" y="96.9" text-anchor="end">0.6</text><text x="18.4" y="87.9" text-anchor="end">0.8</text><text x="18.4" y="78.8" text-anchor="end">1.0</text><text x="33.5" y="140" text-anchor="middle">2.24</text><text x="57.5" y="140" text-anchor="middle">2.26</text><text x="81.5" y="140" text-anchor="middle">2.28</text><text x="105.5" y="140" text-anchor="middle">2.30</text><text x="129.5" y="140" text-anchor="middle">2.32</text><text x="149.6" y="124">0</text><text x="155.8" y="109.3">5</text><text x="161.4" y="96.1">10</text><text x="166.5" y="84.2">15</text><text x="171.1" y="73.4">20</text><text x="175.2" y="63.6">25</text><text x="179.1" y="54.6">30</text></g><text font-family="Liberation Serif, serif" font-weight="bold" font-size="10.8" letter-spacing="-0.12" x="95.4" y="13.7">(a) @ 1.24 mJ/cm²</text><text font-family="Liberation Serif, serif" font-weight="bold" font-size="7.55" stroke="#000" stroke-width="0.12" text-anchor="middle" transform="translate(8.4,101.6) rotate(-90)">Normalized Intensity (a.u.)</text><text font-family="Liberation Serif, serif" font-weight="bold" font-size="7.6" stroke="#000" stroke-width="0.12" text-anchor="middle" x="82.3" y="147.7">Photon Energy (eV)</text><text font-family="Liberation Serif, serif" font-weight="bold" font-size="6.2" fill="#111" text-anchor="middle" transform="translate(176.3,81) rotate(-67) scale(0.67,1)">Time Delay (ps)</text></g><g transform="translate(181.5,0)"><path d="M104.7 44V4.6M121.2 44V4.6M137.7 44V4.6M154.3 44V4.6M170.8 44V4.6M96.1 42.6H179.4M21 129.8L96.1 42.6M96.1 35.5H179.4M21 119L96.1 35.5M96.1 28.4H179.4M21 108.1L96.1 28.4M96.1 21.3H179.4M21 97.2L96.1 21.3M96.1 14.2H179.4M21 86.4L96.1 14.2M96.1 7.1H179.4M21 75.5L96.1 7.1M30.4 121V63.3M42.9 106.3V52.1M54.2 93.1V42.1M64.3 81.2V33M73.5 70.4V24.8M81.9 60.6V17.3M89.6 51.6V10.4" stroke="#d0d0d0" stroke-width="0.55" fill="none"/><path d="M21 71.7L96.1 4.6H179.4V44M96.1 4.6V44" stroke="#8c8c8c" stroke-width="0.6" fill="none"/><polygon points="21,132 142,132 179.4,44 96.1,44" fill="url(#pb)"/><polygon points="21,132 142,132 179.4,44 96.1,44" fill="url(#flo)"/><polygon points="21,132 142,132 179.4,44 96.1,44" fill="url(#ps)" mask="url(#fmk)"/><path d="M22.8 132L97.3 44M25.6 132L99.2 44M28.3 132L101.1 44M31.1 132L103 44M33.8 132L104.9 44M36.6 132L106.8 44M39.4 132L108.7 44M42.1 132L110.6 44M44.9 132L112.5 44M47.6 132L114.4 44M50.4 132L116.3 44M53.2 132L118.2 44M55.9 132L120.1 44M58.7 132L122 44M61.5 132L123.9 44M64.2 132L125.8 44M67 132L127.8 44M69.7 132L129.7 44M72.5 132L131.6 44M75.3 132L133.5 44M78 132L135.4 44M80.8 132L137.3 44M83.5 132L139.2 44M86.3 132L141.1 44M89.1 132L143 44M91.8 132L144.9 44M94.6 132L146.8 44M97.3 132L148.7 44M100.1 132L150.6 44M102.9 132L152.5 44M105.6 132L154.4 44M108.4 132L156.3 44M111.1 132L158.2 44M113.9 132L160.1 44M116.7 132L162 44M119.4 132L163.9 44M122.2 132L165.8 44M125 132L167.7 44M127.7 132L169.6 44M130.5 132L171.5 44M133.2 132L173.4 44M136 132L175.3 44M138.8 132L177.2 44" stroke="url(#flg)" stroke-width="0.5" fill="none"/><ellipse cx="114" cy="107" rx="34" ry="10" fill="url(#pw)" mask="url(#soft)" opacity="0.85"/><polygon points="92.6,99.2 93.7,98.9 94.7,98.5 95.8,97.9 96.9,97 98,95.8 99,94.2 100.1,92.2 101.2,89.7 102.2,86.8 103.3,83.4 104.4,79.7 105.5,75.8 106.5,71.8 107.6,67.9 108.7,64.3 109.7,61.1 110.8,58.4 111.9,56.3 113,54.8 114,53.9 115.1,53.5 116.2,53.4 117.2,53.5 118.3,54 119.4,55 120.5,56.6 121.5,58.7 122.6,61.5 123.7,64.8 124.7,68.4 125.8,72.3 126.9,76.3 127.9,80.2 129,83.8 130.1,87.2 131.2,90.1 132.2,92.5 133.3,94.5 134.4,96 135.4,97.2 136.5,98 137.6,98.6 138.7,98.9" fill="url(#fg37)" stroke="url(#sg37)" stroke-width="1.1"/><polygon points="93.6,99.1 94.7,98.7 95.7,98.1 96.8,97.3 97.9,96.2 99,94.7 100,92.7 101.1,90.3 102.2,87.5 103.2,84.2 104.3,80.6 105.4,76.7 106.5,72.8 107.5,69 108.6,65.4 109.7,62.2 110.7,59.4 111.8,57.3 112.9,55.8 114,54.8 115,54.4 116.1,54.3 117.2,54.4 118.2,54.8 119.3,55.7 120.4,57.2 121.5,59.3 122.5,62 123.6,65.2 124.7,68.8 125.7,72.6 126.8,76.5 127.9,80.4 129,84 130,87.3 131.1,90.2 132.2,92.6 133.2,94.6 134.3,96.1 135.4,97.3 136.5,98.1 137.5,98.7 138.6,99.1" fill="url(#fg38)" stroke="url(#sg38)" stroke-width="1.1"/><polygon points="93.5,99.3 94.6,99 95.6,98.5 96.7,97.7 97.8,96.7 98.9,95.2 99.9,93.4 101,91.1 102.1,88.4 103.1,85.3 104.2,81.8 105.3,78 106.4,74.2 107.4,70.4 108.5,66.8 109.6,63.6 110.7,60.9 111.7,58.8 112.8,57.2 113.9,56.2 114.9,55.7 116,55.6 117.1,55.6 118.2,56 119.2,56.9 120.3,58.2 121.4,60.2 122.4,62.8 123.5,65.8 124.6,69.3 125.7,73 126.7,76.9 127.8,80.7 128.9,84.2 130,87.5 131,90.4 132.1,92.8 133.2,94.7 134.2,96.3 135.3,97.4 136.4,98.2 137.5,98.8 138.5,99.2" fill="url(#fg39)" stroke="url(#sg39)" stroke-width="1.1"/><polygon points="93.4,99.6 94.5,99.3 95.5,98.8 96.6,98.1 97.7,97.2 98.7,95.9 99.8,94.2 100.9,92.1 102,89.5 103,86.5 104.1,83.2 105.2,79.5 106.3,75.8 107.3,72.1 108.4,68.6 109.5,65.4 110.5,62.6 111.6,60.5 112.7,58.8 113.8,57.8 114.8,57.2 115.9,57.1 117,57.1 118.1,57.4 119.1,58.2 120.2,59.5 121.3,61.3 122.3,63.7 123.4,66.6 124.5,70 125.6,73.6 126.6,77.3 127.7,81 128.8,84.5 129.9,87.7 130.9,90.6 132,93 133.1,94.9 134.1,96.4 135.2,97.6 136.3,98.4 137.4,99 138.4,99.4" fill="url(#fg40)" stroke="url(#sg40)" stroke-width="1.1"/><polygon points="94.3,99.6 95.4,99.2 96.5,98.6 97.5,97.8 98.6,96.6 99.7,95 100.8,93.1 101.8,90.7 102.9,87.8 104,84.6 105.1,81.2 106.1,77.5 107.2,73.9 108.3,70.4 109.4,67.3 110.4,64.5 111.5,62.3 112.6,60.7 113.6,59.6 114.7,59 115.8,58.8 116.9,58.8 117.9,59 119,59.7 120.1,60.8 121.2,62.5 122.2,64.8 123.3,67.5 124.4,70.7 125.5,74.2 126.5,77.8 127.6,81.4 128.7,84.9 129.8,88 130.8,90.8 131.9,93.2 133,95.1 134,96.6 135.1,97.8 136.2,98.6 137.3,99.2 138.3,99.6" fill="url(#fg41)" stroke="url(#sg41)" stroke-width="1.1"/><polygon points="94.2,99.9 95.2,99.6 96.3,99.1 97.4,98.3 98.5,97.3 99.5,95.9 100.6,94.1 101.7,91.8 102.8,89.2 103.8,86.2 104.9,82.9 106,79.4 107.1,75.8 108.1,72.4 109.2,69.3 110.3,66.6 111.4,64.3 112.4,62.6 113.5,61.5 114.6,60.8 115.7,60.6 116.7,60.5 117.8,60.7 118.9,61.3 120,62.3 121,63.9 122.1,66 123.2,68.6 124.3,71.6 125.3,74.9 126.4,78.4 127.5,81.9 128.6,85.2 129.6,88.3 130.7,91.1 131.8,93.4 132.9,95.4 133.9,96.9 135,98 136.1,98.8 137.2,99.4 138.2,99.8" fill="url(#fg42)" stroke="url(#sg42)" stroke-width="1.1"/><polygon points="94,100.2 95.1,100 96.2,99.5 97.2,98.9 98.3,97.9 99.4,96.7 100.5,95.1 101.5,93 102.6,90.6 103.7,87.7 104.8,84.6 105.9,81.2 106.9,77.8 108,74.5 109.1,71.4 110.2,68.7 111.2,66.5 112.3,64.7 113.4,63.5 114.5,62.8 115.5,62.5 116.6,62.5 117.7,62.6 118.8,63 119.8,63.9 120.9,65.3 122,67.3 123.1,69.7 124.1,72.5 125.2,75.7 126.3,79 127.4,82.4 128.4,85.7 129.5,88.7 130.6,91.4 131.7,93.7 132.7,95.6 133.8,97.1 134.9,98.3 136,99.1 137,99.7 138.1,100" fill="url(#fg43)" stroke="url(#sg43)" stroke-width="1.1"/><polygon points="94.9,100.3 96,100 97.1,99.4 98.2,98.6 99.2,97.5 100.3,96 101.4,94.2 102.5,91.9 103.5,89.3 104.6,86.3 105.7,83.2 106.8,79.9 107.9,76.7 108.9,73.7 110,71 111.1,68.7 112.2,66.9 113.2,65.7 114.3,64.9 115.4,64.5 116.5,64.5 117.5,64.5 118.6,64.9 119.7,65.7 120.8,66.9 121.8,68.7 122.9,70.9 124,73.6 125.1,76.6 126.2,79.8 127.2,83 128.3,86.2 129.4,89.1 130.5,91.8 131.5,94 132.6,95.9 133.7,97.4 134.8,98.5 135.8,99.3 136.9,99.9 138,100.3" fill="url(#fg44)" stroke="url(#sg44)" stroke-width="1.1"/><polygon points="94.8,100.7 95.8,100.4 96.9,99.9 98,99.3 99.1,98.3 100.2,97 101.2,95.3 102.3,93.3 103.4,90.8 104.5,88.1 105.5,85.1 106.6,82 107.7,78.9 108.8,75.9 109.9,73.3 110.9,71 112,69.2 113.1,67.9 114.2,67.1 115.2,66.7 116.3,66.6 117.4,66.6 118.5,66.9 119.6,67.5 120.6,68.6 121.7,70.2 122.8,72.3 123.9,74.7 124.9,77.5 126,80.6 127.1,83.7 128.2,86.7 129.3,89.6 130.3,92.1 131.4,94.4 132.5,96.2 133.6,97.7 134.6,98.8 135.7,99.6 136.8,100.2 137.9,100.6" fill="url(#fg45)" stroke="url(#sg45)" stroke-width="1.1"/><polygon points="95.7,100.8 96.7,100.4 97.8,99.9 98.9,99 100,97.9 101.1,96.4 102.1,94.6 103.2,92.4 104.3,89.8 105.4,87 106.5,84.1 107.5,81.1 108.6,78.2 109.7,75.6 110.8,73.4 111.9,71.6 112.9,70.2 114,69.4 115.1,68.9 116.2,68.7 117.2,68.8 118.3,69 119.4,69.5 120.5,70.4 121.6,71.8 122.6,73.7 123.7,76 124.8,78.6 125.9,81.5 127,84.4 128,87.3 129.1,90.1 130.2,92.6 131.3,94.7 132.3,96.5 133.4,98 134.5,99.1 135.6,99.9 136.7,100.4 137.7,100.8" fill="url(#fg46)" stroke="url(#sg46)" stroke-width="1.1"/><polygon points="95.5,101.2 96.6,100.9 97.6,100.4 98.7,99.7 99.8,98.8 100.9,97.5 102,95.8 103,93.8 104.1,91.5 105.2,88.9 106.3,86.1 107.4,83.3 108.4,80.6 109.5,78 110.6,75.8 111.7,74 112.8,72.6 113.8,71.7 114.9,71.2 116,71 117.1,71 118.2,71.1 119.2,71.6 120.3,72.4 121.4,73.6 122.5,75.3 123.6,77.4 124.6,79.8 125.7,82.4 126.8,85.2 127.9,88 129,90.6 130,93 131.1,95.1 132.2,96.9 133.3,98.3 134.4,99.4 135.4,100.2 136.5,100.7 137.6,101.1" fill="url(#fg47)" stroke="url(#sg47)" stroke-width="1.1"/><polygon points="96.4,101.4 97.5,101 98.5,100.4 99.6,99.6 100.7,98.5 101.8,97 102.9,95.2 103.9,93.1 105,90.7 106.1,88.2 107.2,85.5 108.3,82.9 109.4,80.4 110.4,78.3 111.5,76.5 112.6,75.1 113.7,74.1 114.8,73.6 115.8,73.3 116.9,73.3 118,73.4 119.1,73.7 120.2,74.4 121.3,75.5 122.3,77 123.4,78.8 124.5,81.1 125.6,83.5 126.7,86.1 127.7,88.7 128.8,91.2 129.9,93.5 131,95.6 132.1,97.3 133.1,98.6 134.2,99.7 135.3,100.5 136.4,101 137.5,101.4" fill="url(#fg48)" stroke="url(#sg48)" stroke-width="1.1"/><polygon points="96.2,101.8 97.3,101.5 98.4,101 99.4,100.3 100.5,99.4 101.6,98.2 102.7,96.6 103.8,94.7 104.8,92.5 105.9,90.2 107,87.7 108.1,85.2 109.2,82.9 110.3,80.8 111.3,79 112.4,77.6 113.5,76.6 114.6,76 115.7,75.7 116.8,75.7 117.8,75.7 118.9,76 120,76.5 121.1,77.4 122.2,78.7 123.3,80.4 124.3,82.4 125.4,84.7 126.5,87.1 127.6,89.6 128.7,91.9 129.7,94.1 130.8,96.1 131.9,97.7 133,99 134.1,100 135.2,100.8 136.2,101.3 137.3,101.7" fill="url(#fg49)" stroke="url(#sg49)" stroke-width="1.1"/><polygon points="97.1,102 98.2,101.6 99.2,101 100.3,100.3 101.4,99.2 102.5,97.8 103.6,96.2 104.7,94.3 105.7,92.1 106.8,89.8 107.9,87.5 109,85.3 110.1,83.3 111.2,81.6 112.2,80.2 113.3,79.2 114.4,78.5 115.5,78.2 116.6,78.1 117.7,78.2 118.8,78.3 119.8,78.8 120.9,79.5 122,80.6 123.1,82.1 124.2,83.9 125.3,86 126.3,88.2 127.4,90.5 128.5,92.7 129.6,94.7 130.7,96.6 131.8,98.1 132.8,99.4 133.9,100.4 135,101.1 136.1,101.7 137.2,102" fill="url(#fg50)" stroke="url(#sg50)" stroke-width="1.1"/><polygon points="96.9,102.4 98,102.1 99,101.7 100.1,101.1 101.2,100.2 102.3,99 103.4,97.6 104.5,95.9 105.6,94 106.6,91.9 107.7,89.8 108.8,87.7 109.9,85.8 111,84.1 112.1,82.8 113.2,81.8 114.2,81.1 115.3,80.8 116.4,80.6 117.5,80.6 118.6,80.8 119.7,81.1 120.7,81.7 121.8,82.7 122.9,83.9 124,85.5 125.1,87.4 126.2,89.4 127.3,91.5 128.3,93.5 129.4,95.4 130.5,97.2 131.6,98.6 132.7,99.9 133.8,100.8 134.9,101.5 135.9,102 137,102.3" fill="url(#fg51)" stroke="url(#sg51)" stroke-width="1.1"/><polygon points="97.7,102.7 98.8,102.4 99.9,101.9 101,101.2 102.1,100.2 103.2,99 104.3,97.6 105.3,95.9 106.4,94.1 107.5,92.1 108.6,90.2 109.7,88.4 110.8,86.9 111.9,85.5 112.9,84.5 114,83.8 115.1,83.4 116.2,83.3 117.3,83.3 118.4,83.3 119.5,83.6 120.6,84 121.6,84.8 122.7,85.9 123.8,87.3 124.9,88.9 126,90.7 127.1,92.5 128.2,94.4 129.2,96.2 130.3,97.8 131.4,99.2 132.5,100.3 133.6,101.2 134.7,101.9 135.8,102.4 136.9,102.7" fill="url(#fg52)" stroke="url(#sg52)" stroke-width="1.1"/><polygon points="98.6,103 99.6,102.7 100.7,102.1 101.8,101.4 102.9,100.5 104,99.3 105.1,97.9 106.2,96.3 107.3,94.6 108.4,92.9 109.4,91.2 110.5,89.7 111.6,88.5 112.7,87.4 113.8,86.7 114.9,86.3 116,86.1 117.1,86 118.2,86 119.2,86.2 120.3,86.5 121.4,87.1 122.5,88 123.6,89.2 124.7,90.5 125.8,92.1 126.9,93.7 127.9,95.4 129,97 130.1,98.5 131.2,99.8 132.3,100.8 133.4,101.7 134.5,102.3 135.6,102.8 136.7,103.1" fill="url(#fg53)" stroke="url(#sg53)" stroke-width="1.1"/><polygon points="99.4,103.4 100.5,103 101.6,102.5 102.7,101.7 103.7,100.8 104.8,99.7 105.9,98.3 107,96.9 108.1,95.4 109.2,93.9 110.3,92.6 111.4,91.4 112.5,90.4 113.6,89.6 114.6,89.2 115.7,88.9 116.8,88.8 117.9,88.8 119,88.9 120.1,89.1 121.2,89.6 122.3,90.3 123.4,91.2 124.5,92.3 125.5,93.7 126.6,95.1 127.7,96.5 128.8,98 129.9,99.3 131,100.4 132.1,101.4 133.2,102.2 134.3,102.8 135.4,103.2 136.4,103.5" fill="url(#fg54)" stroke="url(#sg54)" stroke-width="1.1"/><polygon points="99.1,104 100.2,103.8 101.3,103.4 102.4,102.9 103.5,102.1 104.6,101.3 105.7,100.2 106.8,99 107.9,97.8 108.9,96.5 110,95.3 111.1,94.2 112.2,93.3 113.3,92.6 114.4,92.1 115.5,91.8 116.6,91.7 117.7,91.7 118.8,91.7 119.9,91.9 121,92.2 122,92.7 123.1,93.4 124.2,94.3 125.3,95.4 126.4,96.6 127.5,97.8 128.6,99 129.7,100.2 130.8,101.2 131.9,102.1 133,102.8 134.1,103.3 135.1,103.7 136.2,104" fill="url(#fg55)" stroke="url(#sg55)" stroke-width="1.1"/><polygon points="99.9,104.5 101,104.2 102.1,103.8 103.2,103.3 104.3,102.7 105.4,101.9 106.5,101 107.6,100 108.7,98.9 109.8,97.9 110.9,97 112,96.2 113.1,95.5 114.2,95 115.2,94.7 116.3,94.6 117.4,94.6 118.5,94.6 119.6,94.7 120.7,94.9 121.8,95.2 122.9,95.8 124,96.5 125.1,97.3 126.2,98.2 127.3,99.2 128.4,100.2 129.5,101.2 130.6,102.1 131.7,102.8 132.7,103.4 133.8,103.9 134.9,104.2" fill="url(#fg56)" stroke="url(#sg56)" stroke-width="1.1"/><polygon points="101.8,104.7 102.9,104.4 104,103.9 105.1,103.4 106.2,102.7 107.3,102 108.4,101.2 109.5,100.4 110.6,99.6 111.7,99 112.8,98.4 113.9,98 115,97.7 116.1,97.6 117.2,97.5 118.3,97.5 119.4,97.5 120.5,97.7 121.6,97.9 122.7,98.3 123.8,98.8 124.9,99.4 126,100.1 127,100.8 128.1,101.6 129.2,102.3 130.3,103 131.4,103.6 132.5,104.1 133.6,104.5 134.7,104.8" fill="url(#fg57)" stroke="url(#sg57)" stroke-width="1.1"/><polygon points="102.7,105.2 103.8,105 104.9,104.6 106,104.2 107.1,103.8 108.2,103.2 109.2,102.7 110.3,102.2 111.4,101.7 112.5,101.3 113.6,100.9 114.7,100.7 115.8,100.6 116.9,100.5 118,100.5 119.1,100.5 120.2,100.6 121.3,100.7 122.4,100.9 123.5,101.2 124.6,101.6 125.7,102.1 126.8,102.6 127.9,103.1 129,103.6 130.1,104.1 131.2,104.5 132.3,104.9 133.4,105.1" fill="url(#fg58)" stroke="url(#sg58)" stroke-width="1.1"/><path d="M21 132.3H142" stroke="#a89888" stroke-width="0.7"/><path d="M21 132V71.7M19.2 129.8H21M19.2 119H21M19.2 108.1H21M19.2 97.2H21M19.2 86.4H21M19.2 75.5H21M21.5 132v1.1M45.5 132v1.1M69.5 132v1.1M93.5 132v1.1M117.5 132v1.1M33.5 132v1.8M57.5 132v1.8M81.5 132v1.8M105.5 132v1.8M129.5 132v1.8M146.7 121h2.2M152.9 106.3h2.2M158.5 93.1h2.2M163.6 81.2h2.2M168.2 70.4h2.2M172.3 60.6h2.2M176.2 51.6h2.2" stroke="#333" stroke-width="0.5" fill="none"/><g font-family="Liberation Serif, serif" font-weight="bold" font-size="4.2" fill="#000" stroke="#000" stroke-width="0.18"><text x="18.4" y="131.1" text-anchor="end">0.0</text><text x="18.4" y="120.3" text-anchor="end">0.2</text><text x="18.4" y="109.4" text-anchor="end">0.4</text><text x="18.4" y="98.5" text-anchor="end">0.6</text><text x="18.4" y="87.7" text-anchor="end">0.8</text><text x="18.4" y="76.8" text-anchor="end">1.0</text><text x="33.5" y="140" text-anchor="middle">2.24</text><text x="57.5" y="140" text-anchor="middle">2.26</text><text x="81.5" y="140" text-anchor="middle">2.28</text><text x="105.5" y="140" text-anchor="middle">2.30</text><text x="129.5" y="140" text-anchor="middle">2.32</text><text x="149.6" y="124">0</text><text x="155.8" y="109.3">5</text><text x="161.4" y="96.1">10</text><text x="166.5" y="84.2">15</text><text x="171.1" y="73.4">20</text><text x="175.2" y="63.6">25</text><text x="179.1" y="54.6">30</text></g><text font-family="Liberation Serif, serif" font-weight="bold" font-size="10.8" letter-spacing="-0.12" x="95.4" y="13.7">(b)&#160; @ 1.46mJ/cm²</text><text font-family="Liberation Serif, serif" font-weight="bold" font-size="7.55" stroke="#000" stroke-width="0.12" text-anchor="middle" transform="translate(8.4,101.6) rotate(-90)">Normalized Intensity (a.u.)</text><text font-family="Liberation Serif, serif" font-weight="bold" font-size="7.6" stroke="#000" stroke-width="0.12" text-anchor="middle" x="82.3" y="147.7">Photon Energy (eV)</text><text font-family="Liberation Serif, serif" font-weight="bold" font-size="6.2" fill="#111" text-anchor="middle" transform="translate(176.3,81) rotate(-67) scale(0.67,1)">Time Delay (ps)</text></g><g transform="translate(362.5,0)"><path d="M104.7 44V4.6M121.2 44V4.6M137.7 44V4.6M154.3 44V4.6M170.8 44V4.6M96.1 42.6H179.4M21 129.8L96.1 42.6M96.1 35.5H179.4M21 119L96.1 35.5M96.1 28.4H179.4M21 108.1L96.1 28.4M96.1 21.3H179.4M21 97.2L96.1 21.3M96.1 14.2H179.4M21 86.4L96.1 14.2M96.1 7.1H179.4M21 75.5L96.1 7.1M30.4 121V63.3M42.9 106.3V52.1M54.2 93.1V42.1M64.3 81.2V33M73.5 70.4V24.8M81.9 60.6V17.3M89.6 51.6V10.4" stroke="#d0d0d0" stroke-width="0.55" fill="none"/><path d="M21 71.7L96.1 4.6H179.4V44M96.1 4.6V44" stroke="#8c8c8c" stroke-width="0.6" fill="none"/><polygon points="21,132 142,132 179.4,44 96.1,44" fill="url(#pb)"/><polygon points="21,132 142,132 179.4,44 96.1,44" fill="url(#flo)"/><polygon points="21,132 142,132 179.4,44 96.1,44" fill="url(#ps)" mask="url(#fmk)"/><path d="M22.8 132L97.3 44M25.6 132L99.2 44M28.3 132L101.1 44M31.1 132L103 44M33.8 132L104.9 44M36.6 132L106.8 44M39.4 132L108.7 44M42.1 132L110.6 44M44.9 132L112.5 44M47.6 132L114.4 44M50.4 132L116.3 44M53.2 132L118.2 44M55.9 132L120.1 44M58.7 132L122 44M61.5 132L123.9 44M64.2 132L125.8 44M67 132L127.8 44M69.7 132L129.7 44M72.5 132L131.6 44M75.3 132L133.5 44M78 132L135.4 44M80.8 132L137.3 44M83.5 132L139.2 44M86.3 132L141.1 44M89.1 132L143 44M91.8 132L144.9 44M94.6 132L146.8 44M97.3 132L148.7 44M100.1 132L150.6 44M102.9 132L152.5 44M105.6 132L154.4 44M108.4 132L156.3 44M111.1 132L158.2 44M113.9 132L160.1 44M116.7 132L162 44M119.4 132L163.9 44M122.2 132L165.8 44M125 132L167.7 44M127.7 132L169.6 44M130.5 132L171.5 44M133.2 132L173.4 44M136 132L175.3 44M138.8 132L177.2 44" stroke="url(#flg)" stroke-width="0.5" fill="none"/><ellipse cx="111" cy="108" rx="34" ry="10" fill="url(#pw)" mask="url(#soft)" opacity="0.85"/><path d="M137.5 83V91" stroke="#40c0ff" stroke-width="0.7"/><polygon points="124,76 128,75 130,81 126,86" fill="#3aa0f0"/><polygon points="124,76 128,75 130,81 126,86" fill="url(#finshade)"/><polygon points="89.4,98.9 90.5,98.6 91.5,98 92.6,97.3 93.7,96.3 94.7,94.9 95.8,93.2 96.9,91.1 98,88.6 99,85.7 100.1,82.5 101.2,79.1 102.2,75.5 103.3,71.9 104.4,68.5 105.5,65.3 106.5,62.5 107.6,60.2 108.7,58.3 109.7,57 110.8,56.2 111.9,55.8 113,55.7 114,55.8 115.1,56.1 116.2,56.9 117.2,58.2 118.3,60 119.4,62.3 120.5,65 121.5,68.2 122.6,71.6 123.7,75.2 124.7,78.7 125.8,82.2 126.9,85.4 127.9,88.4 129,90.9 130.1,93 131.2,94.8 132.2,96.2 133.3,97.2 134.4,98 135.4,98.5 136.5,98.9 137.6,99.2" fill="url(#fg59)" stroke="url(#sg59)" stroke-width="1.1"/><polygon points="89.3,99.1 90.4,98.8 91.5,98.3 92.5,97.6 93.6,96.6 94.7,95.3 95.7,93.7 96.8,91.7 97.9,89.2 99,86.4 100,83.3 101.1,79.9 102.2,76.4 103.2,72.9 104.3,69.5 105.4,66.3 106.5,63.5 107.5,61.1 108.6,59.3 109.7,57.9 110.7,57.1 111.8,56.7 112.9,56.5 114,56.6 115,56.9 116.1,57.6 117.2,58.8 118.2,60.5 119.3,62.8 120.4,65.4 121.5,68.5 122.5,71.9 123.6,75.4 124.7,78.9 125.7,82.3 126.8,85.5 127.9,88.4 129,91 130,93.1 131.1,94.9 132.2,96.3 133.2,97.3 134.3,98.1 135.4,98.6 136.5,99 137.5,99.3" fill="url(#fg60)" stroke="url(#sg60)" stroke-width="1.1"/><polygon points="89.2,99.3 90.3,99 91.4,98.6 92.4,98 93.5,97.1 94.6,95.9 95.6,94.4 96.7,92.5 97.8,90.2 98.9,87.5 99.9,84.5 101,81.2 102.1,77.8 103.1,74.3 104.2,70.9 105.3,67.8 106.4,65 107.4,62.6 108.5,60.7 109.6,59.3 110.7,58.4 111.7,57.9 112.8,57.8 113.9,57.8 114.9,58.1 116,58.7 117.1,59.8 118.2,61.4 119.2,63.5 120.3,66.1 121.4,69 122.4,72.2 123.5,75.7 124.6,79.1 125.7,82.5 126.7,85.7 127.8,88.5 128.9,91.1 130,93.2 131,95 132.1,96.4 133.2,97.4 134.2,98.2 135.3,98.8 136.4,99.2 137.5,99.4" fill="url(#fg61)" stroke="url(#sg61)" stroke-width="1.1"/><polygon points="89.1,99.6 90.2,99.3 91.2,98.9 92.3,98.4 93.4,97.6 94.5,96.5 95.5,95.1 96.6,93.3 97.7,91.2 98.7,88.7 99.8,85.8 100.9,82.7 102,79.3 103,75.9 104.1,72.6 105.2,69.5 106.3,66.7 107.3,64.3 108.4,62.3 109.5,60.9 110.5,59.9 111.6,59.4 112.7,59.2 113.8,59.2 114.8,59.4 115.9,60 117,61 118.1,62.4 119.1,64.4 120.2,66.8 121.3,69.6 122.3,72.7 123.4,76 124.5,79.4 125.6,82.7 126.6,85.8 127.7,88.7 128.8,91.2 129.9,93.4 130.9,95.1 132,96.5 133.1,97.6 134.1,98.4 135.2,98.9 136.3,99.3 137.4,99.6" fill="url(#fg62)" stroke="url(#sg62)" stroke-width="1.1"/><polygon points="90,99.6 91.1,99.3 92.2,98.8 93.2,98.1 94.3,97.2 95.4,95.9 96.5,94.3 97.5,92.3 98.6,89.9 99.7,87.2 100.8,84.2 101.8,81 102.9,77.7 104,74.5 105.1,71.4 106.1,68.6 107.2,66.2 108.3,64.2 109.4,62.7 110.4,61.6 111.5,61.1 112.6,60.8 113.6,60.8 114.7,61 115.8,61.4 116.9,62.3 117.9,63.6 119,65.4 120.1,67.7 121.2,70.3 122.2,73.3 123.3,76.5 124.4,79.8 125.5,83 126.5,86.1 127.6,88.9 128.7,91.4 129.8,93.5 130.8,95.3 131.9,96.7 133,97.7 134,98.5 135.1,99.1 136.2,99.5 137.3,99.8" fill="url(#fg63)" stroke="url(#sg63)" stroke-width="1.1"/><polygon points="89.9,100 90.9,99.7 92,99.3 93.1,98.7 94.2,97.8 95.2,96.7 96.3,95.2 97.4,93.4 98.5,91.2 99.5,88.6 100.6,85.8 101.7,82.8 102.8,79.6 103.8,76.4 104.9,73.4 106,70.6 107.1,68.2 108.1,66.1 109.2,64.6 110.3,63.5 111.4,62.9 112.4,62.6 113.5,62.5 114.6,62.6 115.7,63 116.7,63.7 117.8,64.9 118.9,66.6 120,68.7 121,71.2 122.1,74 123.2,77 124.3,80.2 125.3,83.3 126.4,86.3 127.5,89.1 128.6,91.6 129.6,93.7 130.7,95.4 131.8,96.8 132.9,97.9 133.9,98.7 135,99.3 136.1,99.7 137.2,100" fill="url(#fg64)" stroke="url(#sg64)" stroke-width="1.1"/><polygon points="90.8,100.1 91.9,99.7 92.9,99.2 94,98.4 95.1,97.4 96.2,96.1 97.2,94.5 98.3,92.5 99.4,90.1 100.5,87.4 101.5,84.5 102.6,81.5 103.7,78.4 104.8,75.5 105.9,72.7 106.9,70.3 108,68.2 109.1,66.6 110.2,65.5 111.2,64.8 112.3,64.4 113.4,64.3 114.5,64.4 115.5,64.7 116.6,65.3 117.7,66.3 118.8,67.8 119.8,69.8 120.9,72.1 122,74.7 123.1,77.6 124.1,80.7 125.2,83.7 126.3,86.6 127.4,89.3 128.4,91.8 129.5,93.9 130.6,95.6 131.7,97 132.7,98.1 133.8,98.9 134.9,99.5 136,99.9 137,100.2" fill="url(#fg65)" stroke="url(#sg65)" stroke-width="1.1"/><polygon points="90.6,100.4 91.7,100.1 92.8,99.7 93.9,99.1 94.9,98.2 96,97 97.1,95.6 98.2,93.7 99.2,91.6 100.3,89.1 101.4,86.3 102.5,83.5 103.5,80.5 104.6,77.6 105.7,74.9 106.8,72.5 107.9,70.4 108.9,68.8 110,67.6 111.1,66.8 112.2,66.4 113.2,66.3 114.3,66.3 115.4,66.5 116.5,67 117.5,67.9 118.6,69.2 119.7,71 120.8,73.1 121.8,75.6 122.9,78.3 124,81.2 125.1,84.1 126.2,87 127.2,89.6 128.3,92 129.4,94.1 130.5,95.8 131.5,97.2 132.6,98.3 133.7,99.2 134.8,99.8 135.8,100.2 136.9,100.4" fill="url(#fg66)" stroke="url(#sg66)" stroke-width="1.1"/><polygon points="91.5,100.5 92.6,100.2 93.7,99.7 94.8,98.9 95.8,97.9 96.9,96.6 98,94.9 99.1,93 100.2,90.7 101.2,88.1 102.3,85.4 103.4,82.6 104.5,79.8 105.5,77.1 106.6,74.7 107.7,72.7 108.8,71 109.9,69.7 110.9,68.9 112,68.4 113.1,68.3 114.2,68.3 115.2,68.4 116.3,68.8 117.4,69.6 118.5,70.7 119.6,72.3 120.6,74.3 121.7,76.6 122.8,79.1 123.9,81.9 124.9,84.7 126,87.4 127.1,90 128.2,92.3 129.3,94.4 130.3,96.1 131.4,97.5 132.5,98.6 133.6,99.4 134.6,100 135.7,100.4 136.8,100.7" fill="url(#fg67)" stroke="url(#sg67)" stroke-width="1.1"/><polygon points="91.4,100.9 92.4,100.7 93.5,100.2 94.6,99.6 95.7,98.7 96.7,97.6 97.8,96.1 98.9,94.4 100,92.3 101.1,89.9 102.1,87.4 103.2,84.7 104.3,82 105.4,79.4 106.5,77.1 107.5,75 108.6,73.3 109.7,72 110.8,71.1 111.9,70.6 112.9,70.4 114,70.3 115.1,70.4 116.2,70.7 117.2,71.4 118.3,72.4 119.4,73.8 120.5,75.5 121.6,77.7 122.6,80 123.7,82.6 124.8,85.3 125.9,87.9 127,90.4 128,92.6 129.1,94.6 130.2,96.3 131.3,97.7 132.3,98.8 133.4,99.6 134.5,100.2 135.6,100.7 136.7,101" fill="url(#fg68)" stroke="url(#sg68)" stroke-width="1.1"/><polygon points="92.2,101.1 93.3,100.7 94.4,100.2 95.5,99.5 96.6,98.5 97.6,97.2 98.7,95.7 99.8,93.8 100.9,91.6 102,89.3 103,86.8 104.1,84.2 105.2,81.7 106.3,79.4 107.4,77.4 108.4,75.7 109.5,74.3 110.6,73.4 111.7,72.8 112.8,72.5 113.8,72.5 114.9,72.5 116,72.8 117.1,73.3 118.2,74.1 119.2,75.3 120.3,76.9 121.4,78.8 122.5,81 123.6,83.4 124.6,85.9 125.7,88.4 126.8,90.8 127.9,93 129,95 130,96.6 131.1,98 132.2,99.1 133.3,99.9 134.4,100.5 135.4,100.9 136.5,101.2" fill="url(#fg69)" stroke="url(#sg69)" stroke-width="1.1"/><polygon points="92.1,101.5 93.1,101.2 94.2,100.8 95.3,100.2 96.4,99.4 97.5,98.3 98.5,96.9 99.6,95.2 100.7,93.3 101.8,91.1 102.9,88.8 103.9,86.4 105,84 106.1,81.8 107.2,79.8 108.3,78.1 109.4,76.7 110.4,75.8 111.5,75.1 112.6,74.8 113.7,74.7 114.8,74.7 115.8,74.9 116.9,75.3 118,76 119.1,77 120.2,78.4 121.3,80.2 122.3,82.2 123.4,84.4 124.5,86.7 125.6,89 126.7,91.3 127.7,93.4 128.8,95.3 129.9,96.9 131,98.3 132.1,99.4 133.1,100.2 134.2,100.8 135.3,101.2 136.4,101.5" fill="url(#fg70)" stroke="url(#sg70)" stroke-width="1.1"/><polygon points="92.9,101.7 94,101.4 95.1,100.9 96.2,100.2 97.3,99.3 98.4,98.1 99.4,96.6 100.5,94.9 101.6,92.9 102.7,90.8 103.8,88.6 104.8,86.3 105.9,84.2 107,82.2 108.1,80.6 109.2,79.2 110.3,78.2 111.3,77.5 112.4,77.1 113.5,77 114.6,77 115.7,77.1 116.8,77.4 117.8,77.9 118.9,78.8 120,80.1 121.1,81.6 122.2,83.4 123.3,85.4 124.3,87.6 125.4,89.8 126.5,91.9 127.6,93.9 128.7,95.7 129.7,97.3 130.8,98.6 131.9,99.7 133,100.5 134.1,101.1 135.2,101.5 136.2,101.8" fill="url(#fg71)" stroke="url(#sg71)" stroke-width="1.1"/><polygon points="92.7,102.2 93.8,101.9 94.9,101.5 96,100.9 97.1,100.2 98.2,99.2 99.2,97.9 100.3,96.4 101.4,94.7 102.5,92.7 103.6,90.7 104.7,88.6 105.7,86.6 106.8,84.7 107.9,83 109,81.7 110.1,80.7 111.2,79.9 112.2,79.5 113.3,79.3 114.4,79.3 115.5,79.4 116.6,79.6 117.7,80 118.8,80.8 119.8,81.8 120.9,83.1 122,84.7 123.1,86.6 124.2,88.5 125.3,90.6 126.3,92.6 127.4,94.5 128.5,96.2 129.6,97.7 130.7,99 131.8,100 132.8,100.8 133.9,101.4 135,101.8 136.1,102.1" fill="url(#fg72)" stroke="url(#sg72)" stroke-width="1.1"/><polygon points="93.6,102.4 94.7,102.1 95.8,101.6 96.9,101 98,100.2 99,99.1 100.1,97.8 101.2,96.3 102.3,94.6 103.4,92.7 104.5,90.8 105.6,88.9 106.6,87.1 107.7,85.5 108.8,84.2 109.9,83.2 111,82.4 112.1,82 113.2,81.7 114.2,81.7 115.3,81.7 116.4,81.9 117.5,82.2 118.6,82.8 119.7,83.7 120.7,84.8 121.8,86.2 122.9,87.8 124,89.6 125.1,91.5 126.2,93.3 127.3,95.1 128.3,96.7 129.4,98.2 130.5,99.4 131.6,100.4 132.7,101.1 133.8,101.7 134.9,102.1 135.9,102.4" fill="url(#fg73)" stroke="url(#sg73)" stroke-width="1.1"/><polygon points="94.5,102.7 95.6,102.3 96.6,101.8 97.7,101.2 98.8,100.3 99.9,99.2 101,97.9 102.1,96.4 103.2,94.8 104.3,93 105.3,91.3 106.4,89.7 107.5,88.2 108.6,86.9 109.7,85.8 110.8,85.1 111.9,84.6 112.9,84.3 114,84.2 115.1,84.2 116.2,84.3 117.3,84.6 118.4,85 119.5,85.7 120.6,86.7 121.6,87.9 122.7,89.3 123.8,90.9 124.9,92.6 126,94.2 127.1,95.9 128.2,97.4 129.2,98.7 130.3,99.9 131.4,100.8 132.5,101.5 133.6,102.1 134.7,102.5 135.8,102.8" fill="url(#fg74)" stroke="url(#sg74)" stroke-width="1.1"/><polygon points="95.3,103 96.4,102.6 97.5,102.1 98.6,101.5 99.6,100.6 100.7,99.5 101.8,98.3 102.9,96.9 104,95.3 105.1,93.8 106.2,92.3 107.3,90.9 108.4,89.7 109.4,88.7 110.5,87.9 111.6,87.4 112.7,87 113.8,86.9 114.9,86.9 116,86.9 117.1,87.1 118.2,87.4 119.2,88 120.3,88.8 121.4,89.8 122.5,91 123.6,92.4 124.7,93.8 125.8,95.3 126.9,96.8 127.9,98.2 129,99.4 130.1,100.5 131.2,101.3 132.3,102 133.4,102.5 134.5,102.9 135.6,103.2" fill="url(#fg75)" stroke="url(#sg75)" stroke-width="1.1"/><polygon points="95,103.6 96.1,103.4 97.2,103 98.3,102.5 99.4,101.8 100.5,101 101.6,99.9 102.7,98.8 103.7,97.5 104.8,96.2 105.9,94.8 107,93.6 108.1,92.4 109.2,91.5 110.3,90.7 111.4,90.2 112.5,89.8 113.6,89.7 114.6,89.6 115.7,89.6 116.8,89.7 117.9,90 119,90.4 120.1,91 121.2,91.8 122.3,92.9 123.4,94 124.5,95.3 125.5,96.6 126.6,97.8 127.7,99.1 128.8,100.2 129.9,101.1 131,101.9 132.1,102.5 133.2,103 134.3,103.4 135.4,103.6" fill="url(#fg76)" stroke="url(#sg76)" stroke-width="1.1"/><polygon points="95.8,104 96.9,103.8 98,103.4 99.1,102.9 100.2,102.3 101.3,101.5 102.4,100.5 103.5,99.5 104.6,98.4 105.7,97.3 106.8,96.2 107.9,95.1 108.9,94.3 110,93.6 111.1,93 112.2,92.7 113.3,92.5 114.4,92.4 115.5,92.4 116.6,92.5 117.7,92.6 118.8,92.9 119.9,93.4 121,94 122,94.8 123.1,95.8 124.2,96.8 125.3,97.9 126.4,99 127.5,100 128.6,101 129.7,101.8 130.8,102.5 131.9,103.1 133,103.5 134.1,103.9" fill="url(#fg77)" stroke="url(#sg77)" stroke-width="1.1"/><polygon points="96.7,104.4 97.7,104.2 98.8,103.9 99.9,103.4 101,102.8 102.1,102.1 103.2,101.3 104.3,100.4 105.4,99.5 106.5,98.6 107.6,97.8 108.7,97 109.8,96.4 110.9,95.9 112,95.5 113.1,95.3 114.2,95.2 115.2,95.2 116.3,95.2 117.4,95.3 118.5,95.5 119.6,95.9 120.7,96.3 121.8,97 122.9,97.7 124,98.5 125.1,99.4 126.2,100.3 127.3,101.1 128.4,101.9 129.5,102.6 130.6,103.2 131.7,103.7 132.7,104.1 133.8,104.4" fill="url(#fg78)" stroke="url(#sg78)" stroke-width="1.1"/><polygon points="98.6,104.7 99.7,104.4 100.8,104 101.8,103.5 102.9,103 104,102.3 105.1,101.6 106.2,100.9 107.3,100.3 108.4,99.7 109.5,99.1 110.6,98.7 111.7,98.4 112.8,98.2 113.9,98.1 115,98.1 116.1,98.1 117.2,98.1 118.3,98.3 119.4,98.5 120.5,98.8 121.6,99.2 122.7,99.8 123.8,100.4 124.9,101 126,101.7 127,102.3 128.1,103 129.2,103.5 130.3,104 131.4,104.4 132.5,104.7" fill="url(#fg79)" stroke="url(#sg79)" stroke-width="1.1"/><polygon points="99.4,105.3 100.5,105 101.6,104.8 102.7,104.4 103.8,104 104.9,103.6 106,103.1 107.1,102.6 108.2,102.2 109.2,101.8 110.3,101.5 111.4,101.3 112.5,101.1 113.6,101 114.7,101 115.8,101 116.9,101 118,101.1 119.1,101.2 120.2,101.4 121.3,101.7 122.4,102 123.5,102.4 124.6,102.8 125.7,103.2 126.8,103.7 127.9,104.1 129,104.5 130.1,104.8 131.2,105.1 132.3,105.3" fill="url(#fg80)" stroke="url(#sg80)" stroke-width="1.1"/><path d="M21 132.3H142" stroke="#a89888" stroke-width="0.7"/><path d="M21 132V71.7M19.2 129.8H21M19.2 119H21M19.2 108.1H21M19.2 97.2H21M19.2 86.4H21M19.2 75.5H21M21.5 132v1.1M45.5 132v1.1M69.5 132v1.1M93.5 132v1.1M117.5 132v1.1M33.5 132v1.8M57.5 132v1.8M81.5 132v1.8M105.5 132v1.8M129.5 132v1.8M146.7 121h2.2M152.9 106.3h2.2M158.5 93.1h2.2M163.6 81.2h2.2M168.2 70.4h2.2M172.3 60.6h2.2M176.2 51.6h2.2" stroke="#333" stroke-width="0.5" fill="none"/><g font-family="Liberation Serif, serif" font-weight="bold" font-size="4.2" fill="#000" stroke="#000" stroke-width="0.18"><text x="18.4" y="131.1" text-anchor="end">0.0</text><text x="18.4" y="120.3" text-anchor="end">0.2</text><text x="18.4" y="109.4" text-anchor="end">0.4</text><text x="18.4" y="98.5" text-anchor="end">0.6</text><text x="18.4" y="87.7" text-anchor="end">0.8</text><text x="18.4" y="76.8" text-anchor="end">1.0</text><text x="33.5" y="140" text-anchor="middle">2.24</text><text x="57.5" y="140" text-anchor="middle">2.26</text><text x="81.5" y="140" text-anchor="middle">2.28</text><text x="105.5" y="140" text-anchor="middle">2.30</text><text x="129.5" y="140" text-anchor="middle">2.32</text><text x="149.6" y="124">0</text><text x="155.8" y="109.3">5</text><text x="161.4" y="96.1">10</text><text x="166.5" y="84.2">15</text><text x="171.1" y="73.4">20</text><text x="175.2" y="63.6">25</text><text x="179.1" y="54.6">30</text></g><text font-family="Liberation Serif, serif" font-weight="bold" font-size="10.8" letter-spacing="-0.12" x="95.4" y="13.7">(c) @ 1.63 mJ/cm²</text><text font-family="Liberation Serif, serif" font-weight="bold" font-size="7.55" stroke="#000" stroke-width="0.12" text-anchor="middle" transform="translate(8.4,101.6) rotate(-90)">Normalized Intensity (a.u.)</text><text font-family="Liberation Serif, serif" font-weight="bold" font-size="7.6" stroke="#000" stroke-width="0.12" text-anchor="middle" x="82.3" y="147.7">Photon Energy (eV)</text><text font-family="Liberation Serif, serif" font-weight="bold" font-size="6.2" fill="#111" text-anchor="middle" transform="translate(176.3,81) rotate(-67) scale(0.67,1)">Time Delay (ps)</text></g><g transform="translate(-0.5,148)"><path d="M104.7 44V4.6M121.2 44V4.6M137.7 44V4.6M154.3 44V4.6M170.8 44V4.6M96.1 42.6H179.4M21 129.8L96.1 42.6M96.1 35.5H179.4M21 119L96.1 35.5M96.1 28.4H179.4M21 108.1L96.1 28.4M96.1 21.3H179.4M21 97.2L96.1 21.3M96.1 14.2H179.4M21 86.4L96.1 14.2M96.1 7.1H179.4M21 75.5L96.1 7.1M30.4 121V63.3M42.9 106.3V52.1M54.2 93.1V42.1M64.3 81.2V33M73.5 70.4V24.8M81.9 60.6V17.3M89.6 51.6V10.4" stroke="#d0d0d0" stroke-width="0.55" fill="none"/><path d="M21 71.7L96.1 4.6H179.4V44M96.1 4.6V44" stroke="#8c8c8c" stroke-width="0.6" fill="none"/><polygon points="21,132 142,132 179.4,44 96.1,44" fill="url(#pb)"/><polygon points="21,132 142,132 179.4,44 96.1,44" fill="url(#flo)"/><polygon points="21,132 142,132 179.4,44 96.1,44" fill="url(#ps)" mask="url(#fmk)"/><path d="M22.8 132L97.3 44M25.6 132L99.2 44M28.3 132L101.1 44M31.1 132L103 44M33.8 132L104.9 44M36.6 132L106.8 44M39.4 132L108.7 44M42.1 132L110.6 44M44.9 132L112.5 44M47.6 132L114.4 44M50.4 132L116.3 44M53.2 132L118.2 44M55.9 132L120.1 44M58.7 132L122 44M61.5 132L123.9 44M64.2 132L125.8 44M67 132L127.8 44M69.7 132L129.7 44M72.5 132L131.6 44M75.3 132L133.5 44M78 132L135.4 44M80.8 132L137.3 44M83.5 132L139.2 44M86.3 132L141.1 44M89.1 132L143 44M91.8 132L144.9 44M94.6 132L146.8 44M97.3 132L148.7 44M100.1 132L150.6 44M102.9 132L152.5 44M105.6 132L154.4 44M108.4 132L156.3 44M111.1 132L158.2 44M113.9 132L160.1 44M116.7 132L162 44M119.4 132L163.9 44M122.2 132L165.8 44M125 132L167.7 44M127.7 132L169.6 44M130.5 132L171.5 44M133.2 132L173.4 44M136 132L175.3 44M138.8 132L177.2 44" stroke="url(#flg)" stroke-width="0.5" fill="none"/><ellipse cx="106" cy="110" rx="44" ry="12" fill="url(#pw)" mask="url(#soft)" opacity="0.9"/><polygon points="112,72 118.1,70.3 130.9,70.3 127.9,82.4 123,92 110,90" fill="url(#fin3)"/><polygon points="112,72 118.1,70.3 130.9,70.3 127.9,82.4 123,92 110,90" fill="url(#finshade)"/><polygon points="83.9,97.6 85,97.3 86,96.7 87.1,95.8 88.2,94.5 89.2,92.8 90.3,90.6 91.4,87.7 92.4,84.3 93.5,80.3 94.6,75.8 95.6,71.2 96.7,66.5 97.8,62.2 98.8,58.7 99.9,56.1 101,54.7 102,54.6 103.1,55.2 104.1,56.4 105.2,58.1 106.3,60.2 107.3,62.8 108.4,65.7 109.5,68.7 110.5,71.8 111.6,74.9 112.7,78 113.7,80.9 114.8,83.6 115.9,86 116.9,88.2 118,90.1 119.1,91.7 120.1,93.1 121.2,94.2 122.3,95.2 123.3,95.9 124.4,96.5 125.5,97 126.5,97.3 127.6,97.6 128.7,97.8" fill="url(#fg81)" stroke="url(#sg81)" stroke-width="1.1"/><polygon points="83.8,97.8 84.9,97.4 86,96.8 87,96 88.1,94.8 89.2,93.2 90.2,91.1 91.3,88.3 92.4,85 93.4,81.1 94.5,76.8 95.6,72.2 96.6,67.6 97.7,63.3 98.8,59.6 99.8,56.9 100.9,55.3 102,55 103,55.4 104.1,56.5 105.2,58 106.2,60.1 107.3,62.5 108.3,65.2 109.4,68.2 110.5,71.2 111.5,74.3 112.6,77.3 113.7,80.2 114.7,82.9 115.8,85.4 116.9,87.6 117.9,89.6 119,91.3 120.1,92.7 121.1,94 122.2,95 123.3,95.8 124.3,96.4 125.4,96.9 126.5,97.3 127.5,97.6 128.6,97.8" fill="url(#fg82)" stroke="url(#sg82)" stroke-width="1.1"/><polygon points="83.7,98 84.8,97.7 85.9,97.2 86.9,96.4 88,95.3 89.1,93.8 90.1,91.8 91.2,89.3 92.3,86.1 93.3,82.4 94.4,78.3 95.5,73.8 96.5,69.3 97.6,64.9 98.7,61.2 99.7,58.2 100.8,56.3 101.9,55.7 102.9,55.9 104,56.7 105,58.1 106.1,59.9 107.2,62.1 108.2,64.6 109.3,67.4 110.4,70.3 111.4,73.3 112.5,76.2 113.6,79.1 114.6,81.9 115.7,84.4 116.8,86.7 117.8,88.8 118.9,90.6 120,92.1 121,93.5 122.1,94.6 123.2,95.5 124.2,96.2 125.3,96.8 126.4,97.2 127.4,97.6 128.5,97.8 129.6,98" fill="url(#fg83)" stroke="url(#sg83)" stroke-width="1.1"/><polygon points="83.6,98.3 84.6,98 85.7,97.5 86.8,96.8 87.8,95.9 88.9,94.5 90,92.7 91,90.3 92.1,87.4 93.2,83.9 94.3,80 95.3,75.7 96.4,71.3 97.5,67 98.5,63.1 99.6,60 100.7,57.7 101.7,56.7 102.8,56.7 103.9,57.2 104.9,58.3 106,59.8 107.1,61.7 108.1,64 109.2,66.5 110.3,69.3 111.3,72.1 112.4,75 113.5,77.9 114.5,80.6 115.6,83.2 116.7,85.6 117.7,87.7 118.8,89.6 119.9,91.3 120.9,92.8 122,94 123.1,95 124.1,95.9 125.2,96.5 126.3,97.1 127.3,97.5 128.4,97.8 129.5,98.1 130.5,98.2" fill="url(#fg84)" stroke="url(#sg84)" stroke-width="1.1"/><polygon points="84.5,98.3 85.6,97.9 86.6,97.3 87.7,96.4 88.8,95.2 89.8,93.6 90.9,91.5 92,88.8 93,85.6 94.1,81.9 95.2,77.8 96.2,73.5 97.3,69.3 98.4,65.4 99.4,62 100.5,59.5 101.6,58 102.6,57.6 103.7,57.9 104.8,58.7 105.8,59.9 106.9,61.5 108,63.5 109.1,65.8 110.1,68.3 111.2,71 112.3,73.8 113.3,76.5 114.4,79.2 115.5,81.8 116.5,84.3 117.6,86.5 118.7,88.5 119.7,90.4 120.8,91.9 121.9,93.3 122.9,94.5 124,95.4 125.1,96.2 126.1,96.8 127.2,97.4 128.3,97.8 129.4,98.1 130.4,98.3" fill="url(#fg85)" stroke="url(#sg85)" stroke-width="1.1"/><polygon points="84.3,98.6 85.4,98.3 86.4,97.8 87.5,97 88.6,96 89.7,94.5 90.7,92.6 91.8,90.2 92.9,87.3 93.9,83.8 95,80 96.1,75.9 97.1,71.8 98.2,67.8 99.3,64.3 100.3,61.5 101.4,59.7 102.5,58.8 103.6,58.8 104.6,59.3 105.7,60.2 106.8,61.6 107.8,63.2 108.9,65.2 110,67.5 111,70 112.1,72.6 113.2,75.2 114.2,77.8 115.3,80.4 116.4,82.9 117.5,85.2 118.5,87.3 119.6,89.2 120.7,90.9 121.7,92.4 122.8,93.7 123.9,94.8 124.9,95.8 126,96.5 127.1,97.1 128.1,97.6 129.2,98 130.3,98.3 131.4,98.5 132.4,98.7" fill="url(#fg86)" stroke="url(#sg86)" stroke-width="1.1"/><polygon points="84.1,99 85.2,98.7 86.3,98.3 87.3,97.6 88.4,96.7 89.5,95.4 90.5,93.8 91.6,91.6 92.7,88.9 93.7,85.8 94.8,82.2 95.9,78.4 97,74.4 98,70.5 99.1,66.9 100.2,63.9 101.2,61.6 102.3,60.3 103.4,60 104.4,60.2 105.5,60.8 106.6,61.8 107.7,63.2 108.7,64.9 109.8,66.9 110.9,69.1 111.9,71.5 113,74 114.1,76.5 115.2,79 116.2,81.4 117.3,83.8 118.4,86 119.4,88 120.5,89.8 121.6,91.4 122.6,92.9 123.7,94.1 124.8,95.2 125.9,96.1 126.9,96.8 128,97.4 129.1,97.9 130.1,98.3 131.2,98.6 132.3,98.8 133.4,99" fill="url(#fg87)" stroke="url(#sg87)" stroke-width="1.1"/><polygon points="85,99.1 86,98.8 87.1,98.2 88.2,97.4 89.3,96.3 90.3,94.9 91.4,93 92.5,90.6 93.5,87.7 94.6,84.5 95.7,80.9 96.8,77 97.8,73.2 98.9,69.6 100,66.4 101,63.9 102.1,62.2 103.2,61.4 104.3,61.4 105.3,61.7 106.4,62.4 107.5,63.5 108.6,64.9 109.6,66.6 110.7,68.5 111.8,70.6 112.8,72.9 113.9,75.2 115,77.6 116.1,80 117.1,82.3 118.2,84.6 119.3,86.6 120.3,88.6 121.4,90.3 122.5,91.9 123.6,93.2 124.6,94.4 125.7,95.5 126.8,96.3 127.8,97.1 128.9,97.7 130,98.1 131.1,98.5 132.1,98.8 133.2,99.1 134.3,99.2" fill="url(#fg88)" stroke="url(#sg88)" stroke-width="1.1"/><polygon points="84.8,99.6 85.8,99.3 86.9,98.8 88,98.1 89,97.2 90.1,95.9 91.2,94.3 92.3,92.2 93.3,89.6 94.4,86.6 95.5,83.3 96.6,79.7 97.6,76 98.7,72.4 99.8,69.2 100.8,66.4 101.9,64.3 103,63.1 104.1,62.7 105.1,62.8 106.2,63.3 107.3,64.1 108.4,65.1 109.4,66.5 110.5,68.1 111.6,70 112.7,72 113.7,74.2 114.8,76.5 115.9,78.7 116.9,81 118,83.2 119.1,85.3 120.2,87.3 121.2,89.1 122.3,90.8 123.4,92.3 124.5,93.6 125.5,94.8 126.6,95.8 127.7,96.6 128.8,97.3 129.8,97.9 130.9,98.4 132,98.8 133,99.1 134.1,99.3 135.2,99.5" fill="url(#fg89)" stroke="url(#sg89)" stroke-width="1.1"/><polygon points="84.5,100 85.6,99.8 86.7,99.4 87.7,98.8 88.8,98 89.9,97 91,95.5 92,93.7 93.1,91.5 94.2,88.8 95.3,85.7 96.3,82.4 97.4,78.9 98.5,75.5 99.6,72.2 100.6,69.3 101.7,67 102.8,65.4 103.9,64.5 104.9,64.4 106,64.6 107.1,65.1 108.2,65.9 109.2,67 110.3,68.3 111.4,69.9 112.5,71.6 113.5,73.6 114.6,75.6 115.7,77.8 116.7,79.9 117.8,82.1 118.9,84.1 120,86.1 121,88 122.1,89.8 123.2,91.4 124.3,92.8 125.3,94.1 126.4,95.2 127.5,96.2 128.6,97 129.6,97.7 130.7,98.3 131.8,98.7 132.9,99.1 133.9,99.4 135,99.7 136.1,99.8" fill="url(#fg90)" stroke="url(#sg90)" stroke-width="1.1"/><polygon points="85.3,100.4 86.3,100.1 87.4,99.6 88.5,99 89.6,98.1 90.7,96.9 91.7,95.4 92.8,93.5 93.9,91.3 95,88.7 96,85.8 97.1,82.7 98.2,79.6 99.3,76.6 100.3,73.8 101.4,71.5 102.5,69.6 103.6,68.4 104.6,67.9 105.7,67.8 106.8,68 107.9,68.4 109,69.1 110,70.1 111.1,71.4 112.2,72.9 113.3,74.6 114.3,76.4 115.4,78.4 116.5,80.4 117.6,82.5 118.6,84.6 119.7,86.5 120.8,88.5 121.9,90.2 122.9,91.9 124,93.3 125.1,94.7 126.2,95.8 127.3,96.8 128.3,97.6 129.4,98.3 130.5,98.9 131.6,99.4 132.6,99.7 133.7,100 134.8,100.2" fill="url(#fg91)" stroke="url(#sg91)" stroke-width="1.1"/><polygon points="86,100.7 87.1,100.4 88.2,99.9 89.3,99.2 90.3,98.2 91.4,97 92.5,95.4 93.6,93.6 94.6,91.4 95.7,88.9 96.8,86.2 97.9,83.5 99,80.8 100,78.2 101.1,75.9 102.2,74.1 103.3,72.7 104.4,71.8 105.4,71.4 106.5,71.3 107.6,71.5 108.7,71.9 109.7,72.5 110.8,73.4 111.9,74.5 113,75.9 114.1,77.5 115.1,79.3 116.2,81.1 117.3,83.1 118.4,85.1 119.5,87 120.5,88.9 121.6,90.7 122.7,92.4 123.8,93.9 124.8,95.2 125.9,96.4 127,97.4 128.1,98.2 129.2,98.9 130.2,99.5 131.3,100 132.4,100.3 133.5,100.6 134.5,100.8" fill="url(#fg92)" stroke="url(#sg92)" stroke-width="1.1"/><polygon points="85.7,101.4 86.8,101.1 87.8,100.7 88.9,100.2 90,99.4 91.1,98.5 92.2,97.2 93.2,95.7 94.3,93.8 95.4,91.8 96.5,89.5 97.6,87.1 98.6,84.7 99.7,82.4 100.8,80.3 101.9,78.5 103,77 104,76 105.1,75.3 106.2,75 107.3,75 108.4,75.1 109.4,75.4 110.5,76 111.6,76.8 112.7,77.8 113.8,79.1 114.8,80.5 115.9,82.2 117,83.9 118.1,85.8 119.2,87.6 120.3,89.4 121.3,91.2 122.4,92.9 123.5,94.4 124.6,95.8 125.7,96.9 126.7,98 127.8,98.8 128.9,99.6 130,100.1 131.1,100.6 132.1,100.9 133.2,101.2" fill="url(#fg93)" stroke="url(#sg93)" stroke-width="1.1"/><polygon points="86.4,101.8 87.5,101.5 88.6,101.1 89.6,100.6 90.7,99.8 91.8,98.8 92.9,97.5 94,96.1 95.1,94.3 96.1,92.4 97.2,90.4 98.3,88.3 99.4,86.3 100.5,84.3 101.6,82.6 102.6,81.1 103.7,80 104.8,79.2 105.9,78.8 107,78.6 108,78.6 109.1,78.7 110.2,79 111.3,79.5 112.4,80.2 113.5,81.1 114.5,82.3 115.6,83.7 116.7,85.2 117.8,86.8 118.9,88.5 120,90.3 121,91.9 122.1,93.5 123.2,95 124.3,96.4 125.4,97.6 126.5,98.6 127.5,99.5 128.6,100.2 129.7,100.8 130.8,101.2 131.9,101.5 133,101.8" fill="url(#fg94)" stroke="url(#sg94)" stroke-width="1.1"/><polygon points="87.1,102.3 88.2,102 89.3,101.6 90.3,100.9 91.4,100.1 92.5,99.1 93.6,97.8 94.7,96.4 95.8,94.7 96.8,92.9 97.9,91 99,89.1 100.1,87.3 101.2,85.7 102.3,84.3 103.4,83.1 104.4,82.3 105.5,81.8 106.6,81.5 107.7,81.5 108.8,81.5 109.9,81.7 111,82.1 112,82.7 113.1,83.5 114.2,84.5 115.3,85.7 116.4,87 117.5,88.5 118.6,90.1 119.6,91.7 120.7,93.2 121.8,94.8 122.9,96.2 124,97.4 125.1,98.6 126.2,99.5 127.2,100.3 128.3,101 129.4,101.5 130.5,101.9 131.6,102.2 132.7,102.4" fill="url(#fg95)" stroke="url(#sg95)" stroke-width="1.1"/><polygon points="87.8,102.9 88.8,102.5 89.9,102 91,101.4 92.1,100.6 93.2,99.5 94.3,98.3 95.4,96.9 96.5,95.3 97.5,93.6 98.6,91.9 99.7,90.3 100.8,88.8 101.9,87.4 103,86.3 104.1,85.5 105.2,84.9 106.3,84.6 107.3,84.5 108.4,84.5 109.5,84.6 110.6,84.8 111.7,85.3 112.8,85.9 113.9,86.8 115,87.8 116,89 117.1,90.3 118.2,91.7 119.3,93.2 120.4,94.6 121.5,96 122.6,97.3 123.7,98.5 124.7,99.6 125.8,100.5 126.9,101.2 128,101.8 129.1,102.3 130.2,102.6 131.3,102.9" fill="url(#fg96)" stroke="url(#sg96)" stroke-width="1.1"/><polygon points="87.3,103.7 88.4,103.4 89.5,103.1 90.6,102.6 91.7,101.9 92.8,101.1 93.9,100.1 95,98.9 96.1,97.6 97.2,96.1 98.2,94.7 99.3,93.2 100.4,91.8 101.5,90.6 102.6,89.5 103.7,88.7 104.8,88.1 105.9,87.7 107,87.6 108.1,87.5 109.1,87.6 110.2,87.7 111.3,88.1 112.4,88.6 113.5,89.2 114.6,90.1 115.7,91.1 116.8,92.3 117.9,93.5 119,94.8 120.1,96.1 121.1,97.4 122.2,98.6 123.3,99.7 124.4,100.6 125.5,101.4 126.6,102.1 127.7,102.6 128.8,103.1 129.9,103.4 131,103.6" fill="url(#fg97)" stroke="url(#sg97)" stroke-width="1.1"/><polygon points="88,104.3 89.1,104 90.2,103.7 91.3,103.2 92.4,102.5 93.5,101.7 94.6,100.8 95.7,99.7 96.7,98.5 97.8,97.3 98.9,96 100,94.8 101.1,93.7 102.2,92.7 103.3,91.9 104.4,91.3 105.5,90.9 106.6,90.7 107.7,90.7 108.8,90.7 109.9,90.8 111,91 112,91.4 113.1,91.9 114.2,92.6 115.3,93.4 116.4,94.4 117.5,95.5 118.6,96.6 119.7,97.7 120.8,98.8 121.9,99.9 123,100.9 124.1,101.7 125.2,102.4 126.3,103 127.4,103.5 128.4,103.9 129.5,104.1" fill="url(#fg98)" stroke="url(#sg98)" stroke-width="1.1"/><polygon points="88.7,104.9 89.7,104.7 90.8,104.3 91.9,103.8 93,103.3 94.1,102.5 95.2,101.7 96.3,100.7 97.4,99.7 98.5,98.7 99.6,97.7 100.7,96.7 101.8,95.9 102.9,95.2 104,94.6 105.1,94.2 106.2,94 107.3,93.9 108.4,93.9 109.5,93.9 110.6,94.1 111.7,94.3 112.8,94.7 113.9,95.2 115,95.9 116.1,96.7 117.1,97.5 118.2,98.5 119.3,99.4 120.4,100.4 121.5,101.3 122.6,102.1 123.7,102.8 124.8,103.5 125.9,104 127,104.4 128.1,104.7 129.2,104.9" fill="url(#fg99)" stroke="url(#sg99)" stroke-width="1.1"/><polygon points="89.3,105.6 90.4,105.4 91.5,105.1 92.6,104.6 93.7,104.1 94.8,103.5 95.9,102.8 97,102.1 98.1,101.3 99.2,100.4 100.3,99.7 101.4,99 102.5,98.4 103.6,97.9 104.7,97.6 105.8,97.3 106.9,97.2 108,97.2 109.1,97.2 110.2,97.3 111.3,97.4 112.4,97.7 113.5,98 114.6,98.5 115.7,99.1 116.8,99.8 117.9,100.5 119,101.3 120.1,102 121.2,102.8 122.3,103.4 123.4,104 124.5,104.5 125.6,104.9 126.7,105.3 127.8,105.5" fill="url(#fg100)" stroke="url(#sg100)" stroke-width="1.1"/><polygon points="91,106.2 92.1,105.9 93.2,105.6 94.3,105.2 95.5,104.7 96.6,104.2 97.7,103.6 98.8,103.1 99.9,102.5 101,102 102.1,101.6 103.2,101.2 104.3,100.9 105.4,100.7 106.5,100.6 107.6,100.6 108.7,100.6 109.8,100.6 110.9,100.7 112,100.8 113.1,101 114.2,101.3 115.3,101.7 116.4,102.2 117.5,102.7 118.6,103.3 119.7,103.8 120.8,104.3 121.9,104.8 123,105.3 124.1,105.6 125.2,105.9 126.3,106.2" fill="url(#fg101)" stroke="url(#sg101)" stroke-width="1.1"/><polygon points="92.8,106.9 93.9,106.7 95,106.4 96.1,106.2 97.2,105.9 98.3,105.5 99.4,105.2 100.5,104.9 101.6,104.7 102.7,104.4 103.8,104.3 104.9,104.1 106,104.1 107.1,104 108.3,104 109.4,104 110.5,104 111.6,104.1 112.7,104.2 113.8,104.4 114.9,104.6 116,104.8 117.1,105.1 118.2,105.4 119.3,105.7 120.4,106 121.5,106.3 122.6,106.6 123.7,106.8" fill="url(#fg102)" stroke="url(#sg102)" stroke-width="1.1"/><path d="M21 132.3H142" stroke="#a89888" stroke-width="0.7"/><path d="M21 132V71.7M19.2 129.8H21M19.2 119H21M19.2 108.1H21M19.2 97.2H21M19.2 86.4H21M19.2 75.5H21M21.5 132v1.1M45.5 132v1.1M69.5 132v1.1M93.5 132v1.1M117.5 132v1.1M33.5 132v1.8M57.5 132v1.8M81.5 132v1.8M105.5 132v1.8M129.5 132v1.8M146.7 121h2.2M152.9 106.3h2.2M158.5 93.1h2.2M163.6 81.2h2.2M168.2 70.4h2.2M172.3 60.6h2.2M176.2 51.6h2.2" stroke="#333" stroke-width="0.5" fill="none"/><g font-family="Liberation Serif, serif" font-weight="bold" font-size="4.2" fill="#000" stroke="#000" stroke-width="0.18"><text x="18.4" y="131.1" text-anchor="end">0.0</text><text x="18.4" y="120.3" text-anchor="end">0.2</text><text x="18.4" y="109.4" text-anchor="end">0.4</text><text x="18.4" y="98.5" text-anchor="end">0.6</text><text x="18.4" y="87.7" text-anchor="end">0.8</text><text x="18.4" y="76.8" text-anchor="end">1.0</text><text x="33.5" y="140" text-anchor="middle">2.24</text><text x="57.5" y="140" text-anchor="middle">2.26</text><text x="81.5" y="140" text-anchor="middle">2.28</text><text x="105.5" y="140" text-anchor="middle">2.30</text><text x="129.5" y="140" text-anchor="middle">2.32</text><text x="149.6" y="124">0</text><text x="155.8" y="109.3">5</text><text x="161.4" y="96.1">10</text><text x="166.5" y="84.2">15</text><text x="171.1" y="73.4">20</text><text x="175.2" y="63.6">25</text><text x="179.1" y="54.6">30</text></g><text font-family="Liberation Serif, serif" font-weight="bold" font-size="10.8" letter-spacing="-0.12" x="95.4" y="13.7">(d) @ 2.06 mJ/cm²</text><text font-family="Liberation Serif, serif" font-weight="bold" font-size="7.55" stroke="#000" stroke-width="0.12" text-anchor="middle" transform="translate(8.4,101.6) rotate(-90)">Normalized Intensity (a.u.)</text><text font-family="Liberation Serif, serif" font-weight="bold" font-size="7.6" stroke="#000" stroke-width="0.12" text-anchor="middle" x="82.3" y="147.7">Photon Energy (eV)</text><text font-family="Liberation Serif, serif" font-weight="bold" font-size="6.2" fill="#111" text-anchor="middle" transform="translate(176.3,81) rotate(-67) scale(0.67,1)">Time Delay (ps)</text></g><g transform="translate(181,148)"><path d="M104.7 44V4.6M121.2 44V4.6M137.7 44V4.6M154.3 44V4.6M170.8 44V4.6M96.1 42.6H179.4M21 129.8L96.1 42.6M96.1 35.5H179.4M21 119L96.1 35.5M96.1 28.4H179.4M21 108.1L96.1 28.4M96.1 21.3H179.4M21 97.2L96.1 21.3M96.1 14.2H179.4M21 86.4L96.1 14.2M96.1 7.1H179.4M21 75.5L96.1 7.1M30.4 121V63.3M42.9 106.3V52.1M54.2 93.1V42.1M64.3 81.2V33M73.5 70.4V24.8M81.9 60.6V17.3M89.6 51.6V10.4" stroke="#d0d0d0" stroke-width="0.55" fill="none"/><path d="M21 71.7L96.1 4.6H179.4V44M96.1 4.6V44" stroke="#8c8c8c" stroke-width="0.6" fill="none"/><polygon points="21,132 142,132 179.4,44 96.1,44" fill="url(#pb)"/><polygon points="21,132 142,132 179.4,44 96.1,44" fill="url(#flo)"/><polygon points="21,132 142,132 179.4,44 96.1,44" fill="url(#ps)" mask="url(#fmk)"/><path d="M22.8 132L97.3 44M25.6 132L99.2 44M28.3 132L101.1 44M31.1 132L103 44M33.8 132L104.9 44M36.6 132L106.8 44M39.4 132L108.7 44M42.1 132L110.6 44M44.9 132L112.5 44M47.6 132L114.4 44M50.4 132L116.3 44M53.2 132L118.2 44M55.9 132L120.1 44M58.7 132L122 44M61.5 132L123.9 44M64.2 132L125.8 44M67 132L127.8 44M69.7 132L129.7 44M72.5 132L131.6 44M75.3 132L133.5 44M78 132L135.4 44M80.8 132L137.3 44M83.5 132L139.2 44M86.3 132L141.1 44M89.1 132L143 44M91.8 132L144.9 44M94.6 132L146.8 44M97.3 132L148.7 44M100.1 132L150.6 44M102.9 132L152.5 44M105.6 132L154.4 44M108.4 132L156.3 44M111.1 132L158.2 44M113.9 132L160.1 44M116.7 132L162 44M119.4 132L163.9 44M122.2 132L165.8 44M125 132L167.7 44M127.7 132L169.6 44M130.5 132L171.5 44M133.2 132L173.4 44M136 132L175.3 44M138.8 132L177.2 44" stroke="url(#flg)" stroke-width="0.5" fill="none"/><ellipse cx="104" cy="109" rx="46" ry="12" fill="url(#pw)" mask="url(#soft)" opacity="0.9"/><path d="M46 104V122" stroke="#30b0ff" stroke-width="0.8"/><polygon points="95,66 100,63.7 117.4,61.2 125,60.4 134.2,60.4 128.3,73.8 120.8,85.5 100,88" fill="url(#fin2)"/><polygon points="95,66 100,63.7 117.4,61.2 125,60.4 134.2,60.4 128.3,73.8 120.8,85.5 100,88" fill="url(#finshade)"/><polygon points="71.1,97.7 72.2,97.4 73.3,97.1 74.3,96.6 75.4,95.9 76.4,95 77.5,93.8 78.6,92.3 79.6,90.4 80.7,88 81.8,85.1 82.8,81.6 83.9,77.6 85,73.2 86,68.4 87.1,63.5 88.2,58.8 89.2,54.8 90.3,52 91.4,51.9 92.4,53 93.5,54.5 94.6,56.4 95.6,58.5 96.7,60.8 97.8,63.2 98.8,65.6 99.9,68.1 101,70.5 102,72.9 103.1,75.2 104.1,77.3 105.2,79.4 106.3,81.4 107.3,83.2 108.4,84.8 109.5,86.4 110.5,87.8 111.6,89.1 112.7,90.2 113.7,91.3 114.8,92.2 115.9,93 116.9,93.7 118,94.4 119.1,94.9 120.1,95.4 121.2,95.9 122.3,96.2 123.3,96.5 124.4,96.8 125.5,97 126.5,97.2 127.6,97.4 128.7,97.6 129.7,97.7" fill="url(#fg103)" stroke="url(#sg103)" stroke-width="1.1"/><polygon points="71.1,97.8 72.1,97.5 73.2,97.2 74.3,96.7 75.3,96.1 76.4,95.3 77.5,94.2 78.5,92.7 79.6,90.9 80.7,88.6 81.7,85.8 82.8,82.5 83.9,78.7 84.9,74.4 86,69.8 87.1,64.9 88.1,60.2 89.2,56 90.3,52.9 91.3,52.1 92.4,53 93.5,54.4 94.5,56.1 95.6,58.2 96.7,60.4 97.7,62.7 98.8,65.1 99.8,67.6 100.9,70 102,72.3 103,74.6 104.1,76.8 105.2,78.9 106.2,80.9 107.3,82.7 108.4,84.4 109.4,86 110.5,87.4 111.6,88.7 112.6,89.9 113.7,91 114.8,92 115.8,92.8 116.9,93.6 118,94.2 119,94.8 120.1,95.3 121.2,95.8 122.2,96.2 123.3,96.5 124.4,96.8 125.4,97 126.5,97.2 127.6,97.4 128.6,97.6 129.7,97.7" fill="url(#fg104)" stroke="url(#sg104)" stroke-width="1.1"/><polygon points="71,97.9 72.1,97.7 73.1,97.4 74.2,97 75.3,96.5 76.3,95.7 77.4,94.7 78.5,93.4 79.5,91.7 80.6,89.7 81.7,87.1 82.7,84.1 83.8,80.6 84.9,76.6 85.9,72.1 87,67.5 88.1,62.8 89.1,58.4 90.2,54.8 91.3,52.7 92.3,53 93.4,54.2 94.5,55.8 95.5,57.6 96.6,59.7 97.7,61.9 98.7,64.2 99.8,66.6 100.9,69 101.9,71.3 103,73.6 104,75.8 105.1,78 106.2,80 107.2,81.9 108.3,83.6 109.4,85.3 110.4,86.8 111.5,88.1 112.6,89.4 113.6,90.5 114.7,91.5 115.8,92.4 116.8,93.2 117.9,93.9 119,94.6 120,95.1 121.1,95.6 122.2,96 123.2,96.4 124.3,96.7 125.4,97 126.4,97.2 127.5,97.4 128.6,97.6 129.6,97.7 130.7,97.8" fill="url(#fg105)" stroke="url(#sg105)" stroke-width="1.1"/><polygon points="72,98 73,97.7 74.1,97.3 75.2,96.9 76.2,96.2 77.3,95.3 78.4,94.2 79.4,92.8 80.5,90.9 81.6,88.7 82.6,86 83.7,82.8 84.8,79.1 85.8,75 86.9,70.6 88,66 89,61.6 90.1,57.6 91.2,54.5 92.2,53.4 93.3,54.2 94.4,55.4 95.4,57 96.5,58.9 97.6,61 98.6,63.2 99.7,65.5 100.8,67.8 101.8,70.1 102.9,72.4 104,74.6 105,76.8 106.1,78.8 107.2,80.7 108.2,82.6 109.3,84.3 110.4,85.8 111.4,87.3 112.5,88.6 113.6,89.8 114.6,90.9 115.7,91.9 116.8,92.8 117.8,93.5 118.9,94.2 120,94.8 121,95.4 122.1,95.8 123.2,96.2 124.2,96.6 125.3,96.9 126.4,97.2 127.4,97.4 128.5,97.6 129.6,97.7 130.6,97.9 131.7,98" fill="url(#fg106)" stroke="url(#sg106)" stroke-width="1.1"/><polygon points="71.8,98.2 72.9,98 74,97.7 75.1,97.3 76.1,96.7 77.2,96 78.3,95 79.3,93.8 80.4,92.2 81.5,90.3 82.5,87.9 83.6,85.1 84.7,81.8 85.7,78.1 86.8,74 87.9,69.7 88.9,65.3 90,61.1 91.1,57.5 92.1,54.9 93.2,54.5 94.3,55.3 95.3,56.6 96.4,58.2 97.5,60.1 98.5,62.1 99.6,64.3 100.7,66.5 101.7,68.7 102.8,71 103.9,73.2 104.9,75.4 106,77.4 107.1,79.4 108.1,81.3 109.2,83.1 110.3,84.7 111.3,86.3 112.4,87.7 113.5,89 114.5,90.1 115.6,91.2 116.7,92.1 117.7,93 118.8,93.8 119.9,94.4 120.9,95 122,95.6 123.1,96 124.1,96.4 125.2,96.8 126.3,97.1 127.3,97.3 128.4,97.5 129.5,97.7 130.5,97.9 131.6,98 132.7,98.1" fill="url(#fg107)" stroke="url(#sg107)" stroke-width="1.1"/><polygon points="72.8,98.3 73.9,98.1 74.9,97.7 76,97.3 77.1,96.7 78.1,95.9 79.2,94.8 80.3,93.5 81.3,91.9 82.4,89.9 83.5,87.4 84.5,84.6 85.6,81.3 86.7,77.6 87.7,73.6 88.8,69.4 89.9,65.2 90.9,61.3 92,58 93.1,55.8 94.1,55.7 95.2,56.5 96.3,57.8 97.3,59.4 98.4,61.1 99.5,63.1 100.6,65.2 101.6,67.3 102.7,69.5 103.8,71.7 104.8,73.8 105.9,75.9 107,77.9 108,79.9 109.1,81.7 110.2,83.4 111.2,85 112.3,86.5 113.4,87.9 114.4,89.2 115.5,90.3 116.6,91.4 117.6,92.3 118.7,93.2 119.8,93.9 120.8,94.6 121.9,95.2 123,95.7 124,96.2 125.1,96.6 126.2,96.9 127.3,97.2 128.3,97.5 129.4,97.7 130.5,97.9 131.5,98 132.6,98.2 133.7,98.3" fill="url(#fg108)" stroke="url(#sg108)" stroke-width="1.1"/><polygon points="72.6,98.6 73.7,98.4 74.8,98.1 75.8,97.8 76.9,97.3 78,96.7 79,95.8 80.1,94.7 81.2,93.4 82.3,91.7 83.3,89.6 84.4,87.2 85.5,84.3 86.5,81 87.6,77.4 88.7,73.5 89.7,69.5 90.8,65.5 91.9,61.9 92.9,58.8 94,56.9 95.1,56.9 96.1,57.7 97.2,58.9 98.3,60.4 99.4,62.1 100.4,64 101.5,66 102.6,68 103.6,70.1 104.7,72.2 105.8,74.3 106.8,76.3 107.9,78.3 109,80.2 110,82 111.1,83.7 112.2,85.2 113.3,86.7 114.3,88.1 115.4,89.3 116.5,90.5 117.5,91.5 118.6,92.5 119.7,93.3 120.7,94.1 121.8,94.7 122.9,95.3 123.9,95.8 125,96.3 126.1,96.7 127.1,97.1 128.2,97.4 129.3,97.6 130.4,97.9 131.4,98 132.5,98.2 133.6,98.4 134.6,98.5" fill="url(#fg109)" stroke="url(#sg109)" stroke-width="1.1"/><polygon points="73.5,98.8 74.6,98.6 75.7,98.3 76.8,97.9 77.8,97.4 78.9,96.7 80,95.8 81,94.7 82.1,93.3 83.2,91.6 84.2,89.6 85.3,87.1 86.4,84.3 87.4,81.2 88.5,77.7 89.6,73.9 90.7,70.1 91.7,66.3 92.8,62.9 93.9,60 94.9,58.2 96,58.2 97.1,58.9 98.1,60 99.2,61.4 100.3,63 101.4,64.8 102.4,66.7 103.5,68.6 104.6,70.7 105.6,72.7 106.7,74.7 107.8,76.6 108.8,78.5 109.9,80.4 111,82.1 112.1,83.8 113.1,85.3 114.2,86.8 115.3,88.2 116.3,89.4 117.4,90.5 118.5,91.6 119.5,92.5 120.6,93.4 121.7,94.1 122.8,94.8 123.8,95.4 124.9,95.9 126,96.4 127,96.8 128.1,97.2 129.2,97.5 130.2,97.8 131.3,98 132.4,98.2 133.4,98.4 134.5,98.5 135.6,98.6" fill="url(#fg110)" stroke="url(#sg110)" stroke-width="1.1"/><polygon points="74.4,99 75.5,98.7 76.6,98.4 77.7,98 78.7,97.5 79.8,96.8 80.9,95.9 81.9,94.8 83,93.4 84.1,91.7 85.1,89.7 86.2,87.3 87.3,84.6 88.4,81.6 89.4,78.2 90.5,74.7 91.6,71 92.6,67.5 93.7,64.2 94.8,61.5 95.9,59.7 96.9,59.5 98,60.2 99.1,61.2 100.1,62.4 101.2,63.9 102.3,65.6 103.4,67.4 104.4,69.2 105.5,71.1 106.6,73.1 107.6,75 108.7,76.9 109.8,78.7 110.8,80.5 111.9,82.2 113,83.9 114.1,85.4 115.1,86.8 116.2,88.2 117.3,89.4 118.3,90.5 119.4,91.6 120.5,92.5 121.6,93.4 122.6,94.2 123.7,94.9 124.8,95.5 125.8,96 126.9,96.5 128,96.9 129,97.3 130.1,97.6 131.2,97.9 132.3,98.2 133.3,98.4 134.4,98.5 135.5,98.7 136.5,98.8 137.6,98.9" fill="url(#fg111)" stroke="url(#sg111)" stroke-width="1.1"/><polygon points="75.3,99.2 76.4,98.9 77.5,98.6 78.5,98.2 79.6,97.7 80.7,97 81.8,96.1 82.8,95 83.9,93.7 85,92 86,90 87.1,87.8 88.2,85.1 89.3,82.2 90.3,79 91.4,75.7 92.5,72.2 93.6,68.9 94.6,65.8 95.7,63.2 96.8,61.4 97.8,61 98.9,61.5 100,62.3 101.1,63.5 102.1,64.8 103.2,66.4 104.3,68 105.3,69.8 106.4,71.6 107.5,73.4 108.6,75.2 109.6,77.1 110.7,78.9 111.8,80.6 112.8,82.3 113.9,83.9 115,85.4 116.1,86.8 117.1,88.1 118.2,89.4 119.3,90.5 120.3,91.6 121.4,92.5 122.5,93.4 123.6,94.2 124.6,94.9 125.7,95.5 126.8,96.1 127.8,96.6 128.9,97 130,97.4 131.1,97.8 132.1,98 133.2,98.3 134.3,98.5 135.3,98.7 136.4,98.9 137.5,99 138.6,99.1" fill="url(#fg112)" stroke="url(#sg112)" stroke-width="1.1"/><polygon points="76.2,99.4 77.3,99.2 78.4,98.9 79.4,98.5 80.5,97.9 81.6,97.2 82.6,96.4 83.7,95.3 84.8,94 85.9,92.4 86.9,90.5 88,88.4 89.1,85.9 90.2,83.1 91.2,80.1 92.3,76.9 93.4,73.7 94.4,70.5 95.5,67.6 96.6,65.1 97.7,63.2 98.7,62.5 99.8,62.9 100.9,63.6 102,64.6 103,65.8 104.1,67.2 105.2,68.7 106.3,70.3 107.3,72 108.4,73.8 109.5,75.5 110.5,77.2 111.6,79 112.7,80.7 113.8,82.3 114.8,83.8 115.9,85.3 117,86.7 118.1,88.1 119.1,89.3 120.2,90.4 121.3,91.5 122.3,92.5 123.4,93.4 124.5,94.2 125.6,94.9 126.6,95.5 127.7,96.1 128.8,96.6 129.9,97.1 130.9,97.5 132,97.9 133.1,98.2 134.1,98.4 135.2,98.7 136.3,98.9 137.4,99.1 138.4,99.2 139.5,99.3 140.6,99.4" fill="url(#fg113)" stroke="url(#sg113)" stroke-width="1.1"/><polygon points="76,99.8 77.1,99.6 78.1,99.4 79.2,99 80.3,98.6 81.3,98 82.4,97.3 83.5,96.4 84.6,95.3 85.6,94 86.7,92.4 87.8,90.6 88.9,88.5 89.9,86.1 91,83.5 92.1,80.8 93.2,77.8 94.2,74.9 95.3,72 96.4,69.4 97.5,67.1 98.5,65.4 99.6,64.6 100.7,64.7 101.8,65.3 102.8,66.2 103.9,67.3 105,68.6 106.1,70 107.1,71.5 108.2,73.2 109.3,74.8 110.4,76.5 111.4,78.2 112.5,79.9 113.6,81.6 114.6,83.2 115.7,84.7 116.8,86.2 117.9,87.6 118.9,88.9 120,90.1 121.1,91.3 122.2,92.3 123.2,93.3 124.3,94.1 125.4,94.9 126.5,95.6 127.5,96.2 128.6,96.8 129.7,97.3 130.8,97.7 131.8,98.1 132.9,98.4 134,98.7 135.1,99 136.1,99.2 137.2,99.4 138.3,99.5 139.4,99.7 140.4,99.8" fill="url(#fg114)" stroke="url(#sg114)" stroke-width="1.1"/><polygon points="76.8,100.1 77.9,99.8 78.9,99.6 80,99.2 81.1,98.7 82.2,98.1 83.2,97.4 84.3,96.4 85.4,95.3 86.5,94 87.5,92.4 88.6,90.7 89.7,88.6 90.8,86.4 91.9,84 92.9,81.4 94,78.8 95.1,76.2 96.2,73.7 97.2,71.3 98.3,69.4 99.4,67.8 100.5,67 101.5,66.9 102.6,67.4 103.7,68.1 104.8,69.1 105.8,70.2 106.9,71.6 108,73 109.1,74.6 110.1,76.2 111.2,77.9 112.3,79.6 113.4,81.3 114.4,82.9 115.5,84.5 116.6,86 117.7,87.5 118.7,88.9 119.8,90.2 120.9,91.4 122,92.5 123,93.5 124.1,94.4 125.2,95.2 126.3,96 127.4,96.6 128.4,97.2 129.5,97.7 130.6,98.2 131.7,98.6 132.7,98.9 133.8,99.2 134.9,99.4 136,99.7 137,99.8 138.1,100 139.2,100.1" fill="url(#fg115)" stroke="url(#sg115)" stroke-width="1.1"/><polygon points="76.5,100.5 77.6,100.3 78.7,100.1 79.8,99.8 80.8,99.4 81.9,98.9 83,98.3 84.1,97.5 85.1,96.5 86.2,95.4 87.3,94.1 88.4,92.6 89.5,90.9 90.5,89 91.6,86.9 92.7,84.7 93.8,82.4 94.8,80 95.9,77.7 97,75.5 98.1,73.4 99.1,71.7 100.2,70.3 101.3,69.5 102.4,69.3 103.5,69.5 104.5,70.1 105.6,71 106.7,72 107.8,73.2 108.8,74.6 109.9,76.1 111,77.7 112.1,79.3 113.2,80.9 114.2,82.6 115.3,84.2 116.4,85.8 117.5,87.3 118.5,88.8 119.6,90.1 120.7,91.4 121.8,92.6 122.8,93.6 123.9,94.6 125,95.5 126.1,96.3 127.2,97 128.2,97.6 129.3,98.1 130.4,98.6 131.5,99 132.5,99.4 133.6,99.7 134.7,99.9 135.8,100.1 136.9,100.3 137.9,100.4" fill="url(#fg116)" stroke="url(#sg116)" stroke-width="1.1"/><polygon points="77.3,100.8 78.4,100.6 79.5,100.4 80.6,100.1 81.6,99.6 82.7,99.1 83.8,98.5 84.9,97.7 86,96.8 87,95.7 88.1,94.4 89.2,93 90.3,91.4 91.3,89.6 92.4,87.7 93.5,85.7 94.6,83.6 95.7,81.5 96.7,79.4 97.8,77.5 98.9,75.7 100,74.2 101.1,72.9 102.1,72.1 103.2,71.8 104.3,71.9 105.4,72.3 106.5,73 107.5,73.9 108.6,75 109.7,76.2 110.8,77.6 111.8,79.1 112.9,80.7 114,82.3 115.1,83.9 116.2,85.5 117.2,87.1 118.3,88.6 119.4,90 120.5,91.3 121.6,92.6 122.6,93.7 123.7,94.8 124.8,95.7 125.9,96.6 127,97.3 128,98 129.1,98.5 130.2,99 131.3,99.4 132.3,99.8 133.4,100.1 134.5,100.4 135.6,100.6 136.7,100.7 137.7,100.9" fill="url(#fg117)" stroke="url(#sg117)" stroke-width="1.1"/><polygon points="78.1,101.2 79.2,101 80.3,100.7 81.4,100.4 82.4,100 83.5,99.4 84.6,98.8 85.7,98 86.8,97.1 87.8,96.1 88.9,94.9 90,93.6 91.1,92.1 92.2,90.4 93.2,88.7 94.3,86.9 95.4,85 96.5,83.2 97.6,81.3 98.6,79.6 99.7,78.1 100.8,76.7 101.9,75.6 103,74.8 104,74.4 105.1,74.4 106.2,74.6 107.3,75.1 108.4,75.9 109.4,76.8 110.5,78 111.6,79.3 112.7,80.7 113.8,82.1 114.9,83.7 115.9,85.2 117,86.8 118.1,88.3 119.2,89.8 120.3,91.2 121.3,92.5 122.4,93.7 123.5,94.9 124.6,95.9 125.7,96.8 126.7,97.6 127.8,98.3 128.9,98.9 130,99.4 131.1,99.9 132.1,100.2 133.2,100.5 134.3,100.8 135.4,101 136.5,101.2" fill="url(#fg118)" stroke="url(#sg118)" stroke-width="1.1"/><polygon points="77.8,101.7 78.9,101.6 80,101.4 81.1,101.1 82.1,100.8 83.2,100.3 84.3,99.8 85.4,99.2 86.5,98.5 87.6,97.6 88.6,96.6 89.7,95.5 90.8,94.3 91.9,92.9 93,91.4 94,89.9 95.1,88.3 96.2,86.6 97.3,85 98.4,83.4 99.5,81.9 100.5,80.5 101.6,79.3 102.7,78.3 103.8,77.6 104.9,77.2 106,77 107,77.1 108.1,77.5 109.2,78.1 110.3,78.9 111.4,79.8 112.4,81 113.5,82.3 114.6,83.7 115.7,85.1 116.8,86.6 117.9,88.1 118.9,89.6 120,91 121.1,92.4 122.2,93.7 123.3,94.9 124.4,95.9 125.4,96.9 126.5,97.8 127.6,98.5 128.7,99.2 129.8,99.8 130.8,100.2 131.9,100.6 133,101 134.1,101.2 135.2,101.5 136.3,101.6" fill="url(#fg119)" stroke="url(#sg119)" stroke-width="1.1"/><polygon points="79.6,102.1 80.7,101.9 81.8,101.7 82.8,101.3 83.9,100.9 85,100.4 86.1,99.8 87.2,99.1 88.3,98.3 89.4,97.4 90.4,96.3 91.5,95.1 92.6,93.8 93.7,92.5 94.8,91 95.9,89.5 96.9,88.1 98,86.6 99.1,85.2 100.2,83.9 101.3,82.8 102.4,81.9 103.5,81.1 104.5,80.6 105.6,80.4 106.7,80.4 107.8,80.6 108.9,81 110,81.7 111,82.5 112.1,83.5 113.2,84.6 114.3,85.8 115.4,87.1 116.5,88.5 117.6,89.9 118.6,91.2 119.7,92.6 120.8,93.8 121.9,95 123,96.1 124.1,97.1 125.1,98 126.2,98.8 127.3,99.5 128.4,100.1 129.5,100.6 130.6,101.1 131.7,101.4 132.7,101.7 133.8,101.9 134.9,102.1" fill="url(#fg120)" stroke="url(#sg120)" stroke-width="1.1"/><polygon points="80.3,102.7 81.4,102.5 82.5,102.3 83.5,102 84.6,101.6 85.7,101.1 86.8,100.6 87.9,99.9 89,99.1 90.1,98.2 91.2,97.2 92.2,96.1 93.3,95 94.4,93.7 95.5,92.4 96.6,91.1 97.7,89.8 98.8,88.5 99.8,87.4 100.9,86.3 102,85.4 103.1,84.7 104.2,84.2 105.3,83.9 106.4,83.8 107.5,83.9 108.5,84.2 109.6,84.7 110.7,85.4 111.8,86.2 112.9,87.1 114,88.2 115.1,89.3 116.2,90.5 117.2,91.8 118.3,93 119.4,94.2 120.5,95.3 121.6,96.4 122.7,97.4 123.8,98.3 124.9,99.1 125.9,99.9 127,100.5 128.1,101 129.2,101.5 130.3,101.9 131.4,102.2 132.5,102.4 133.5,102.6 134.6,102.8" fill="url(#fg121)" stroke="url(#sg121)" stroke-width="1.1"/><polygon points="81,103.4 82.1,103.2 83.1,103 84.2,102.7 85.3,102.3 86.4,101.9 87.5,101.4 88.6,100.7 89.7,100 90.8,99.2 91.9,98.3 92.9,97.3 94,96.3 95.1,95.2 96.2,94.1 97.3,92.9 98.4,91.8 99.5,90.8 100.6,89.8 101.7,89 102.8,88.4 103.8,87.8 104.9,87.5 106,87.4 107.1,87.4 108.2,87.6 109.3,87.9 110.4,88.4 111.5,89.1 112.6,89.8 113.6,90.7 114.7,91.7 115.8,92.7 116.9,93.8 118,94.8 119.1,95.9 120.2,96.9 121.3,97.9 122.4,98.8 123.5,99.6 124.5,100.3 125.6,100.9 126.7,101.5 127.8,102 128.9,102.4 130,102.7 131.1,103 132.2,103.2 133.3,103.3" fill="url(#fg122)" stroke="url(#sg122)" stroke-width="1.1"/><polygon points="82.7,103.9 83.8,103.7 84.9,103.4 86,103.1 87.1,102.7 88.2,102.2 89.3,101.7 90.4,101.1 91.5,100.4 92.6,99.6 93.7,98.7 94.7,97.8 95.8,96.9 96.9,96 98,95.1 99.1,94.2 100.2,93.4 101.3,92.6 102.4,92 103.5,91.6 104.6,91.2 105.7,91.1 106.8,91 107.8,91.1 108.9,91.3 110,91.7 111.1,92.1 112.2,92.7 113.3,93.4 114.4,94.2 115.5,95.1 116.6,96 117.7,96.9 118.8,97.7 119.9,98.6 120.9,99.4 122,100.2 123.1,100.9 124.2,101.5 125.3,102 126.4,102.5 127.5,102.9 128.6,103.2 129.7,103.5 130.8,103.7 131.9,103.9" fill="url(#fg123)" stroke="url(#sg123)" stroke-width="1.1"/><polygon points="83.4,104.6 84.5,104.4 85.6,104.2 86.7,103.9 87.8,103.6 88.9,103.2 90,102.8 91.1,102.2 92.2,101.7 93.3,101 94.3,100.4 95.4,99.6 96.5,98.9 97.6,98.2 98.7,97.5 99.8,96.8 100.9,96.2 102,95.7 103.1,95.3 104.2,95 105.3,94.8 106.4,94.8 107.5,94.8 108.6,94.9 109.7,95.1 110.8,95.4 111.9,95.9 113,96.4 114,97 115.1,97.6 116.2,98.3 117.3,99 118.4,99.7 119.5,100.4 120.6,101.1 121.7,101.7 122.8,102.2 123.9,102.7 125,103.2 126.1,103.6 127.2,103.9 128.3,104.1 129.4,104.4 130.5,104.5" fill="url(#fg124)" stroke="url(#sg124)" stroke-width="1.1"/><polygon points="86.3,105 87.4,104.8 88.5,104.6 89.5,104.3 90.6,104 91.7,103.6 92.8,103.2 93.9,102.7 95,102.2 96.1,101.7 97.2,101.2 98.3,100.7 99.4,100.2 100.5,99.8 101.6,99.4 102.7,99.1 103.8,98.8 104.9,98.7 106,98.6 107.1,98.6 108.2,98.6 109.3,98.7 110.4,98.9 111.5,99.2 112.6,99.5 113.7,99.9 114.8,100.4 115.9,100.9 117,101.4 118.1,101.9 119.2,102.4 120.3,102.8 121.4,103.3 122.5,103.7 123.6,104.1 124.7,104.4 125.8,104.6 126.9,104.9 128,105.1" fill="url(#fg125)" stroke="url(#sg125)" stroke-width="1.1"/><polygon points="89.1,105.7 90.2,105.5 91.3,105.3 92.4,105.1 93.5,104.9 94.6,104.6 95.7,104.3 96.8,104 97.9,103.8 99,103.5 100.1,103.3 101.2,103 102.3,102.8 103.4,102.7 104.5,102.6 105.6,102.5 106.7,102.5 107.8,102.5 108.9,102.6 110,102.6 111.1,102.8 112.2,102.9 113.3,103.1 114.4,103.4 115.5,103.6 116.6,103.9 117.7,104.2 118.8,104.5 119.9,104.7 121,105 122.1,105.2 123.2,105.4 124.3,105.6 125.4,105.8" fill="url(#fg126)" stroke="url(#sg126)" stroke-width="1.1"/><path d="M21 132.3H142" stroke="#a89888" stroke-width="0.7"/><path d="M21 132V71.7M19.2 129.8H21M19.2 119H21M19.2 108.1H21M19.2 97.2H21M19.2 86.4H21M19.2 75.5H21M21.5 132v1.1M45.5 132v1.1M69.5 132v1.1M93.5 132v1.1M117.5 132v1.1M33.5 132v1.8M57.5 132v1.8M81.5 132v1.8M105.5 132v1.8M129.5 132v1.8M146.7 121h2.2M152.9 106.3h2.2M158.5 93.1h2.2M163.6 81.2h2.2M168.2 70.4h2.2M172.3 60.6h2.2M176.2 51.6h2.2" stroke="#333" stroke-width="0.5" fill="none"/><g font-family="Liberation Serif, serif" font-weight="bold" font-size="4.2" fill="#000" stroke="#000" stroke-width="0.18"><text x="18.4" y="131.1" text-anchor="end">0.0</text><text x="18.4" y="120.3" text-anchor="end">0.2</text><text x="18.4" y="109.4" text-anchor="end">0.4</text><text x="18.4" y="98.5" text-anchor="end">0.6</text><text x="18.4" y="87.7" text-anchor="end">0.8</text><text x="18.4" y="76.8" text-anchor="end">1.0</text><text x="33.5" y="140" text-anchor="middle">2.24</text><text x="57.5" y="140" text-anchor="middle">2.26</text><text x="81.5" y="140" text-anchor="middle">2.28</text><text x="105.5" y="140" text-anchor="middle">2.30</text><text x="129.5" y="140" text-anchor="middle">2.32</text><text x="149.6" y="124">0</text><text x="155.8" y="109.3">5</text><text x="161.4" y="96.1">10</text><text x="166.5" y="84.2">15</text><text x="171.1" y="73.4">20</text><text x="175.2" y="63.6">25</text><text x="179.1" y="54.6">30</text></g><text font-family="Liberation Serif, serif" font-weight="bold" font-size="10.8" letter-spacing="-0.12" x="95.4" y="13.7">(e)&#160; @ 2.57 mJ/cm²</text><text font-family="Liberation Serif, serif" font-weight="bold" font-size="7.55" stroke="#000" stroke-width="0.12" text-anchor="middle" transform="translate(8.4,101.6) rotate(-90)">Normalized Intensity (a.u.)</text><text font-family="Liberation Serif, serif" font-weight="bold" font-size="7.6" stroke="#000" stroke-width="0.12" text-anchor="middle" x="82.3" y="147.7">Photon Energy (eV)</text><text font-family="Liberation Serif, serif" font-weight="bold" font-size="6.2" fill="#111" text-anchor="middle" transform="translate(176.3,81) rotate(-67) scale(0.67,1)">Time Delay (ps)</text></g><g transform="translate(364.5,148)"><path d="M104.7 44V4.6M121.2 44V4.6M137.7 44V4.6M154.3 44V4.6M170.8 44V4.6M96.1 42.6H179.4M21 129.8L96.1 42.6M96.1 35.5H179.4M21 119L96.1 35.5M96.1 28.4H179.4M21 108.1L96.1 28.4M96.1 21.3H179.4M21 97.2L96.1 21.3M96.1 14.2H179.4M21 86.4L96.1 14.2M96.1 7.1H179.4M21 75.5L96.1 7.1M30.4 121V63.3M42.9 106.3V52.1M54.2 93.1V42.1M64.3 81.2V33M73.5 70.4V24.8M81.9 60.6V17.3M89.6 51.6V10.4" stroke="#d0d0d0" stroke-width="0.55" fill="none"/><path d="M21 71.7L96.1 4.6H179.4V44M96.1 4.6V44" stroke="#8c8c8c" stroke-width="0.6" fill="none"/><polygon points="21,132 142,132 179.4,44 96.1,44" fill="url(#pb)"/><polygon points="21,132 142,132 179.4,44 96.1,44" fill="url(#flo)"/><polygon points="21,132 142,132 179.4,44 96.1,44" fill="url(#ps)" mask="url(#fmk)"/><path d="M22.8 132L97.3 44M25.6 132L99.2 44M28.3 132L101.1 44M31.1 132L103 44M33.8 132L104.9 44M36.6 132L106.8 44M39.4 132L108.7 44M42.1 132L110.6 44M44.9 132L112.5 44M47.6 132L114.4 44M50.4 132L116.3 44M53.2 132L118.2 44M55.9 132L120.1 44M58.7 132L122 44M61.5 132L123.9 44M64.2 132L125.8 44M67 132L127.8 44M69.7 132L129.7 44M72.5 132L131.6 44M75.3 132L133.5 44M78 132L135.4 44M80.8 132L137.3 44M83.5 132L139.2 44M86.3 132L141.1 44M89.1 132L143 44M91.8 132L144.9 44M94.6 132L146.8 44M97.3 132L148.7 44M100.1 132L150.6 44M102.9 132L152.5 44M105.6 132L154.4 44M108.4 132L156.3 44M111.1 132L158.2 44M113.9 132L160.1 44M116.7 132L162 44M119.4 132L163.9 44M122.2 132L165.8 44M125 132L167.7 44M127.7 132L169.6 44M130.5 132L171.5 44M133.2 132L173.4 44M136 132L175.3 44M138.8 132L177.2 44" stroke="url(#flg)" stroke-width="0.5" fill="none"/><ellipse cx="106" cy="108" rx="46" ry="12" fill="url(#pw)" mask="url(#soft)" opacity="0.9"/><polygon points="92,63 96.2,60.4 103.7,58.7 123.8,58.7 137.2,56.2 130.5,67 119.6,82 98,86" fill="url(#fin2)"/><polygon points="92,63 96.2,60.4 103.7,58.7 123.8,58.7 137.2,56.2 130.5,67 119.6,82 98,86" fill="url(#finshade)"/><polygon points="63.7,97.6 64.7,97.4 65.8,97.1 66.9,96.7 67.9,96.2 69,95.6 70.1,94.8 71.1,93.8 72.2,92.5 73.3,91 74.3,89.2 75.4,87 76.4,84.6 77.5,81.7 78.6,78.5 79.6,75.1 80.7,71.4 81.8,67.6 82.8,63.8 83.9,60.3 85,57.2 86,55.1 87.1,54.7 88.2,55.4 89.2,56.5 90.3,57.8 91.4,59.3 92.4,61 93.5,62.7 94.6,64.6 95.6,66.5 96.7,68.4 97.8,70.3 98.8,72.2 99.9,74 101,75.8 102,77.6 103.1,79.2 104.1,80.8 105.2,82.3 106.3,83.8 107.3,85.1 108.4,86.3 109.5,87.5 110.5,88.6 111.6,89.6 112.7,90.5 113.7,91.3 114.8,92.1 115.9,92.8 116.9,93.4 118,94 119.1,94.5 120.1,95 121.2,95.4 122.3,95.7 123.3,96 124.4,96.3 125.5,96.6 126.5,96.8 127.6,97 128.7,97.2 129.7,97.3 130.8,97.5 131.8,97.6 132.9,97.7" fill="url(#fg127)" stroke="url(#sg127)" stroke-width="1.1"/><polygon points="63.6,97.7 64.7,97.5 65.8,97.2 66.8,96.9 67.9,96.4 68.9,95.8 70,95.1 71.1,94.1 72.1,92.9 73.2,91.5 74.3,89.8 75.3,87.8 76.4,85.4 77.5,82.7 78.5,79.6 79.6,76.3 80.7,72.7 81.7,69 82.8,65.2 83.9,61.6 84.9,58.4 86,56 87.1,55 88.1,55.5 89.2,56.4 90.3,57.6 91.3,59.1 92.4,60.6 93.5,62.4 94.5,64.2 95.6,66 96.7,67.9 97.7,69.8 98.8,71.7 99.8,73.5 100.9,75.3 102,77.1 103,78.8 104.1,80.4 105.2,81.9 106.2,83.3 107.3,84.7 108.4,86 109.4,87.2 110.5,88.3 111.6,89.3 112.6,90.2 113.7,91.1 114.8,91.9 115.8,92.6 116.9,93.3 118,93.8 119,94.4 120.1,94.8 121.2,95.3 122.2,95.7 123.3,96 124.4,96.3 125.4,96.6 126.5,96.8 127.6,97 128.6,97.2 129.7,97.3 130.8,97.5 131.8,97.6 132.9,97.7" fill="url(#fg128)" stroke="url(#sg128)" stroke-width="1.1"/><polygon points="63.5,97.9 64.6,97.7 65.7,97.5 66.7,97.2 67.8,96.8 68.9,96.2 69.9,95.6 71,94.7 72.1,93.7 73.1,92.4 74.2,90.9 75.3,89 76.3,86.8 77.4,84.4 78.5,81.5 79.5,78.4 80.6,75 81.7,71.4 82.7,67.7 83.8,64.1 84.9,60.7 85.9,57.9 87,55.9 88.1,55.7 89.1,56.4 90.2,57.4 91.3,58.7 92.3,60.2 93.4,61.8 94.5,63.5 95.5,65.3 96.6,67.1 97.7,68.9 98.7,70.8 99.8,72.6 100.9,74.4 101.9,76.2 103,77.9 104,79.5 105.1,81.1 106.2,82.6 107.2,84 108.3,85.3 109.4,86.6 110.4,87.7 111.5,88.8 112.6,89.8 113.6,90.7 114.7,91.5 115.8,92.2 116.8,92.9 117.9,93.6 119,94.1 120,94.6 121.1,95.1 122.2,95.5 123.2,95.9 124.3,96.2 125.4,96.5 126.4,96.7 127.5,97 128.6,97.1 129.6,97.3 130.7,97.5 131.8,97.6 132.8,97.7 133.9,97.8" fill="url(#fg129)" stroke="url(#sg129)" stroke-width="1.1"/><polygon points="64.5,98 65.6,97.8 66.6,97.5 67.7,97.2 68.8,96.7 69.8,96.1 70.9,95.4 72,94.5 73,93.4 74.1,92.1 75.2,90.4 76.2,88.5 77.3,86.3 78.4,83.8 79.4,80.9 80.5,77.8 81.6,74.4 82.6,70.8 83.7,67.3 84.8,63.8 85.8,60.7 86.9,58.1 88,56.5 89,56.6 90.1,57.4 91.2,58.4 92.2,59.7 93.3,61.1 94.4,62.7 95.4,64.4 96.5,66.1 97.6,67.9 98.6,69.7 99.7,71.5 100.8,73.3 101.8,75.1 102.9,76.8 104,78.5 105,80.1 106.1,81.6 107.2,83.1 108.2,84.4 109.3,85.7 110.4,86.9 111.4,88 112.5,89.1 113.6,90 114.6,90.9 115.7,91.7 116.8,92.5 117.8,93.2 118.9,93.8 120,94.3 121,94.8 122.1,95.3 123.2,95.7 124.2,96 125.3,96.4 126.4,96.6 127.4,96.9 128.5,97.1 129.6,97.3 130.6,97.5 131.7,97.6 132.8,97.7 133.8,97.9 134.9,98" fill="url(#fg130)" stroke="url(#sg130)" stroke-width="1.1"/><polygon points="65.4,98.1 66.5,97.9 67.6,97.6 68.6,97.2 69.7,96.7 70.8,96.1 71.8,95.4 72.9,94.5 74,93.3 75.1,91.9 76.1,90.3 77.2,88.4 78.3,86.1 79.3,83.6 80.4,80.8 81.5,77.7 82.5,74.3 83.6,70.9 84.7,67.5 85.7,64.2 86.8,61.2 87.9,58.8 88.9,57.4 90,57.6 91.1,58.4 92.1,59.4 93.2,60.6 94.3,62 95.3,63.5 96.4,65.1 97.5,66.8 98.5,68.6 99.6,70.3 100.7,72.1 101.7,73.8 102.8,75.6 103.9,77.2 104.9,78.9 106,80.4 107.1,81.9 108.1,83.3 109.2,84.7 110.3,86 111.3,87.1 112.4,88.2 113.5,89.3 114.5,90.2 115.6,91.1 116.7,91.9 117.7,92.6 118.8,93.3 119.9,93.9 120.9,94.5 122,95 123.1,95.4 124.1,95.8 125.2,96.2 126.3,96.5 127.3,96.8 128.4,97 129.5,97.2 130.5,97.4 131.6,97.6 132.7,97.8 133.7,97.9 134.8,98 135.9,98.1" fill="url(#fg131)" stroke="url(#sg131)" stroke-width="1.1"/><polygon points="65.3,98.4 66.4,98.2 67.4,98 68.5,97.7 69.6,97.3 70.6,96.8 71.7,96.2 72.8,95.5 73.9,94.5 74.9,93.4 76,92 77.1,90.4 78.1,88.5 79.2,86.3 80.3,83.8 81.3,81 82.4,78 83.5,74.8 84.5,71.5 85.6,68.2 86.7,65 87.7,62.2 88.8,59.9 89.9,58.5 90.9,58.7 92,59.3 93.1,60.3 94.1,61.4 95.2,62.8 96.3,64.2 97.3,65.8 98.4,67.4 99.5,69.1 100.6,70.8 101.6,72.5 102.7,74.2 103.8,75.9 104.8,77.5 105.9,79.1 107,80.6 108,82.1 109.1,83.5 110.2,84.8 111.2,86.1 112.3,87.3 113.4,88.4 114.4,89.4 115.5,90.3 116.6,91.2 117.6,92 118.7,92.7 119.8,93.4 120.8,94 121.9,94.6 123,95.1 124,95.5 125.1,95.9 126.2,96.3 127.3,96.6 128.3,96.9 129.4,97.2 130.5,97.4 131.5,97.6 132.6,97.8 133.7,97.9 134.7,98 135.8,98.2 136.9,98.3" fill="url(#fg132)" stroke="url(#sg132)" stroke-width="1.1"/><polygon points="66.2,98.6 67.3,98.4 68.4,98.2 69.4,97.9 70.5,97.5 71.6,97 72.6,96.4 73.7,95.6 74.8,94.7 75.8,93.6 76.9,92.2 78,90.7 79,88.8 80.1,86.7 81.2,84.3 82.3,81.6 83.3,78.7 84.4,75.6 85.5,72.5 86.5,69.3 87.6,66.3 88.7,63.5 89.7,61.3 90.8,59.9 91.9,59.8 92.9,60.4 94,61.2 95.1,62.3 96.1,63.5 97.2,64.9 98.3,66.4 99.4,67.9 100.4,69.5 101.5,71.1 102.6,72.8 103.6,74.4 104.7,76.1 105.8,77.7 106.8,79.2 107.9,80.7 109,82.2 110,83.5 111.1,84.9 112.2,86.1 113.3,87.3 114.3,88.4 115.4,89.4 116.5,90.3 117.5,91.2 118.6,92 119.7,92.8 120.7,93.5 121.8,94.1 122.9,94.6 123.9,95.2 125,95.6 126.1,96 127.1,96.4 128.2,96.7 129.3,97 130.4,97.3 131.4,97.5 132.5,97.7 133.6,97.9 134.6,98.1 135.7,98.2 136.8,98.3 137.8,98.4" fill="url(#fg133)" stroke="url(#sg133)" stroke-width="1.1"/><polygon points="67.1,98.8 68.2,98.6 69.3,98.4 70.3,98.1 71.4,97.7 72.5,97.2 73.5,96.7 74.6,95.9 75.7,95 76.8,93.9 77.8,92.6 78.9,91.1 80,89.3 81,87.3 82.1,85 83.2,82.5 84.2,79.7 85.3,76.8 86.4,73.8 87.4,70.8 88.5,67.8 89.6,65.2 90.7,63 91.7,61.4 92.8,61 93.9,61.5 94.9,62.2 96,63.2 97.1,64.3 98.1,65.5 99.2,66.9 100.3,68.4 101.4,69.9 102.4,71.4 103.5,73 104.6,74.6 105.6,76.2 106.7,77.7 107.8,79.3 108.8,80.7 109.9,82.2 111,83.5 112.1,84.8 113.1,86.1 114.2,87.2 115.3,88.3 116.3,89.3 117.4,90.3 118.5,91.2 119.5,92 120.6,92.8 121.7,93.5 122.8,94.1 123.8,94.7 124.9,95.2 126,95.7 127,96.1 128.1,96.5 129.2,96.8 130.2,97.1 131.3,97.4 132.4,97.6 133.4,97.9 134.5,98 135.6,98.2 136.7,98.4 137.7,98.5 138.8,98.6 139.9,98.7" fill="url(#fg134)" stroke="url(#sg134)" stroke-width="1.1"/><polygon points="68,99 69.1,98.8 70.2,98.6 71.2,98.3 72.3,98 73.4,97.5 74.4,97 75.5,96.3 76.6,95.4 77.7,94.4 78.7,93.2 79.8,91.7 80.9,90 81.9,88.1 83,86 84.1,83.6 85.1,81 86.2,78.2 87.3,75.4 88.4,72.5 89.4,69.7 90.5,67.1 91.6,64.9 92.6,63.2 93.7,62.4 94.8,62.7 95.9,63.3 96.9,64.1 98,65.1 99.1,66.2 100.1,67.5 101.2,68.8 102.3,70.3 103.4,71.7 104.4,73.2 105.5,74.7 106.6,76.3 107.6,77.8 108.7,79.2 109.8,80.7 110.8,82.1 111.9,83.4 113,84.7 114.1,85.9 115.1,87.1 116.2,88.2 117.3,89.2 118.3,90.2 119.4,91.1 120.5,91.9 121.6,92.7 122.6,93.4 123.7,94.1 124.8,94.7 125.8,95.2 126.9,95.7 128,96.1 129,96.5 130.1,96.9 131.2,97.2 132.3,97.5 133.3,97.8 134.4,98 135.5,98.2 136.5,98.4 137.6,98.5 138.7,98.6 139.8,98.8 140.8,98.9" fill="url(#fg135)" stroke="url(#sg135)" stroke-width="1.1"/><polygon points="70,99.1 71,98.9 72.1,98.7 73.2,98.3 74.3,97.9 75.3,97.4 76.4,96.7 77.5,95.9 78.5,95 79.6,93.8 80.7,92.5 81.8,90.9 82.8,89.1 83.9,87.1 85,84.9 86,82.4 87.1,79.9 88.2,77.2 89.3,74.4 90.3,71.7 91.4,69.2 92.5,67 93.6,65.2 94.6,64.1 95.7,64 96.8,64.4 97.8,65.1 98.9,66 100,67 101.1,68.1 102.1,69.3 103.2,70.7 104.3,72 105.3,73.4 106.4,74.9 107.5,76.3 108.6,77.8 109.6,79.2 110.7,80.6 111.8,82 112.8,83.3 113.9,84.6 115,85.8 116.1,87 117.1,88.1 118.2,89.1 119.3,90.1 120.3,91 121.4,91.8 122.5,92.6 123.6,93.4 124.6,94 125.7,94.6 126.8,95.2 127.8,95.7 128.9,96.2 130,96.6 131.1,97 132.1,97.3 133.2,97.6 134.3,97.9 135.3,98.1 136.4,98.3 137.5,98.5 138.6,98.7 139.6,98.8 140.7,98.9 141.8,99.1 142.9,99.2" fill="url(#fg136)" stroke="url(#sg136)" stroke-width="1.1"/><polygon points="70.8,99.4 71.9,99.2 73,99 74.1,98.7 75.1,98.3 76.2,97.8 77.3,97.2 78.4,96.5 79.4,95.6 80.5,94.5 81.6,93.3 82.6,91.8 83.7,90.2 84.8,88.3 85.9,86.3 86.9,84 88,81.6 89.1,79.1 90.2,76.5 91.2,74 92.3,71.5 93.4,69.3 94.4,67.4 95.5,66.1 96.6,65.5 97.7,65.7 98.7,66.2 99.8,66.9 100.9,67.8 102,68.8 103,69.9 104.1,71.1 105.2,72.4 106.3,73.7 107.3,75.1 108.4,76.4 109.5,77.8 110.5,79.2 111.6,80.5 112.7,81.9 113.8,83.2 114.8,84.4 115.9,85.6 117,86.8 118.1,87.9 119.1,88.9 120.2,89.9 121.3,90.8 122.3,91.7 123.4,92.5 124.5,93.2 125.6,93.9 126.6,94.6 127.7,95.2 128.8,95.7 129.9,96.2 130.9,96.6 132,97 133.1,97.4 134.1,97.7 135.2,98 136.3,98.2 137.4,98.4 138.4,98.6 139.5,98.8 140.6,99 141.7,99.1 142.7,99.2 143.8,99.3 144.9,99.4" fill="url(#fg137)" stroke="url(#sg137)" stroke-width="1.1"/><polygon points="71.7,99.8 72.8,99.6 73.8,99.4 74.9,99.1 76,98.7 77.1,98.3 78.1,97.7 79.2,97 80.3,96.2 81.3,95.2 82.4,94.1 83.5,92.7 84.6,91.2 85.6,89.5 86.7,87.6 87.8,85.5 88.9,83.2 89.9,80.9 91,78.5 92.1,76.1 93.2,73.8 94.2,71.7 95.3,69.8 96.4,68.4 97.5,67.5 98.5,67.4 99.6,67.7 100.7,68.3 101.8,69 102.8,69.9 103.9,70.9 105,72 106.1,73.2 107.1,74.5 108.2,75.8 109.3,77.2 110.4,78.5 111.4,79.9 112.5,81.2 113.6,82.5 114.6,83.8 115.7,85.1 116.8,86.3 117.9,87.5 118.9,88.6 120,89.6 121.1,90.6 122.2,91.5 123.2,92.4 124.3,93.2 125.4,93.9 126.5,94.6 127.5,95.3 128.6,95.8 129.7,96.3 130.8,96.8 131.8,97.2 132.9,97.6 134,98 135.1,98.3 136.1,98.5 137.2,98.8 138.3,99 139.4,99.2 140.4,99.3 141.5,99.5 142.6,99.6 143.7,99.7" fill="url(#fg138)" stroke="url(#sg138)" stroke-width="1.1"/><polygon points="72.5,100.2 73.6,100 74.6,99.8 75.7,99.5 76.8,99.2 77.9,98.8 78.9,98.3 80,97.6 81.1,96.9 82.2,96 83.2,94.9 84.3,93.6 85.4,92.2 86.5,90.6 87.5,88.9 88.6,86.9 89.7,84.9 90.8,82.7 91.9,80.5 92.9,78.2 94,76.1 95.1,74.1 96.2,72.3 97.2,70.8 98.3,69.8 99.4,69.3 100.5,69.4 101.5,69.8 102.6,70.4 103.7,71.2 104.8,72.1 105.8,73.2 106.9,74.3 108,75.5 109.1,76.8 110.1,78.1 111.2,79.5 112.3,80.8 113.4,82.2 114.4,83.5 115.5,84.8 116.6,86.1 117.7,87.3 118.7,88.5 119.8,89.6 120.9,90.7 122,91.7 123,92.6 124.1,93.5 125.2,94.3 126.3,95 127.4,95.6 128.4,96.2 129.5,96.8 130.6,97.3 131.7,97.7 132.7,98.1 133.8,98.5 134.9,98.8 136,99 137,99.3 138.1,99.5 139.2,99.7 140.3,99.8 141.3,99.9 142.4,100.1" fill="url(#fg139)" stroke="url(#sg139)" stroke-width="1.1"/><polygon points="74.4,100.5 75.4,100.3 76.5,100 77.6,99.7 78.7,99.3 79.8,98.9 80.8,98.3 81.9,97.6 83,96.7 84.1,95.8 85.1,94.6 86.2,93.3 87.3,91.8 88.4,90.2 89.5,88.4 90.5,86.5 91.6,84.5 92.7,82.5 93.8,80.4 94.8,78.4 95.9,76.5 97,74.8 98.1,73.4 99.1,72.2 100.2,71.5 101.3,71.4 102.4,71.6 103.5,72 104.5,72.7 105.6,73.4 106.7,74.4 107.8,75.4 108.8,76.6 109.9,77.8 111,79.1 112.1,80.4 113.2,81.8 114.2,83.2 115.3,84.5 116.4,85.8 117.5,87.1 118.5,88.4 119.6,89.5 120.7,90.7 121.8,91.7 122.8,92.7 123.9,93.6 125,94.5 126.1,95.3 127.2,96 128.2,96.6 129.3,97.2 130.4,97.7 131.5,98.2 132.5,98.6 133.6,98.9 134.7,99.3 135.8,99.5 136.9,99.8 137.9,100 139,100.1 140.1,100.3 141.2,100.4" fill="url(#fg140)" stroke="url(#sg140)" stroke-width="1.1"/><polygon points="75.2,100.9 76.2,100.8 77.3,100.5 78.4,100.3 79.5,99.9 80.6,99.5 81.6,99 82.7,98.3 83.8,97.6 84.9,96.7 86,95.7 87,94.5 88.1,93.1 89.2,91.6 90.3,90 91.3,88.3 92.4,86.5 93.5,84.6 94.6,82.7 95.7,80.8 96.7,79 97.8,77.4 98.9,76 100,74.8 101.1,74 102.1,73.6 103.2,73.5 104.3,73.8 105.4,74.3 106.5,74.9 107.5,75.7 108.6,76.7 109.7,77.7 110.8,78.9 111.8,80.1 112.9,81.4 114,82.8 115.1,84.1 116.2,85.5 117.2,86.8 118.3,88.1 119.4,89.3 120.5,90.5 121.6,91.7 122.6,92.7 123.7,93.7 124.8,94.7 125.9,95.5 127,96.3 128,97 129.1,97.6 130.2,98.1 131.3,98.6 132.3,99 133.4,99.4 134.5,99.7 135.6,100 136.7,100.3 137.7,100.5 138.8,100.6 139.9,100.8" fill="url(#fg141)" stroke="url(#sg141)" stroke-width="1.1"/><polygon points="77,101.2 78.1,101.1 79.2,100.8 80.3,100.5 81.4,100.1 82.4,99.7 83.5,99.1 84.6,98.4 85.7,97.6 86.8,96.7 87.8,95.7 88.9,94.5 90,93.1 91.1,91.7 92.2,90.1 93.2,88.4 94.3,86.7 95.4,84.9 96.5,83.2 97.6,81.6 98.6,80 99.7,78.7 100.8,77.5 101.9,76.6 103,76 104,75.7 105.1,75.8 106.2,76.1 107.3,76.5 108.4,77.2 109.4,78 110.5,78.9 111.6,80 112.7,81.2 113.8,82.4 114.9,83.7 115.9,85.1 117,86.4 118.1,87.7 119.2,89 120.3,90.3 121.3,91.5 122.4,92.7 123.5,93.7 124.6,94.7 125.7,95.6 126.7,96.5 127.8,97.2 128.9,97.9 130,98.5 131.1,99 132.1,99.5 133.2,99.9 134.3,100.2 135.4,100.5 136.5,100.7 137.5,100.9 138.6,101.1 139.7,101.2" fill="url(#fg142)" stroke="url(#sg142)" stroke-width="1.1"/><polygon points="78.9,101.6 80,101.4 81.1,101.1 82.1,100.8 83.2,100.4 84.3,99.9 85.4,99.3 86.5,98.6 87.6,97.8 88.6,96.9 89.7,95.8 90.8,94.6 91.9,93.3 93,91.9 94,90.4 95.1,88.8 96.2,87.2 97.3,85.6 98.4,84.1 99.5,82.7 100.5,81.4 101.6,80.2 102.7,79.3 103.8,78.6 104.9,78.2 106,78 107,78.1 108.1,78.4 109.2,78.9 110.3,79.5 111.4,80.3 112.4,81.3 113.5,82.3 114.6,83.5 115.7,84.7 116.8,86 117.9,87.4 118.9,88.7 120,90 121.1,91.3 122.2,92.5 123.3,93.6 124.4,94.7 125.4,95.7 126.5,96.6 127.6,97.4 128.7,98.2 129.8,98.8 130.8,99.4 131.9,99.9 133,100.3 134.1,100.7 135.2,101 136.3,101.2 137.3,101.4 138.4,101.6" fill="url(#fg143)" stroke="url(#sg143)" stroke-width="1.1"/><polygon points="79.5,102.4 80.5,102.2 81.6,101.9 82.7,101.6 83.8,101.3 84.9,100.8 86,100.2 87.1,99.6 88.1,98.8 89.2,97.9 90.3,96.9 91.4,95.8 92.5,94.5 93.6,93.2 94.7,91.8 95.7,90.3 96.8,88.9 97.9,87.5 99,86.1 100.1,84.8 101.2,83.7 102.3,82.7 103.3,81.9 104.4,81.4 105.5,81.1 106.6,81 107.7,81.2 108.8,81.5 109.9,82 110.9,82.6 112,83.4 113.1,84.3 114.2,85.3 115.3,86.4 116.4,87.6 117.5,88.8 118.5,90 119.6,91.2 120.7,92.4 121.8,93.6 122.9,94.7 124,95.7 125.1,96.7 126.1,97.6 127.2,98.3 128.3,99.1 129.4,99.7 130.5,100.2 131.6,100.7 132.6,101.1 133.7,101.5 134.8,101.8 135.9,102 137,102.2 138.1,102.4" fill="url(#fg144)" stroke="url(#sg144)" stroke-width="1.1"/><polygon points="80,103.2 81.1,103 82.2,102.8 83.3,102.5 84.4,102.2 85.5,101.7 86.6,101.2 87.6,100.6 88.7,99.9 89.8,99 90.9,98.1 92,97 93.1,95.9 94.2,94.7 95.3,93.4 96.4,92.1 97.4,90.7 98.5,89.4 99.6,88.2 100.7,87.1 101.8,86.1 102.9,85.3 104,84.7 105.1,84.3 106.1,84.2 107.2,84.2 108.3,84.4 109.4,84.7 110.5,85.2 111.6,85.8 112.7,86.5 113.8,87.4 114.9,88.3 115.9,89.4 117,90.4 118.1,91.5 119.2,92.7 120.3,93.8 121.4,94.8 122.5,95.9 123.6,96.8 124.7,97.7 125.7,98.6 126.8,99.3 127.9,100 129,100.6 130.1,101.1 131.2,101.6 132.3,102 133.4,102.3 134.5,102.6 135.5,102.8 136.6,103 137.7,103.1" fill="url(#fg145)" stroke="url(#sg145)" stroke-width="1.1"/><polygon points="81.7,103.9 82.8,103.7 83.8,103.4 84.9,103.1 86,102.7 87.1,102.2 88.2,101.7 89.3,101 90.4,100.2 91.5,99.4 92.6,98.4 93.7,97.4 94.8,96.3 95.9,95.1 96.9,93.9 98,92.8 99.1,91.6 100.2,90.6 101.3,89.6 102.4,88.8 103.5,88.2 104.6,87.7 105.7,87.4 106.8,87.4 107.9,87.4 109,87.6 110,87.9 111.1,88.4 112.2,89 113.3,89.7 114.4,90.5 115.5,91.3 116.6,92.3 117.7,93.2 118.8,94.2 119.9,95.2 121,96.2 122.1,97.1 123.2,98 124.2,98.9 125.3,99.7 126.4,100.4 127.5,101 128.6,101.6 129.7,102.1 130.8,102.5 131.9,102.9 133,103.2 134.1,103.4 135.2,103.7 136.3,103.8" fill="url(#fg146)" stroke="url(#sg146)" stroke-width="1.1"/><polygon points="83.3,104.6 84.4,104.3 85.5,104.1 86.6,103.7 87.7,103.3 88.8,102.8 89.9,102.2 91,101.5 92.1,100.7 93.2,99.9 94.2,99 95.3,98 96.4,97 97.5,96 98.6,95 99.7,94 100.8,93.1 101.9,92.4 103,91.7 104.1,91.2 105.2,90.9 106.3,90.7 107.4,90.6 108.5,90.7 109.6,90.9 110.7,91.2 111.8,91.7 112.9,92.2 114,92.8 115.1,93.5 116.2,94.3 117.2,95.1 118.3,96 119.4,96.9 120.5,97.7 121.6,98.6 122.7,99.4 123.8,100.1 124.9,100.9 126,101.5 127.1,102.1 128.2,102.6 129.3,103.1 130.4,103.5 131.5,103.8 132.6,104.1 133.7,104.3 134.8,104.5 135.9,104.7" fill="url(#fg147)" stroke="url(#sg147)" stroke-width="1.1"/><polygon points="83.8,105.5 84.9,105.3 86,105.1 87.1,104.8 88.2,104.4 89.3,104 90.4,103.5 91.5,102.9 92.6,102.2 93.7,101.5 94.8,100.7 95.9,99.9 97,99 98.1,98.2 99.2,97.4 100.3,96.6 101.4,95.9 102.5,95.2 103.6,94.7 104.7,94.4 105.8,94.1 106.9,94 108,94 109.1,94.1 110.2,94.3 111.3,94.6 112.4,95 113.5,95.4 114.6,96 115.7,96.6 116.8,97.3 117.9,98 119,98.7 120.1,99.4 121.2,100.2 122.3,100.9 123.4,101.5 124.5,102.2 125.6,102.7 126.7,103.3 127.8,103.7 128.9,104.1 130,104.5 131.1,104.8 132.2,105 133.3,105.3 134.4,105.4" fill="url(#fg148)" stroke="url(#sg148)" stroke-width="1.1"/><polygon points="85.5,106.3 86.6,106.1 87.7,105.9 88.8,105.6 89.9,105.2 91,104.8 92.1,104.3 93.2,103.8 94.3,103.2 95.4,102.6 96.5,101.9 97.6,101.2 98.7,100.6 99.8,99.9 100.9,99.3 102,98.8 103.1,98.3 104.2,97.9 105.3,97.7 106.4,97.5 107.5,97.5 108.6,97.5 109.7,97.6 110.8,97.7 111.9,98 113,98.3 114.1,98.7 115.2,99.1 116.3,99.6 117.4,100.2 118.5,100.8 119.6,101.3 120.7,101.9 121.8,102.5 122.9,103.1 124,103.6 125.1,104.1 126.2,104.5 127.3,104.9 128.4,105.3 129.5,105.6 130.6,105.8 131.7,106 132.8,106.2" fill="url(#fg149)" stroke="url(#sg149)" stroke-width="1.1"/><polygon points="87.1,107.2 88.2,107 89.3,106.8 90.4,106.5 91.5,106.2 92.6,105.9 93.7,105.5 94.8,105 95.9,104.6 97,104.1 98.1,103.6 99.2,103.1 100.3,102.6 101.4,102.2 102.6,101.8 103.7,101.5 104.8,101.3 105.9,101.1 107,101 108.1,101 109.2,101 110.3,101.1 111.4,101.2 112.5,101.4 113.6,101.7 114.7,102 115.8,102.3 116.9,102.7 118,103.1 119.1,103.5 120.3,103.9 121.4,104.4 122.5,104.8 123.6,105.2 124.7,105.5 125.8,105.9 126.9,106.2 128,106.5 129.1,106.7 130.2,106.9 131.3,107.1" fill="url(#fg150)" stroke="url(#sg150)" stroke-width="1.1"/><path d="M21 132.3H142" stroke="#a89888" stroke-width="0.7"/><path d="M21 132V71.7M19.2 129.8H21M19.2 119H21M19.2 108.1H21M19.2 97.2H21M19.2 86.4H21M19.2 75.5H21M21.5 132v1.1M45.5 132v1.1M69.5 132v1.1M93.5 132v1.1M117.5 132v1.1M33.5 132v1.8M57.5 132v1.8M81.5 132v1.8M105.5 132v1.8M129.5 132v1.8M146.7 121h2.2M152.9 106.3h2.2M158.5 93.1h2.2M163.6 81.2h2.2M168.2 70.4h2.2M172.3 60.6h2.2M176.2 51.6h2.2" stroke="#333" stroke-width="0.5" fill="none"/><g font-family="Liberation Serif, serif" font-weight="bold" font-size="4.2" fill="#000" stroke="#000" stroke-width="0.18"><text x="18.4" y="131.1" text-anchor="end">0.0</text><text x="18.4" y="120.3" text-anchor="end">0.2</text><text x="18.4" y="109.4" text-anchor="end">0.4</text><text x="18.4" y="98.5" text-anchor="end">0.6</text><text x="18.4" y="87.7" text-anchor="end">0.8</text><text x="18.4" y="76.8" text-anchor="end">1.0</text><text x="33.5" y="140" text-anchor="middle">2.24</text><text x="57.5" y="140" text-anchor="middle">2.26</text><text x="81.5" y="140" text-anchor="middle">2.28</text><text x="105.5" y="140" text-anchor="middle">2.30</text><text x="129.5" y="140" text-anchor="middle">2.32</text><text x="149.6" y="124">0</text><text x="155.8" y="109.3">5</text><text x="161.4" y="96.1">10</text><text x="166.5" y="84.2">15</text><text x="171.1" y="73.4">20</text><text x="175.2" y="63.6">25</text><text x="179.1" y="54.6">30</text></g><text font-family="Liberation Serif, serif" font-weight="bold" font-size="10.8" letter-spacing="-0.12" x="95.4" y="13.7">(f)&#160; @ 3.26 mJ/cm²</text><text font-family="Liberation Serif, serif" font-weight="bold" font-size="7.55" stroke="#000" stroke-width="0.12" text-anchor="middle" transform="translate(8.4,101.6) rotate(-90)">Normalized Intensity (a.u.)</text><text font-family="Liberation Serif, serif" font-weight="bold" font-size="7.6" stroke="#000" stroke-width="0.12" text-anchor="middle" x="82.3" y="147.7">Photon Energy (eV)</text><text font-family="Liberation Serif, serif" font-weight="bold" font-size="6.2" fill="#111" text-anchor="middle" transform="translate(176.3,81) rotate(-67) scale(0.67,1)">Time Delay (ps)</text></g></g></svg></body></html>
